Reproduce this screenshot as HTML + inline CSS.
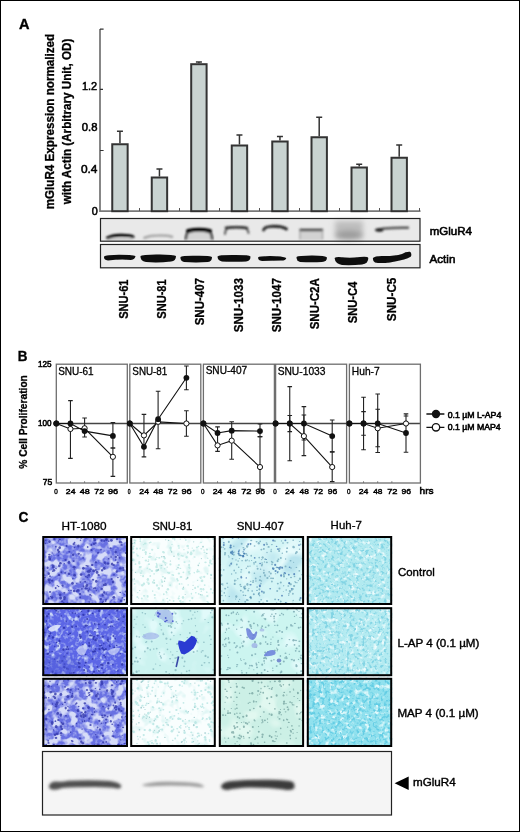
<!DOCTYPE html>
<html><head><meta charset="utf-8"><title>Figure</title>
<style>html,body{margin:0;padding:0;background:#fff;width:520px;height:832px;overflow:hidden}svg{display:block}</style>
</head><body>
<svg width="520" height="832" viewBox="0 0 520 832"><rect x="0.5" y="0.5" width="519" height="831" fill="#fff" stroke="#000" stroke-width="1"/><path d="M100 29 V211.2 H420.5" stroke="#7a7a7a" stroke-width="1.8" fill="none"/>
<path d="M100 29.2 H103.6 M100 89.3 H103 M100 150.5 H103.6" stroke="#333" stroke-width="1.2" fill="none"/>
<path d="M139.5 211 V208 M179.5 211 V208 M219.5 211 V208 M259.5 211 V208 M299.5 211 V208 M339.5 211 V208 M379.5 211 V208 M419.5 211 V208 " stroke="#555" stroke-width="1" fill="none"/>
<rect x="112.25" y="144.25" width="15.4" height="66.95" fill="#c9d3d1" stroke="#333" stroke-width="2"/>
<path d="M119.95 143.25 V131.25 M116.95 131.35 H122.95" stroke="#333" stroke-width="1.5" fill="none"/>
<rect x="151.75" y="177.50" width="15.4" height="33.70" fill="#c9d3d1" stroke="#333" stroke-width="2"/>
<path d="M159.45 176.5 V169.0 M156.45 169.1 H162.45" stroke="#333" stroke-width="1.5" fill="none"/>
<rect x="191.20" y="64.20" width="15.4" height="147.00" fill="#c9d3d1" stroke="#333" stroke-width="2"/>
<path d="M198.90 63.2 V62.0 M195.90 62.1 H201.90" stroke="#333" stroke-width="1.5" fill="none"/>
<rect x="231.75" y="145.50" width="15.4" height="65.70" fill="#c9d3d1" stroke="#333" stroke-width="2"/>
<path d="M239.45 144.5 V135.0 M236.45 135.1 H242.45" stroke="#333" stroke-width="1.5" fill="none"/>
<rect x="272.25" y="141.50" width="15.4" height="69.70" fill="#c9d3d1" stroke="#333" stroke-width="2"/>
<path d="M279.95 140.5 V136.5 M276.95 136.6 H282.95" stroke="#333" stroke-width="1.5" fill="none"/>
<rect x="311.50" y="137.25" width="15.4" height="73.95" fill="#c9d3d1" stroke="#333" stroke-width="2"/>
<path d="M319.20 136.25 V117.25 M316.20 117.35 H322.20" stroke="#333" stroke-width="1.5" fill="none"/>
<rect x="351.50" y="167.50" width="15.4" height="43.70" fill="#c9d3d1" stroke="#333" stroke-width="2"/>
<path d="M359.20 166.5 V164.25 M356.20 164.35 H362.20" stroke="#333" stroke-width="1.5" fill="none"/>
<rect x="391.50" y="157.75" width="15.4" height="53.45" fill="#c9d3d1" stroke="#333" stroke-width="2"/>
<path d="M399.20 156.75 V145.0 M396.20 145.1 H402.20" stroke="#333" stroke-width="1.5" fill="none"/>
<defs><linearGradient id="gb1" x1="0" y1="0" x2="0" y2="1"><stop offset="0" stop-color="#dcdcdc"/><stop offset="1" stop-color="#ececec"/></linearGradient><filter id="bl1" x="-20%" y="-50%" width="140%" height="200%"><feGaussianBlur stdDeviation="1.2"/></filter><filter id="bl2" x="-20%" y="-50%" width="140%" height="200%"><feGaussianBlur stdDeviation="2"/></filter></defs>
<defs><filter id="b08" x="-10%" y="-50%" width="120%" height="200%"><feGaussianBlur stdDeviation="0.8"/></filter><filter id="b06" x="-10%" y="-50%" width="120%" height="200%"><feGaussianBlur stdDeviation="0.55"/></filter><filter id="b13" x="-10%" y="-80%" width="120%" height="260%"><feGaussianBlur stdDeviation="1.6"/></filter><filter id="b15" x="-10%" y="-80%" width="120%" height="260%"><feGaussianBlur stdDeviation="1.5"/></filter><filter id="b25" x="-20%" y="-50%" width="140%" height="200%"><feGaussianBlur stdDeviation="2.5"/></filter></defs>
<rect x="100.5" y="218.5" width="319.5" height="22.7" fill="#e9e9e9"/>
<g filter="url(#b08)" fill="none" stroke-linecap="round">
<rect x="335" y="221" width="28" height="18" fill="#bdbdbd" stroke="none" filter="url(#b25)"/>
<ellipse cx="349" cy="235" rx="13" ry="4" fill="#9a9a9a" stroke="none" filter="url(#b25)"/>
<rect x="300" y="231" width="22" height="9" fill="#d2d2d2" stroke="none"/>
<rect x="187" y="232" width="24" height="8" fill="#d4d4d4" stroke="none"/>
<path d="M107.5 237.8 Q112 235.5 120 235.2 Q130 235 133 236.8" stroke="#000" stroke-width="3"/>
<path d="M108 239.5 Q120 238.5 132 239" stroke="#bbb" stroke-width="1.6"/>
<path d="M144.5 237.8 Q150 235.5 158 235.5 Q168 235.2 172 236.8" stroke="#a8a8a8" stroke-width="2.6"/>
<path d="M186 239 Q186 231.5 192 230.5 Q199 229.8 206 230.5 Q212 231.5 212 239" stroke="#111" stroke-width="2.2"/>
<path d="M188 231 Q199 228.5 210 231" stroke="#000" stroke-width="4"/>
<path d="M225 234 Q225 228 231 227.3 Q237 226.8 243 227.3 Q248 228 248.5 233" stroke="#5a5a5a" stroke-width="2"/>
<path d="M226 227.8 Q237 226.5 247 228" stroke="#2a2a2a" stroke-width="2.6"/>
<path d="M263.5 230 Q264.5 226.5 272 226.3 Q282 226 286.5 229" stroke="#222" stroke-width="2.8"/>
<path d="M300.5 230 H322" stroke="#3a3a3a" stroke-width="2.6"/>
<path d="M300 231 V239 M322.5 231 V239" stroke="#aaa" stroke-width="1.5"/>
<path d="M376 230 Q380 229.5 384 228.5 Q395 227.5 408 227.8" stroke="#555" stroke-width="2.4"/>
<ellipse cx="379.5" cy="230" rx="4" ry="1.8" fill="#222" stroke="none"/>
</g>
<rect x="100.5" y="218.5" width="319.5" height="22.7" fill="none" stroke="#222" stroke-width="1.2"/>
<rect x="100.5" y="244.5" width="319.5" height="23.3" fill="#ebebeb"/>
<g filter="url(#b06)" fill="#0a0a0a">
<path d="M104 256.5 Q106 254.8 119 254.8 Q132 254.8 135.5 256 Q135 259.5 131 260 Q120 259 108 260.6 Q103.5 260 104 256.5Z"/>
<path d="M140.5 256 Q142 254.3 158 254.4 Q174 254.3 176 256 Q176 261 171 261.5 Q158 263 146 262 Q140 261 140.5 256Z"/>
<path d="M180.5 257 Q182 255.5 196 255.7 Q210 255.5 212 257 Q212 261.5 208 262 Q196 262.8 184 262 Q180 261 180.5 257Z"/>
<path d="M217.5 256.5 Q219 255 234 255.1 Q249 255 250.5 256.5 Q250.5 261 246 261.5 Q234 262 222 261.5 Q217.5 260.5 217.5 256.5Z"/>
<path d="M258 257.5 Q259 256 270 256 Q283 256.2 286.3 258 Q286 260.5 281 260.6 Q270 261 262 261 Q258 260.5 258 257.5Z"/>
<path d="M296.5 257 Q298 255.5 312 255.5 Q326 255.5 327 257.5 Q327 261.5 322 262 Q312 262.5 300 262 Q296.5 261 296.5 257Z"/>
<path d="M334.6 258 Q336 256.3 345 257.5 Q352 258 360 257 Q368 256.2 368.3 258 Q368.5 263.5 362 264.5 Q352 265.5 342 265 Q335 263.5 334.6 258Z"/>
<path d="M373 258 Q375 255.5 385 256 Q395 256 402 254 Q406 251.5 410 251.8 Q412 253 411 256.5 Q408 258.5 404 259.5 Q398 261 390 262.5 Q380 263.5 375 262.5 Q372.5 261 373 258Z"/>
</g>
<rect x="100.5" y="244.5" width="319.5" height="23.3" fill="none" stroke="#222" stroke-width="1.2"/>
<path d="M56 423.5 H420.5" stroke="#444" stroke-width="1.3"/>
<rect x="56.3" y="364.2" width="71" height="118.8" fill="none" stroke="#6e6e6e" stroke-width="1.3"/>
<path d="M70.45 483 V481.2 M84.60 483 V481.2 M98.75 483 V481.2 " stroke="#666" stroke-width="0.8"/>
<rect x="129.8" y="364.2" width="71" height="118.8" fill="none" stroke="#6e6e6e" stroke-width="1.3"/>
<path d="M143.95 483 V481.2 M158.10 483 V481.2 M172.25 483 V481.2 " stroke="#666" stroke-width="0.8"/>
<rect x="203.4" y="364.2" width="71" height="118.8" fill="none" stroke="#6e6e6e" stroke-width="1.3"/>
<path d="M217.55 483 V481.2 M231.70 483 V481.2 M245.85 483 V481.2 " stroke="#666" stroke-width="0.8"/>
<rect x="275.6" y="364.2" width="71" height="118.8" fill="none" stroke="#6e6e6e" stroke-width="1.3"/>
<path d="M289.75 483 V481.2 M303.90 483 V481.2 M318.05 483 V481.2 " stroke="#666" stroke-width="0.8"/>
<rect x="349.4" y="364.2" width="71" height="118.8" fill="none" stroke="#6e6e6e" stroke-width="1.3"/>
<path d="M363.55 483 V481.2 M377.70 483 V481.2 M391.85 483 V481.2 " stroke="#666" stroke-width="0.8"/>
<path d="M70.45 400.6 V458.4 M68.15 400.6 H72.75 M68.15 458.4 H72.75" stroke="#222" stroke-width="1.1"/>
<path d="M84.60 418 V437 M82.30 418 H86.90 M82.30 437 H86.90" stroke="#222" stroke-width="1.1"/>
<path d="M112.90 422.5 V448 M110.60 422.5 H115.20 M110.60 448 H115.20" stroke="#222" stroke-width="1.1"/>
<path d="M112.90 448 V476.4 M110.60 448 H115.20 M110.60 476.4 H115.20" stroke="#222" stroke-width="1.1"/>
<polyline points="56.30,423.50 70.45,428.97 84.60,428.26 112.90,456.82" fill="none" stroke="#111" stroke-width="1.1"/>
<polyline points="56.30,423.50 70.45,423.50 84.60,431.12 112.90,435.88" fill="none" stroke="#111" stroke-width="1.1"/>
<circle cx="56.30" cy="423.50" r="2.6" fill="#fff" stroke="#111" stroke-width="1"/>
<circle cx="70.45" cy="428.97" r="2.6" fill="#fff" stroke="#111" stroke-width="1"/>
<circle cx="84.60" cy="428.26" r="2.6" fill="#fff" stroke="#111" stroke-width="1"/>
<circle cx="112.90" cy="456.82" r="2.6" fill="#fff" stroke="#111" stroke-width="1"/>
<circle cx="56.30" cy="423.50" r="2.9" fill="#111"/>
<circle cx="70.45" cy="423.50" r="2.9" fill="#111"/>
<circle cx="84.60" cy="431.12" r="2.9" fill="#111"/>
<circle cx="112.90" cy="435.88" r="2.9" fill="#111"/>
<path d="M143.95 414.4 V456.9 M141.65 414.4 H146.25 M141.65 456.9 H146.25" stroke="#222" stroke-width="1.1"/>
<path d="M158.10 391.25 V448.75 M155.80 391.25 H160.40 M155.80 448.75 H160.40" stroke="#222" stroke-width="1.1"/>
<path d="M186.40 366 V389.7 M184.10 366 H188.70 M184.10 389.7 H188.70" stroke="#222" stroke-width="1.1"/>
<path d="M186.40 410.8 V436.25 M184.10 410.8 H188.70 M184.10 436.25 H188.70" stroke="#222" stroke-width="1.1"/>
<polyline points="129.80,423.50 143.95,435.40 158.10,421.83 186.40,423.50" fill="none" stroke="#111" stroke-width="1.1"/>
<polyline points="129.80,423.50 143.95,446.82 158.10,419.22 186.40,377.80" fill="none" stroke="#111" stroke-width="1.1"/>
<circle cx="129.80" cy="423.50" r="2.6" fill="#fff" stroke="#111" stroke-width="1"/>
<circle cx="143.95" cy="435.40" r="2.6" fill="#fff" stroke="#111" stroke-width="1"/>
<circle cx="158.10" cy="421.83" r="2.6" fill="#fff" stroke="#111" stroke-width="1"/>
<circle cx="186.40" cy="423.50" r="2.6" fill="#fff" stroke="#111" stroke-width="1"/>
<circle cx="129.80" cy="423.50" r="2.9" fill="#111"/>
<circle cx="143.95" cy="446.82" r="2.9" fill="#111"/>
<circle cx="158.10" cy="419.22" r="2.9" fill="#111"/>
<circle cx="186.40" cy="377.80" r="2.9" fill="#111"/>
<path d="M217.55 426.9 V451.4 M215.25 426.9 H219.85 M215.25 451.4 H219.85" stroke="#222" stroke-width="1.1"/>
<path d="M231.70 421.7 V459.2 M229.40 421.7 H234.00 M229.40 459.2 H234.00" stroke="#222" stroke-width="1.1"/>
<path d="M260.00 424 V436.6 M257.70 424 H262.30 M257.70 436.6 H262.30" stroke="#222" stroke-width="1.1"/>
<path d="M260.00 436.6 V489 M257.70 436.6 H262.30 M257.70 489 H262.30" stroke="#222" stroke-width="1.1"/>
<polyline points="203.40,423.50 217.55,445.40 231.70,440.64 260.00,467.05" fill="none" stroke="#111" stroke-width="1.1"/>
<polyline points="203.40,423.50 217.55,433.02 231.70,430.64 260.00,431.12" fill="none" stroke="#111" stroke-width="1.1"/>
<circle cx="203.40" cy="423.50" r="2.6" fill="#fff" stroke="#111" stroke-width="1"/>
<circle cx="217.55" cy="445.40" r="2.6" fill="#fff" stroke="#111" stroke-width="1"/>
<circle cx="231.70" cy="440.64" r="2.6" fill="#fff" stroke="#111" stroke-width="1"/>
<circle cx="260.00" cy="467.05" r="2.6" fill="#fff" stroke="#111" stroke-width="1"/>
<circle cx="203.40" cy="423.50" r="2.9" fill="#111"/>
<circle cx="217.55" cy="433.02" r="2.9" fill="#111"/>
<circle cx="231.70" cy="430.64" r="2.9" fill="#111"/>
<circle cx="260.00" cy="431.12" r="2.9" fill="#111"/>
<path d="M289.75 386.6 V460.8 M287.45 386.6 H292.05 M287.45 460.8 H292.05" stroke="#222" stroke-width="1.1"/>
<path d="M289.75 415.5 V431.6 M287.45 415.5 H292.05 M287.45 431.6 H292.05" stroke="#222" stroke-width="1.1"/>
<path d="M303.90 406.6 V455.6 M301.60 406.6 H306.20 M301.60 455.6 H306.20" stroke="#222" stroke-width="1.1"/>
<path d="M303.90 415 V440 M301.60 415 H306.20 M301.60 440 H306.20" stroke="#222" stroke-width="1.1"/>
<path d="M332.20 420 V451.9 M329.90 420 H334.50 M329.90 451.9 H334.50" stroke="#222" stroke-width="1.1"/>
<path d="M332.20 451.9 V481.6 M329.90 451.9 H334.50 M329.90 481.6 H334.50" stroke="#222" stroke-width="1.1"/>
<polyline points="275.60,423.50 289.75,423.50 303.90,436.11 332.20,467.05" fill="none" stroke="#111" stroke-width="1.1"/>
<polyline points="275.60,423.50 289.75,423.50 303.90,423.50 332.20,436.11" fill="none" stroke="#111" stroke-width="1.1"/>
<circle cx="275.60" cy="423.50" r="2.6" fill="#fff" stroke="#111" stroke-width="1"/>
<circle cx="289.75" cy="423.50" r="2.6" fill="#fff" stroke="#111" stroke-width="1"/>
<circle cx="303.90" cy="436.11" r="2.6" fill="#fff" stroke="#111" stroke-width="1"/>
<circle cx="332.20" cy="467.05" r="2.6" fill="#fff" stroke="#111" stroke-width="1"/>
<circle cx="275.60" cy="423.50" r="2.9" fill="#111"/>
<circle cx="289.75" cy="423.50" r="2.9" fill="#111"/>
<circle cx="303.90" cy="423.50" r="2.9" fill="#111"/>
<circle cx="332.20" cy="436.11" r="2.9" fill="#111"/>
<path d="M363.55 397.2 V449.8 M361.25 397.2 H365.85 M361.25 449.8 H365.85" stroke="#222" stroke-width="1.1"/>
<path d="M363.55 411.6 V435.3 M361.25 411.6 H365.85 M361.25 435.3 H365.85" stroke="#222" stroke-width="1.1"/>
<path d="M377.70 394 V452.5 M375.40 394 H380.00 M375.40 452.5 H380.00" stroke="#222" stroke-width="1.1"/>
<path d="M377.70 409.2 V446.7 M375.40 409.2 H380.00 M375.40 446.7 H380.00" stroke="#222" stroke-width="1.1"/>
<path d="M406.00 413.9 V452.2 M403.70 413.9 H408.30 M403.70 452.2 H408.30" stroke="#222" stroke-width="1.1"/>
<path d="M406.00 416 V416 M403.70 416 H408.30 M403.70 416 H408.30" stroke="#222" stroke-width="1.1"/>
<polyline points="349.40,423.50 363.55,423.50 377.70,428.26 406.00,423.50" fill="none" stroke="#111" stroke-width="1.1"/>
<polyline points="349.40,423.50 363.55,423.50 377.70,423.50 406.00,433.02" fill="none" stroke="#111" stroke-width="1.1"/>
<circle cx="349.40" cy="423.50" r="2.6" fill="#fff" stroke="#111" stroke-width="1"/>
<circle cx="363.55" cy="423.50" r="2.6" fill="#fff" stroke="#111" stroke-width="1"/>
<circle cx="377.70" cy="428.26" r="2.6" fill="#fff" stroke="#111" stroke-width="1"/>
<circle cx="406.00" cy="423.50" r="2.6" fill="#fff" stroke="#111" stroke-width="1"/>
<circle cx="349.40" cy="423.50" r="2.9" fill="#111"/>
<circle cx="363.55" cy="423.50" r="2.9" fill="#111"/>
<circle cx="377.70" cy="423.50" r="2.9" fill="#111"/>
<circle cx="406.00" cy="433.02" r="2.9" fill="#111"/>
<path d="M426.4 414 H444.4 M426.4 427.3 H444.4" stroke="#111" stroke-width="1.3"/>
<circle cx="436" cy="414" r="4.2" fill="#111"/>
<circle cx="436" cy="427.3" r="3.7" fill="#fff" stroke="#111" stroke-width="1.3"/>
<g clip-path="url(#c00)">
<rect x="42.3" y="536" width="85.7" height="69" fill="#6870e2"/>
<rect x="42.3" y="536" width="85.7" height="69" filter="url(#f000)"/>
<rect x="42.3" y="536" width="85.7" height="69" filter="url(#f001)"/>
<g fill="#3237ac" opacity="0.8"><ellipse cx="81.1" cy="574.6" rx="1.3" ry="1.3"/><ellipse cx="85.8" cy="576.5" rx="0.8" ry="0.8"/><ellipse cx="96.3" cy="590.7" rx="0.8" ry="0.7"/><ellipse cx="50.1" cy="591.9" rx="1.2" ry="0.9"/><ellipse cx="126.5" cy="602.6" rx="1.2" ry="1.2"/><ellipse cx="55.8" cy="537.0" rx="1.1" ry="0.8"/><ellipse cx="58.6" cy="552.7" rx="0.7" ry="0.7"/><ellipse cx="80.1" cy="594.1" rx="1.1" ry="1.1"/><ellipse cx="85.1" cy="581.7" rx="1.0" ry="0.9"/><ellipse cx="127.8" cy="604.7" rx="1.3" ry="1.4"/><ellipse cx="69.3" cy="551.8" rx="0.9" ry="0.7"/><ellipse cx="108.0" cy="563.6" rx="1.3" ry="1.2"/><ellipse cx="124.4" cy="594.5" rx="0.7" ry="0.6"/><ellipse cx="120.3" cy="568.4" rx="1.4" ry="1.2"/><ellipse cx="48.6" cy="579.4" rx="1.2" ry="1.0"/><ellipse cx="49.8" cy="558.9" rx="1.4" ry="1.5"/><ellipse cx="52.4" cy="553.0" rx="0.8" ry="0.6"/><ellipse cx="110.6" cy="548.3" rx="1.1" ry="1.0"/><ellipse cx="58.6" cy="586.5" rx="0.8" ry="0.8"/><ellipse cx="52.3" cy="565.0" rx="0.8" ry="0.7"/><ellipse cx="125.5" cy="591.4" rx="0.9" ry="1.0"/><ellipse cx="60.4" cy="563.2" rx="1.3" ry="1.3"/><ellipse cx="50.9" cy="604.3" rx="0.8" ry="0.7"/><ellipse cx="108.5" cy="558.7" rx="0.9" ry="0.7"/><ellipse cx="50.0" cy="576.2" rx="0.9" ry="0.9"/><ellipse cx="74.2" cy="567.3" rx="1.4" ry="1.3"/><ellipse cx="91.5" cy="595.8" rx="0.8" ry="0.6"/><ellipse cx="120.2" cy="592.4" rx="0.9" ry="0.7"/><ellipse cx="105.7" cy="600.9" rx="0.8" ry="1.0"/><ellipse cx="117.9" cy="577.6" rx="1.0" ry="0.7"/><ellipse cx="45.6" cy="602.4" rx="0.9" ry="0.9"/><ellipse cx="64.3" cy="592.8" rx="1.1" ry="0.9"/><ellipse cx="57.3" cy="585.7" rx="0.7" ry="0.6"/><ellipse cx="90.2" cy="594.8" rx="1.1" ry="0.9"/><ellipse cx="120.9" cy="550.1" rx="0.7" ry="0.6"/><ellipse cx="80.5" cy="540.2" rx="0.8" ry="0.7"/><ellipse cx="91.3" cy="545.1" rx="1.0" ry="1.1"/><ellipse cx="126.3" cy="581.3" rx="1.2" ry="1.2"/><ellipse cx="54.3" cy="538.4" rx="0.7" ry="0.8"/><ellipse cx="102.4" cy="602.4" rx="0.7" ry="0.7"/><ellipse cx="83.6" cy="586.4" rx="0.9" ry="1.1"/><ellipse cx="48.8" cy="573.7" rx="1.2" ry="1.4"/><ellipse cx="105.5" cy="584.6" rx="1.3" ry="1.5"/><ellipse cx="72.5" cy="583.3" rx="1.3" ry="1.5"/><ellipse cx="78.1" cy="590.5" rx="1.3" ry="1.3"/><ellipse cx="95.9" cy="562.4" rx="1.1" ry="1.1"/><ellipse cx="49.2" cy="580.1" rx="1.4" ry="1.6"/><ellipse cx="104.7" cy="562.8" rx="1.2" ry="1.2"/><ellipse cx="80.1" cy="593.8" rx="0.8" ry="0.8"/><ellipse cx="44.9" cy="577.5" rx="1.0" ry="0.8"/><ellipse cx="102.1" cy="570.3" rx="1.1" ry="1.3"/><ellipse cx="64.2" cy="536.8" rx="0.9" ry="0.9"/><ellipse cx="59.7" cy="547.7" rx="1.3" ry="1.4"/><ellipse cx="80.2" cy="597.5" rx="0.9" ry="1.0"/><ellipse cx="59.3" cy="565.7" rx="1.3" ry="1.5"/><ellipse cx="117.7" cy="562.5" rx="1.1" ry="1.0"/><ellipse cx="54.0" cy="570.3" rx="1.3" ry="1.4"/><ellipse cx="103.3" cy="601.6" rx="0.9" ry="0.7"/><ellipse cx="80.9" cy="555.0" rx="0.8" ry="0.8"/><ellipse cx="95.9" cy="570.1" rx="0.9" ry="1.0"/><ellipse cx="126.5" cy="567.2" rx="0.8" ry="0.5"/><ellipse cx="117.1" cy="538.9" rx="1.2" ry="1.2"/><ellipse cx="68.8" cy="590.6" rx="0.7" ry="0.5"/><ellipse cx="81.3" cy="537.7" rx="1.3" ry="1.0"/><ellipse cx="54.4" cy="539.2" rx="1.1" ry="1.1"/><ellipse cx="96.3" cy="581.2" rx="1.3" ry="1.5"/><ellipse cx="101.0" cy="549.8" rx="1.0" ry="0.8"/><ellipse cx="43.2" cy="568.6" rx="1.2" ry="0.9"/><ellipse cx="65.6" cy="559.9" rx="1.2" ry="1.1"/><ellipse cx="95.0" cy="588.2" rx="1.0" ry="1.1"/><ellipse cx="120.0" cy="542.0" rx="1.4" ry="1.4"/><ellipse cx="53.4" cy="567.3" rx="1.1" ry="1.3"/><ellipse cx="74.6" cy="575.2" rx="1.3" ry="1.4"/><ellipse cx="123.2" cy="568.0" rx="1.2" ry="0.9"/><ellipse cx="104.2" cy="592.5" rx="1.1" ry="1.2"/><ellipse cx="60.6" cy="598.1" rx="1.4" ry="1.6"/><ellipse cx="88.3" cy="590.6" rx="0.9" ry="1.1"/><ellipse cx="115.6" cy="560.0" rx="0.8" ry="0.7"/><ellipse cx="89.5" cy="589.0" rx="1.0" ry="0.7"/><ellipse cx="111.6" cy="540.4" rx="1.3" ry="1.0"/><ellipse cx="71.0" cy="590.4" rx="0.8" ry="0.6"/><ellipse cx="86.6" cy="585.9" rx="1.3" ry="1.3"/><ellipse cx="123.4" cy="570.0" rx="1.4" ry="1.0"/><ellipse cx="61.3" cy="572.3" rx="0.9" ry="1.0"/><ellipse cx="97.1" cy="572.1" rx="1.3" ry="1.3"/><ellipse cx="69.0" cy="562.3" rx="1.3" ry="1.5"/><ellipse cx="60.1" cy="594.7" rx="1.4" ry="1.3"/><ellipse cx="91.4" cy="549.9" rx="1.1" ry="1.0"/><ellipse cx="94.2" cy="537.9" rx="1.4" ry="1.3"/><ellipse cx="76.6" cy="591.3" rx="1.1" ry="1.0"/><ellipse cx="101.5" cy="540.5" rx="1.1" ry="1.0"/><ellipse cx="124.3" cy="599.7" rx="0.9" ry="0.8"/><ellipse cx="53.2" cy="565.9" rx="1.3" ry="1.5"/><ellipse cx="83.1" cy="557.9" rx="0.8" ry="0.8"/><ellipse cx="121.6" cy="544.9" rx="1.2" ry="0.9"/><ellipse cx="58.9" cy="551.7" rx="1.2" ry="1.0"/><ellipse cx="72.8" cy="578.8" rx="0.8" ry="0.8"/><ellipse cx="52.8" cy="571.2" rx="0.9" ry="0.7"/><ellipse cx="87.8" cy="566.1" rx="1.0" ry="0.9"/><ellipse cx="87.7" cy="547.0" rx="0.8" ry="0.9"/><ellipse cx="97.0" cy="572.5" rx="1.3" ry="1.3"/><ellipse cx="115.7" cy="552.1" rx="1.2" ry="1.3"/><ellipse cx="119.7" cy="557.8" rx="0.9" ry="1.1"/><ellipse cx="61.0" cy="604.9" rx="1.3" ry="1.0"/><ellipse cx="62.8" cy="586.1" rx="0.9" ry="0.7"/><ellipse cx="113.6" cy="565.1" rx="1.3" ry="1.0"/><ellipse cx="76.8" cy="583.3" rx="0.7" ry="0.6"/><ellipse cx="100.8" cy="598.9" rx="1.4" ry="1.0"/><ellipse cx="85.6" cy="588.3" rx="1.1" ry="1.1"/><ellipse cx="58.5" cy="540.9" rx="0.8" ry="0.6"/><ellipse cx="89.6" cy="571.5" rx="1.1" ry="0.8"/><ellipse cx="58.1" cy="550.1" rx="1.3" ry="1.5"/><ellipse cx="121.7" cy="542.6" rx="0.7" ry="0.9"/><ellipse cx="81.9" cy="588.8" rx="0.9" ry="0.9"/><ellipse cx="86.5" cy="565.7" rx="1.1" ry="0.8"/><ellipse cx="102.4" cy="594.3" rx="0.8" ry="0.8"/><ellipse cx="105.7" cy="564.0" rx="0.8" ry="0.7"/><ellipse cx="86.2" cy="537.1" rx="1.3" ry="1.5"/><ellipse cx="102.7" cy="595.4" rx="1.1" ry="1.0"/><ellipse cx="93.7" cy="570.8" rx="1.4" ry="1.5"/><ellipse cx="64.4" cy="598.9" rx="1.2" ry="1.3"/><ellipse cx="112.1" cy="564.0" rx="1.3" ry="1.5"/><ellipse cx="101.8" cy="588.9" rx="1.2" ry="1.1"/><ellipse cx="104.2" cy="540.9" rx="0.9" ry="0.9"/><ellipse cx="43.2" cy="560.5" rx="1.1" ry="1.2"/><ellipse cx="62.2" cy="601.2" rx="1.2" ry="1.0"/><ellipse cx="98.8" cy="575.3" rx="1.1" ry="1.0"/><ellipse cx="128.0" cy="580.3" rx="1.2" ry="1.3"/><ellipse cx="126.3" cy="537.6" rx="1.1" ry="1.2"/><ellipse cx="64.3" cy="563.7" rx="0.7" ry="0.6"/><ellipse cx="74.5" cy="542.8" rx="0.9" ry="1.0"/><ellipse cx="89.4" cy="571.0" rx="1.4" ry="1.4"/><ellipse cx="127.6" cy="580.0" rx="1.3" ry="0.9"/><ellipse cx="93.5" cy="588.4" rx="0.7" ry="0.9"/><ellipse cx="56.0" cy="568.6" rx="0.8" ry="0.8"/><ellipse cx="94.7" cy="540.0" rx="1.4" ry="1.2"/><ellipse cx="87.4" cy="577.3" rx="1.0" ry="0.8"/><ellipse cx="98.4" cy="574.7" rx="0.9" ry="1.0"/><ellipse cx="67.7" cy="537.0" rx="0.9" ry="0.6"/><ellipse cx="55.7" cy="588.1" rx="1.0" ry="1.1"/><ellipse cx="106.4" cy="539.5" rx="1.4" ry="1.6"/><ellipse cx="48.6" cy="598.5" rx="1.0" ry="0.9"/><ellipse cx="125.7" cy="552.8" rx="1.1" ry="1.2"/><ellipse cx="104.2" cy="568.3" rx="1.4" ry="1.5"/><ellipse cx="94.0" cy="543.9" rx="1.1" ry="1.1"/><ellipse cx="59.8" cy="539.6" rx="1.1" ry="0.8"/><ellipse cx="80.3" cy="582.1" rx="1.0" ry="0.8"/><ellipse cx="92.2" cy="564.9" rx="1.2" ry="1.2"/><ellipse cx="127.8" cy="601.7" rx="1.2" ry="1.0"/><ellipse cx="52.1" cy="597.6" rx="1.2" ry="1.3"/><ellipse cx="73.1" cy="554.7" rx="1.2" ry="1.2"/><ellipse cx="93.0" cy="579.7" rx="1.2" ry="1.0"/><ellipse cx="63.6" cy="603.6" rx="1.3" ry="1.5"/><ellipse cx="45.7" cy="540.2" rx="0.9" ry="0.8"/><ellipse cx="95.7" cy="543.1" rx="1.1" ry="0.8"/><ellipse cx="49.7" cy="582.7" rx="1.1" ry="1.1"/><ellipse cx="74.3" cy="569.0" rx="0.8" ry="0.7"/><ellipse cx="106.1" cy="593.9" rx="0.8" ry="0.6"/><ellipse cx="111.6" cy="579.0" rx="1.2" ry="1.0"/><ellipse cx="78.7" cy="553.8" rx="1.3" ry="1.1"/><ellipse cx="98.3" cy="604.3" rx="0.9" ry="0.9"/><ellipse cx="106.2" cy="599.5" rx="1.0" ry="0.9"/><ellipse cx="50.6" cy="596.4" rx="0.8" ry="0.6"/><ellipse cx="90.7" cy="569.5" rx="1.2" ry="1.0"/><ellipse cx="108.8" cy="541.2" rx="0.8" ry="0.9"/><ellipse cx="49.3" cy="557.0" rx="1.2" ry="1.3"/><ellipse cx="66.5" cy="545.9" rx="1.0" ry="1.0"/><ellipse cx="73.7" cy="544.1" rx="1.2" ry="1.2"/><ellipse cx="121.0" cy="600.9" rx="1.3" ry="1.2"/><ellipse cx="111.1" cy="557.0" rx="0.9" ry="0.8"/><ellipse cx="122.4" cy="597.7" rx="0.9" ry="0.8"/><ellipse cx="73.6" cy="561.1" rx="1.0" ry="0.9"/><ellipse cx="59.0" cy="574.9" rx="1.3" ry="1.2"/><ellipse cx="114.0" cy="574.8" rx="0.8" ry="0.9"/><ellipse cx="117.8" cy="555.4" rx="0.7" ry="0.7"/><ellipse cx="88.9" cy="575.2" rx="1.4" ry="1.4"/><ellipse cx="111.2" cy="540.4" rx="1.1" ry="1.2"/><ellipse cx="49.5" cy="541.6" rx="1.2" ry="1.4"/><ellipse cx="49.6" cy="579.8" rx="0.8" ry="0.9"/><ellipse cx="97.9" cy="552.9" rx="0.9" ry="0.9"/><ellipse cx="87.0" cy="588.8" rx="1.0" ry="0.8"/><ellipse cx="125.3" cy="582.4" rx="1.0" ry="1.0"/><ellipse cx="104.1" cy="584.9" rx="1.3" ry="1.2"/><ellipse cx="113.1" cy="582.0" rx="1.3" ry="1.4"/><ellipse cx="113.8" cy="597.3" rx="1.4" ry="1.4"/><ellipse cx="87.2" cy="585.0" rx="1.3" ry="1.1"/><ellipse cx="78.3" cy="546.1" rx="1.2" ry="1.5"/><ellipse cx="74.5" cy="547.6" rx="0.8" ry="0.8"/><ellipse cx="67.3" cy="602.9" rx="0.7" ry="0.6"/><ellipse cx="52.1" cy="580.7" rx="1.2" ry="1.0"/><ellipse cx="47.6" cy="567.7" rx="1.1" ry="1.3"/><ellipse cx="45.4" cy="543.5" rx="0.8" ry="0.7"/><ellipse cx="62.5" cy="585.5" rx="1.1" ry="0.9"/><ellipse cx="58.2" cy="555.4" rx="0.8" ry="0.9"/><ellipse cx="69.0" cy="573.8" rx="1.3" ry="1.2"/><ellipse cx="64.6" cy="597.2" rx="1.3" ry="1.2"/><ellipse cx="89.2" cy="602.0" rx="1.0" ry="0.8"/><ellipse cx="46.6" cy="601.4" rx="1.3" ry="1.1"/><ellipse cx="87.5" cy="571.6" rx="0.9" ry="1.1"/><ellipse cx="98.7" cy="552.4" rx="0.7" ry="0.7"/><ellipse cx="74.1" cy="591.0" rx="1.2" ry="1.2"/><ellipse cx="55.8" cy="546.8" rx="0.9" ry="0.8"/><ellipse cx="116.8" cy="571.6" rx="1.1" ry="1.4"/><ellipse cx="65.1" cy="572.9" rx="0.8" ry="0.9"/><ellipse cx="42.4" cy="592.7" rx="1.3" ry="1.4"/><ellipse cx="49.4" cy="554.6" rx="1.2" ry="0.9"/><ellipse cx="83.4" cy="568.3" rx="1.4" ry="1.4"/><ellipse cx="115.8" cy="556.9" rx="1.3" ry="1.1"/><ellipse cx="120.9" cy="542.3" rx="1.3" ry="1.0"/><ellipse cx="88.9" cy="572.3" rx="0.8" ry="0.9"/></g>
</g>
<rect x="43.3" y="537" width="83.7" height="67" fill="none" stroke="#000" stroke-width="2"/>
<g clip-path="url(#c01)">
<rect x="130.2" y="536" width="85.60000000000002" height="69" fill="#f9fefe"/>
<rect x="130.2" y="536" width="85.60000000000002" height="69" filter="url(#f010)"/>
<g fill="#b9e6e2" opacity="0.8"><ellipse cx="156.9" cy="557.4" rx="0.7" ry="0.6"/><ellipse cx="170.2" cy="585.3" rx="0.9" ry="1.0"/><ellipse cx="139.3" cy="563.2" rx="1.0" ry="1.2"/><ellipse cx="201.2" cy="581.1" rx="0.7" ry="0.6"/><ellipse cx="191.0" cy="552.4" rx="1.0" ry="1.0"/><ellipse cx="131.1" cy="604.4" rx="1.2" ry="0.9"/><ellipse cx="182.9" cy="556.0" rx="0.9" ry="0.9"/><ellipse cx="155.7" cy="559.3" rx="0.9" ry="1.0"/><ellipse cx="152.2" cy="549.8" rx="1.1" ry="1.0"/><ellipse cx="211.1" cy="574.8" rx="1.1" ry="1.0"/><ellipse cx="201.0" cy="542.4" rx="0.8" ry="0.6"/><ellipse cx="188.2" cy="584.9" rx="0.8" ry="0.7"/><ellipse cx="201.8" cy="576.9" rx="0.8" ry="0.6"/><ellipse cx="143.6" cy="544.6" rx="0.9" ry="0.7"/><ellipse cx="209.0" cy="565.5" rx="1.0" ry="1.0"/><ellipse cx="195.8" cy="592.7" rx="0.9" ry="0.8"/><ellipse cx="165.5" cy="537.1" rx="0.9" ry="1.0"/><ellipse cx="214.3" cy="590.5" rx="1.1" ry="1.1"/><ellipse cx="131.8" cy="558.8" rx="0.9" ry="0.9"/><ellipse cx="139.3" cy="562.1" rx="1.0" ry="1.1"/><ellipse cx="200.8" cy="578.2" rx="0.8" ry="0.9"/><ellipse cx="207.5" cy="573.8" rx="0.9" ry="0.9"/><ellipse cx="142.3" cy="585.2" rx="1.3" ry="1.2"/><ellipse cx="191.4" cy="593.7" rx="0.8" ry="1.0"/><ellipse cx="183.9" cy="549.7" rx="0.7" ry="0.6"/><ellipse cx="179.5" cy="584.1" rx="0.9" ry="1.0"/><ellipse cx="161.1" cy="567.9" rx="0.8" ry="0.9"/><ellipse cx="141.8" cy="598.4" rx="1.0" ry="1.0"/><ellipse cx="178.2" cy="554.2" rx="1.2" ry="1.5"/><ellipse cx="200.2" cy="577.5" rx="0.8" ry="0.9"/><ellipse cx="154.9" cy="597.9" rx="0.8" ry="0.8"/><ellipse cx="201.3" cy="548.8" rx="1.0" ry="0.8"/><ellipse cx="132.9" cy="548.4" rx="1.3" ry="1.5"/><ellipse cx="186.6" cy="557.2" rx="1.1" ry="1.2"/><ellipse cx="162.9" cy="576.8" rx="1.2" ry="0.8"/><ellipse cx="147.3" cy="568.3" rx="0.8" ry="0.7"/><ellipse cx="179.0" cy="548.0" rx="1.0" ry="0.8"/><ellipse cx="178.8" cy="558.9" rx="1.1" ry="0.8"/><ellipse cx="187.6" cy="546.0" rx="1.3" ry="1.3"/><ellipse cx="170.4" cy="564.4" rx="1.1" ry="1.1"/><ellipse cx="195.1" cy="587.9" rx="1.0" ry="1.2"/><ellipse cx="202.0" cy="595.0" rx="0.9" ry="0.9"/><ellipse cx="178.6" cy="598.5" rx="1.0" ry="1.0"/><ellipse cx="167.2" cy="598.4" rx="0.9" ry="0.6"/><ellipse cx="192.3" cy="598.1" rx="1.1" ry="1.1"/><ellipse cx="194.6" cy="557.0" rx="1.1" ry="0.8"/><ellipse cx="140.9" cy="566.8" rx="1.0" ry="0.9"/><ellipse cx="134.6" cy="583.9" rx="1.0" ry="0.8"/><ellipse cx="156.4" cy="563.3" rx="0.8" ry="0.6"/><ellipse cx="208.2" cy="602.7" rx="1.1" ry="1.2"/><ellipse cx="166.3" cy="591.6" rx="0.8" ry="0.9"/><ellipse cx="178.7" cy="598.3" rx="0.8" ry="0.8"/><ellipse cx="140.8" cy="573.1" rx="1.3" ry="0.9"/><ellipse cx="151.1" cy="556.6" rx="0.9" ry="0.7"/><ellipse cx="206.8" cy="592.3" rx="0.9" ry="0.8"/><ellipse cx="180.3" cy="539.2" rx="0.7" ry="0.8"/><ellipse cx="156.6" cy="570.4" rx="1.3" ry="1.5"/><ellipse cx="170.7" cy="550.2" rx="0.9" ry="1.0"/><ellipse cx="207.0" cy="549.5" rx="1.2" ry="1.1"/><ellipse cx="170.6" cy="547.9" rx="1.2" ry="1.5"/><ellipse cx="147.5" cy="579.6" rx="0.8" ry="0.9"/><ellipse cx="134.5" cy="543.3" rx="1.1" ry="1.0"/><ellipse cx="207.3" cy="596.0" rx="1.1" ry="0.9"/><ellipse cx="189.8" cy="600.7" rx="1.0" ry="0.7"/><ellipse cx="149.3" cy="557.2" rx="1.1" ry="0.9"/><ellipse cx="145.7" cy="552.2" rx="1.1" ry="1.2"/><ellipse cx="162.1" cy="581.7" rx="1.2" ry="1.2"/><ellipse cx="149.8" cy="556.8" rx="1.3" ry="1.3"/><ellipse cx="153.9" cy="580.2" rx="0.8" ry="0.9"/><ellipse cx="167.9" cy="572.5" rx="1.0" ry="0.7"/><ellipse cx="181.5" cy="555.6" rx="0.9" ry="0.9"/><ellipse cx="137.7" cy="555.7" rx="1.2" ry="0.9"/><ellipse cx="154.1" cy="573.8" rx="0.8" ry="0.9"/><ellipse cx="214.8" cy="538.3" rx="1.0" ry="1.1"/><ellipse cx="163.1" cy="600.1" rx="1.0" ry="0.8"/><ellipse cx="177.8" cy="580.5" rx="0.9" ry="0.9"/><ellipse cx="197.2" cy="571.7" rx="1.0" ry="1.1"/><ellipse cx="188.8" cy="571.9" rx="1.3" ry="1.0"/><ellipse cx="196.9" cy="547.4" rx="1.1" ry="0.9"/><ellipse cx="167.9" cy="589.3" rx="1.2" ry="1.3"/><ellipse cx="150.4" cy="569.7" rx="0.8" ry="0.8"/><ellipse cx="172.9" cy="538.4" rx="1.1" ry="1.1"/><ellipse cx="179.2" cy="596.2" rx="0.8" ry="0.6"/><ellipse cx="131.7" cy="570.2" rx="1.0" ry="0.9"/><ellipse cx="152.7" cy="591.1" rx="0.7" ry="0.9"/><ellipse cx="178.9" cy="573.5" rx="1.2" ry="1.0"/><ellipse cx="142.7" cy="557.5" rx="0.7" ry="0.6"/><ellipse cx="183.4" cy="572.3" rx="0.9" ry="0.9"/><ellipse cx="137.8" cy="592.6" rx="0.8" ry="0.7"/><ellipse cx="143.9" cy="583.7" rx="1.2" ry="1.3"/><ellipse cx="135.4" cy="564.3" rx="0.9" ry="0.7"/><ellipse cx="213.3" cy="538.9" rx="1.0" ry="1.1"/><ellipse cx="214.6" cy="546.0" rx="1.0" ry="1.0"/><ellipse cx="133.6" cy="552.6" rx="1.2" ry="1.0"/><ellipse cx="163.8" cy="556.6" rx="1.0" ry="0.7"/><ellipse cx="133.1" cy="604.7" rx="1.2" ry="1.2"/><ellipse cx="149.9" cy="553.5" rx="1.0" ry="0.8"/><ellipse cx="169.7" cy="600.3" rx="0.9" ry="0.8"/><ellipse cx="214.2" cy="578.2" rx="0.7" ry="0.7"/><ellipse cx="185.8" cy="540.0" rx="0.9" ry="0.9"/><ellipse cx="204.2" cy="576.8" rx="1.2" ry="1.1"/><ellipse cx="163.8" cy="594.2" rx="0.9" ry="1.0"/><ellipse cx="148.6" cy="560.0" rx="0.8" ry="0.8"/><ellipse cx="144.2" cy="550.1" rx="0.8" ry="0.8"/><ellipse cx="156.6" cy="566.9" rx="1.3" ry="1.3"/><ellipse cx="204.0" cy="550.1" rx="0.9" ry="0.7"/><ellipse cx="189.4" cy="561.0" rx="0.9" ry="0.6"/><ellipse cx="145.8" cy="554.1" rx="0.9" ry="1.1"/><ellipse cx="191.4" cy="554.5" rx="0.9" ry="0.7"/><ellipse cx="210.4" cy="560.8" rx="1.2" ry="1.2"/><ellipse cx="207.8" cy="537.4" rx="0.9" ry="0.8"/><ellipse cx="137.3" cy="596.9" rx="0.9" ry="1.0"/><ellipse cx="174.7" cy="539.8" rx="0.9" ry="0.8"/><ellipse cx="133.7" cy="546.4" rx="1.1" ry="0.8"/><ellipse cx="156.9" cy="565.3" rx="1.0" ry="0.8"/><ellipse cx="190.7" cy="554.0" rx="1.1" ry="1.2"/><ellipse cx="142.8" cy="550.1" rx="0.9" ry="0.9"/><ellipse cx="164.9" cy="562.7" rx="1.2" ry="1.0"/><ellipse cx="155.2" cy="559.8" rx="0.8" ry="0.6"/><ellipse cx="132.3" cy="579.5" rx="1.0" ry="1.1"/><ellipse cx="213.7" cy="556.6" rx="1.1" ry="1.3"/><ellipse cx="148.7" cy="583.6" rx="1.1" ry="1.3"/><ellipse cx="204.5" cy="552.2" rx="1.1" ry="0.8"/><ellipse cx="166.8" cy="563.1" rx="0.7" ry="0.7"/><ellipse cx="158.3" cy="570.3" rx="0.9" ry="0.7"/><ellipse cx="164.6" cy="568.8" rx="0.8" ry="0.8"/><ellipse cx="150.7" cy="542.4" rx="0.9" ry="0.8"/><ellipse cx="143.1" cy="576.2" rx="1.1" ry="1.1"/><ellipse cx="190.1" cy="537.6" rx="0.9" ry="0.8"/><ellipse cx="135.6" cy="563.9" rx="0.7" ry="0.7"/><ellipse cx="180.4" cy="568.4" rx="0.9" ry="0.7"/><ellipse cx="132.2" cy="559.9" rx="1.2" ry="1.2"/><ellipse cx="152.6" cy="582.1" rx="0.8" ry="0.8"/><ellipse cx="182.9" cy="601.9" rx="0.9" ry="0.9"/><ellipse cx="210.9" cy="589.2" rx="1.1" ry="1.1"/><ellipse cx="165.4" cy="564.7" rx="0.9" ry="1.0"/><ellipse cx="205.5" cy="562.3" rx="1.2" ry="0.9"/><ellipse cx="141.8" cy="571.0" rx="0.9" ry="0.8"/><ellipse cx="213.8" cy="546.3" rx="0.8" ry="0.7"/><ellipse cx="188.4" cy="552.2" rx="0.7" ry="0.7"/><ellipse cx="163.9" cy="552.5" rx="1.0" ry="1.0"/><ellipse cx="177.1" cy="579.1" rx="1.0" ry="1.2"/><ellipse cx="213.1" cy="559.0" rx="0.9" ry="1.0"/><ellipse cx="157.0" cy="585.4" rx="1.1" ry="1.2"/><ellipse cx="212.7" cy="592.9" rx="0.8" ry="0.8"/><ellipse cx="172.2" cy="574.9" rx="0.9" ry="0.8"/><ellipse cx="194.3" cy="572.8" rx="0.8" ry="0.7"/><ellipse cx="158.0" cy="548.3" rx="1.0" ry="0.8"/><ellipse cx="135.6" cy="540.7" rx="0.8" ry="0.8"/><ellipse cx="139.9" cy="567.2" rx="1.2" ry="1.1"/><ellipse cx="144.1" cy="595.8" rx="1.2" ry="0.9"/><ellipse cx="151.9" cy="571.0" rx="1.2" ry="1.1"/><ellipse cx="191.5" cy="553.4" rx="1.1" ry="1.0"/><ellipse cx="158.8" cy="588.4" rx="1.2" ry="1.3"/><ellipse cx="178.8" cy="565.0" rx="1.1" ry="1.1"/><ellipse cx="201.3" cy="591.3" rx="0.8" ry="0.7"/><ellipse cx="187.5" cy="551.9" rx="0.8" ry="0.6"/><ellipse cx="180.3" cy="600.9" rx="1.3" ry="1.0"/><ellipse cx="189.1" cy="564.9" rx="1.1" ry="1.0"/><ellipse cx="210.1" cy="604.2" rx="0.7" ry="0.8"/><ellipse cx="140.3" cy="538.9" rx="0.9" ry="0.9"/><ellipse cx="215.3" cy="544.3" rx="0.9" ry="0.6"/><ellipse cx="176.6" cy="569.3" rx="0.9" ry="0.8"/><ellipse cx="198.7" cy="593.9" rx="0.9" ry="0.8"/><ellipse cx="183.1" cy="588.8" rx="1.3" ry="1.2"/><ellipse cx="189.6" cy="573.7" rx="1.2" ry="0.9"/><ellipse cx="145.2" cy="543.4" rx="1.3" ry="1.0"/><ellipse cx="172.0" cy="544.3" rx="0.9" ry="0.6"/><ellipse cx="178.6" cy="545.9" rx="1.1" ry="0.9"/><ellipse cx="149.7" cy="569.3" rx="0.9" ry="0.8"/><ellipse cx="134.6" cy="540.4" rx="1.2" ry="1.1"/><ellipse cx="136.9" cy="548.6" rx="1.0" ry="1.2"/><ellipse cx="147.5" cy="595.8" rx="1.0" ry="0.9"/><ellipse cx="199.3" cy="563.3" rx="0.7" ry="0.7"/><ellipse cx="186.4" cy="579.0" rx="0.9" ry="1.0"/><ellipse cx="204.2" cy="604.6" rx="1.0" ry="1.1"/><ellipse cx="192.3" cy="548.1" rx="0.7" ry="0.6"/><ellipse cx="140.4" cy="541.2" rx="0.9" ry="1.0"/><ellipse cx="156.7" cy="571.5" rx="0.7" ry="0.6"/><ellipse cx="212.3" cy="536.8" rx="1.0" ry="1.1"/><ellipse cx="198.0" cy="586.7" rx="0.9" ry="1.0"/><ellipse cx="201.0" cy="589.0" rx="1.3" ry="1.0"/><ellipse cx="211.6" cy="563.8" rx="1.1" ry="0.9"/><ellipse cx="208.1" cy="537.6" rx="1.0" ry="0.9"/><ellipse cx="163.4" cy="561.5" rx="1.1" ry="1.2"/><ellipse cx="161.4" cy="580.0" rx="0.9" ry="0.8"/><ellipse cx="207.7" cy="558.2" rx="0.8" ry="0.7"/><ellipse cx="193.7" cy="550.6" rx="1.1" ry="1.1"/><ellipse cx="188.4" cy="548.2" rx="0.8" ry="0.6"/><ellipse cx="160.2" cy="565.7" rx="0.7" ry="0.7"/><ellipse cx="164.7" cy="558.2" rx="1.0" ry="1.2"/><ellipse cx="147.7" cy="596.8" rx="0.9" ry="1.0"/><ellipse cx="139.5" cy="604.1" rx="1.0" ry="1.1"/><ellipse cx="149.0" cy="564.2" rx="1.1" ry="0.9"/><ellipse cx="153.6" cy="582.7" rx="1.3" ry="1.1"/><ellipse cx="145.9" cy="560.6" rx="1.3" ry="1.0"/><ellipse cx="184.5" cy="562.1" rx="1.1" ry="0.9"/><ellipse cx="183.0" cy="597.2" rx="1.2" ry="1.2"/><ellipse cx="173.4" cy="575.2" rx="0.8" ry="0.9"/><ellipse cx="189.3" cy="567.3" rx="1.1" ry="1.0"/><ellipse cx="163.1" cy="551.9" rx="1.1" ry="1.0"/><ellipse cx="174.3" cy="538.2" rx="1.1" ry="1.0"/><ellipse cx="181.0" cy="577.0" rx="1.3" ry="1.0"/><ellipse cx="170.3" cy="604.5" rx="1.1" ry="1.0"/><ellipse cx="193.3" cy="604.3" rx="0.9" ry="1.1"/><ellipse cx="141.0" cy="604.3" rx="1.0" ry="0.8"/><ellipse cx="202.1" cy="580.8" rx="1.3" ry="1.4"/><ellipse cx="198.5" cy="571.3" rx="1.3" ry="0.9"/><ellipse cx="204.7" cy="585.1" rx="0.9" ry="0.9"/><ellipse cx="169.1" cy="573.0" rx="1.2" ry="1.0"/><ellipse cx="154.1" cy="580.4" rx="0.7" ry="0.7"/><ellipse cx="197.6" cy="569.9" rx="0.8" ry="0.9"/><ellipse cx="203.4" cy="589.2" rx="1.0" ry="1.2"/><ellipse cx="198.4" cy="546.5" rx="0.9" ry="0.7"/><ellipse cx="133.4" cy="559.9" rx="1.2" ry="1.4"/><ellipse cx="140.2" cy="548.5" rx="0.9" ry="1.0"/><ellipse cx="183.0" cy="598.2" rx="0.7" ry="0.9"/><ellipse cx="147.9" cy="579.4" rx="1.2" ry="1.3"/><ellipse cx="147.1" cy="582.1" rx="1.0" ry="0.7"/><ellipse cx="159.3" cy="557.8" rx="1.1" ry="0.9"/><ellipse cx="181.8" cy="583.9" rx="0.8" ry="0.6"/><ellipse cx="189.6" cy="568.2" rx="0.8" ry="0.6"/><ellipse cx="210.8" cy="578.1" rx="0.9" ry="0.7"/><ellipse cx="215.4" cy="583.7" rx="1.1" ry="1.0"/><ellipse cx="156.8" cy="564.2" rx="0.8" ry="0.8"/><ellipse cx="166.6" cy="592.6" rx="0.9" ry="0.9"/><ellipse cx="173.6" cy="601.0" rx="0.9" ry="1.0"/><ellipse cx="150.3" cy="576.0" rx="0.9" ry="1.0"/><ellipse cx="154.7" cy="595.0" rx="1.1" ry="1.0"/><ellipse cx="210.1" cy="562.7" rx="1.1" ry="1.1"/></g>
<g fill="#96c8c8" opacity="0.8"><ellipse cx="168.6" cy="540.4" rx="0.7" ry="0.6"/><ellipse cx="167.9" cy="601.9" rx="0.6" ry="0.6"/><ellipse cx="187.7" cy="552.9" rx="0.7" ry="0.5"/><ellipse cx="206.8" cy="553.4" rx="0.7" ry="0.6"/><ellipse cx="200.4" cy="594.7" rx="0.7" ry="0.7"/><ellipse cx="138.7" cy="597.9" rx="0.5" ry="0.5"/><ellipse cx="162.3" cy="585.9" rx="0.8" ry="0.7"/><ellipse cx="207.1" cy="601.5" rx="0.5" ry="0.5"/><ellipse cx="170.4" cy="561.0" rx="0.7" ry="0.6"/><ellipse cx="187.6" cy="577.8" rx="0.9" ry="1.1"/><ellipse cx="215.2" cy="563.3" rx="0.8" ry="0.9"/><ellipse cx="190.2" cy="604.8" rx="0.5" ry="0.5"/><ellipse cx="164.6" cy="581.3" rx="0.6" ry="0.7"/><ellipse cx="148.1" cy="561.5" rx="0.6" ry="0.5"/><ellipse cx="193.7" cy="541.8" rx="0.6" ry="0.6"/><ellipse cx="183.5" cy="587.2" rx="0.6" ry="0.7"/><ellipse cx="192.8" cy="589.5" rx="0.5" ry="0.5"/><ellipse cx="131.6" cy="595.3" rx="0.9" ry="1.0"/><ellipse cx="132.3" cy="560.2" rx="0.7" ry="0.7"/><ellipse cx="139.7" cy="590.5" rx="0.6" ry="0.6"/><ellipse cx="140.9" cy="575.2" rx="0.6" ry="0.4"/><ellipse cx="174.0" cy="556.3" rx="0.8" ry="0.7"/><ellipse cx="165.6" cy="539.7" rx="0.6" ry="0.5"/><ellipse cx="178.0" cy="567.7" rx="0.8" ry="0.6"/><ellipse cx="203.0" cy="546.7" rx="0.9" ry="0.9"/><ellipse cx="165.0" cy="578.2" rx="0.8" ry="1.0"/><ellipse cx="165.6" cy="536.7" rx="0.6" ry="0.6"/><ellipse cx="193.1" cy="585.2" rx="0.6" ry="0.5"/><ellipse cx="132.6" cy="543.6" rx="0.6" ry="0.7"/><ellipse cx="185.2" cy="594.5" rx="0.5" ry="0.5"/><ellipse cx="136.9" cy="554.0" rx="0.5" ry="0.6"/><ellipse cx="158.3" cy="569.7" rx="0.8" ry="0.9"/><ellipse cx="211.2" cy="575.2" rx="0.7" ry="0.8"/><ellipse cx="164.0" cy="556.7" rx="0.8" ry="0.7"/><ellipse cx="161.7" cy="565.6" rx="0.7" ry="0.6"/><ellipse cx="167.1" cy="567.1" rx="0.5" ry="0.6"/><ellipse cx="135.5" cy="572.4" rx="0.7" ry="0.6"/><ellipse cx="149.3" cy="542.8" rx="0.6" ry="0.6"/><ellipse cx="171.6" cy="551.9" rx="0.8" ry="0.8"/><ellipse cx="131.0" cy="564.1" rx="0.9" ry="0.6"/><ellipse cx="181.0" cy="602.3" rx="0.6" ry="0.6"/><ellipse cx="161.8" cy="556.8" rx="0.7" ry="0.7"/><ellipse cx="157.2" cy="570.3" rx="0.7" ry="0.8"/><ellipse cx="134.7" cy="542.4" rx="0.6" ry="0.5"/><ellipse cx="198.3" cy="565.4" rx="0.8" ry="0.8"/><ellipse cx="154.7" cy="582.9" rx="0.5" ry="0.6"/><ellipse cx="201.4" cy="558.6" rx="0.6" ry="0.7"/><ellipse cx="197.7" cy="580.3" rx="0.5" ry="0.6"/><ellipse cx="134.3" cy="579.1" rx="0.7" ry="0.8"/><ellipse cx="184.9" cy="537.5" rx="0.9" ry="0.9"/></g>
</g>
<rect x="131.2" y="537" width="83.60000000000002" height="67" fill="none" stroke="#000" stroke-width="2"/>
<g clip-path="url(#c02)">
<rect x="218.8" y="536" width="85.30000000000001" height="69" fill="#d4f5f6"/>
<rect x="218.8" y="536" width="85.30000000000001" height="69" filter="url(#f020)"/>
<rect x="218.8" y="536" width="85.30000000000001" height="69" filter="url(#f021)"/>
<g fill="#6ea5b9" opacity="0.75"><ellipse cx="268.3" cy="536.4" rx="1.0" ry="0.9"/><ellipse cx="276.8" cy="603.9" rx="1.1" ry="0.8"/><ellipse cx="285.5" cy="566.4" rx="1.0" ry="0.9"/><ellipse cx="257.0" cy="566.1" rx="0.7" ry="0.6"/><ellipse cx="281.5" cy="540.9" rx="0.7" ry="0.7"/><ellipse cx="275.6" cy="573.8" rx="0.7" ry="0.5"/><ellipse cx="245.2" cy="601.8" rx="0.9" ry="1.0"/><ellipse cx="236.8" cy="564.6" rx="0.9" ry="1.0"/><ellipse cx="229.3" cy="596.3" rx="0.8" ry="0.6"/><ellipse cx="255.6" cy="562.0" rx="0.9" ry="1.1"/><ellipse cx="260.9" cy="583.6" rx="0.8" ry="0.9"/><ellipse cx="227.8" cy="587.2" rx="0.7" ry="0.7"/><ellipse cx="236.0" cy="559.9" rx="0.7" ry="0.6"/><ellipse cx="269.2" cy="571.9" rx="0.8" ry="0.8"/><ellipse cx="290.6" cy="560.7" rx="0.9" ry="0.8"/><ellipse cx="302.4" cy="558.6" rx="0.9" ry="0.8"/><ellipse cx="241.1" cy="586.4" rx="0.9" ry="0.7"/><ellipse cx="224.3" cy="592.9" rx="0.8" ry="0.8"/><ellipse cx="255.7" cy="578.6" rx="0.9" ry="1.0"/><ellipse cx="296.4" cy="567.4" rx="0.8" ry="0.7"/><ellipse cx="283.0" cy="543.1" rx="0.8" ry="0.8"/><ellipse cx="221.8" cy="584.2" rx="0.9" ry="0.9"/><ellipse cx="247.2" cy="546.5" rx="1.1" ry="1.2"/><ellipse cx="287.5" cy="542.7" rx="1.0" ry="0.8"/><ellipse cx="235.8" cy="572.9" rx="0.9" ry="0.7"/><ellipse cx="284.0" cy="576.2" rx="1.0" ry="1.2"/><ellipse cx="277.6" cy="561.1" rx="1.1" ry="1.1"/><ellipse cx="243.6" cy="595.2" rx="1.0" ry="0.8"/><ellipse cx="240.1" cy="537.4" rx="0.9" ry="0.7"/><ellipse cx="243.8" cy="553.4" rx="0.7" ry="0.6"/><ellipse cx="242.1" cy="555.7" rx="0.7" ry="0.7"/><ellipse cx="293.3" cy="547.0" rx="1.0" ry="1.2"/><ellipse cx="270.8" cy="573.5" rx="1.0" ry="0.9"/><ellipse cx="275.1" cy="599.4" rx="1.0" ry="0.8"/><ellipse cx="223.4" cy="600.6" rx="0.8" ry="0.9"/><ellipse cx="238.7" cy="567.2" rx="0.8" ry="0.8"/><ellipse cx="299.3" cy="570.9" rx="0.9" ry="0.8"/><ellipse cx="238.6" cy="601.5" rx="0.7" ry="0.8"/><ellipse cx="274.9" cy="541.0" rx="1.1" ry="0.8"/><ellipse cx="267.0" cy="544.3" rx="1.1" ry="0.9"/><ellipse cx="293.2" cy="540.2" rx="0.9" ry="0.7"/><ellipse cx="221.3" cy="575.4" rx="1.1" ry="1.1"/><ellipse cx="291.8" cy="590.2" rx="0.9" ry="0.6"/><ellipse cx="263.8" cy="548.7" rx="0.9" ry="0.8"/><ellipse cx="261.4" cy="549.6" rx="1.0" ry="0.9"/><ellipse cx="260.2" cy="541.4" rx="0.8" ry="0.8"/><ellipse cx="301.8" cy="574.7" rx="0.7" ry="0.6"/><ellipse cx="247.4" cy="584.4" rx="1.1" ry="1.3"/><ellipse cx="299.8" cy="599.8" rx="1.0" ry="1.2"/><ellipse cx="220.5" cy="569.8" rx="0.9" ry="0.9"/><ellipse cx="271.1" cy="578.3" rx="1.1" ry="0.8"/><ellipse cx="263.1" cy="602.2" rx="0.6" ry="0.5"/><ellipse cx="292.9" cy="602.0" rx="0.6" ry="0.4"/><ellipse cx="289.6" cy="583.5" rx="0.9" ry="0.9"/><ellipse cx="283.4" cy="591.7" rx="0.6" ry="0.4"/><ellipse cx="286.5" cy="603.3" rx="1.0" ry="0.9"/><ellipse cx="247.4" cy="559.9" rx="0.6" ry="0.7"/><ellipse cx="241.2" cy="576.4" rx="0.9" ry="0.7"/><ellipse cx="276.4" cy="567.4" rx="0.7" ry="0.8"/><ellipse cx="233.8" cy="546.3" rx="0.7" ry="0.7"/><ellipse cx="285.6" cy="559.0" rx="0.7" ry="0.7"/><ellipse cx="241.0" cy="572.1" rx="0.7" ry="0.8"/><ellipse cx="234.5" cy="552.0" rx="0.8" ry="0.6"/><ellipse cx="280.8" cy="582.5" rx="1.0" ry="1.0"/><ellipse cx="225.5" cy="588.7" rx="0.7" ry="0.6"/><ellipse cx="254.1" cy="604.3" rx="0.8" ry="0.7"/><ellipse cx="296.5" cy="604.3" rx="0.8" ry="0.6"/><ellipse cx="286.2" cy="590.0" rx="0.8" ry="0.8"/><ellipse cx="251.2" cy="555.8" rx="0.9" ry="1.0"/><ellipse cx="259.4" cy="592.5" rx="0.6" ry="0.6"/><ellipse cx="251.2" cy="540.5" rx="1.1" ry="0.8"/><ellipse cx="236.3" cy="596.6" rx="1.1" ry="1.3"/><ellipse cx="248.0" cy="600.2" rx="0.7" ry="0.7"/><ellipse cx="299.5" cy="549.3" rx="0.7" ry="0.7"/><ellipse cx="294.1" cy="586.1" rx="1.1" ry="1.0"/><ellipse cx="250.6" cy="544.3" rx="0.7" ry="0.9"/><ellipse cx="224.9" cy="548.8" rx="0.8" ry="0.6"/><ellipse cx="245.0" cy="548.6" rx="0.7" ry="0.6"/><ellipse cx="264.9" cy="575.2" rx="1.0" ry="0.9"/><ellipse cx="299.6" cy="541.6" rx="0.7" ry="0.5"/><ellipse cx="245.2" cy="588.5" rx="1.1" ry="1.0"/><ellipse cx="232.5" cy="558.8" rx="0.9" ry="0.7"/><ellipse cx="286.4" cy="603.1" rx="0.8" ry="0.8"/><ellipse cx="291.0" cy="568.1" rx="0.7" ry="0.8"/><ellipse cx="302.2" cy="537.7" rx="1.0" ry="0.9"/><ellipse cx="223.2" cy="547.2" rx="0.7" ry="0.7"/><ellipse cx="236.8" cy="537.4" rx="0.7" ry="0.8"/><ellipse cx="261.4" cy="581.0" rx="0.8" ry="0.7"/><ellipse cx="220.1" cy="557.0" rx="0.6" ry="0.5"/><ellipse cx="271.6" cy="561.5" rx="0.8" ry="0.8"/><ellipse cx="245.8" cy="560.6" rx="1.0" ry="1.0"/><ellipse cx="254.4" cy="573.3" rx="0.8" ry="0.7"/><ellipse cx="296.7" cy="552.1" rx="1.1" ry="1.2"/><ellipse cx="294.0" cy="547.2" rx="0.9" ry="1.0"/><ellipse cx="243.4" cy="547.8" rx="1.0" ry="0.8"/><ellipse cx="268.6" cy="546.9" rx="1.1" ry="0.9"/><ellipse cx="227.1" cy="583.4" rx="0.8" ry="0.8"/><ellipse cx="261.2" cy="599.7" rx="0.9" ry="0.8"/><ellipse cx="218.9" cy="570.3" rx="0.7" ry="0.7"/><ellipse cx="272.7" cy="567.9" rx="0.6" ry="0.6"/><ellipse cx="259.9" cy="580.2" rx="1.1" ry="0.9"/><ellipse cx="256.6" cy="541.8" rx="1.0" ry="0.8"/><ellipse cx="289.5" cy="591.1" rx="0.7" ry="0.8"/><ellipse cx="261.8" cy="565.4" rx="0.9" ry="1.0"/><ellipse cx="260.6" cy="569.3" rx="0.7" ry="0.8"/><ellipse cx="261.7" cy="559.6" rx="0.7" ry="0.6"/><ellipse cx="290.0" cy="591.4" rx="1.1" ry="1.3"/><ellipse cx="277.2" cy="591.0" rx="1.0" ry="1.1"/><ellipse cx="287.1" cy="548.2" rx="1.0" ry="0.9"/><ellipse cx="239.6" cy="599.4" rx="0.6" ry="0.6"/><ellipse cx="248.1" cy="590.6" rx="0.9" ry="1.0"/><ellipse cx="298.3" cy="580.5" rx="0.6" ry="0.7"/><ellipse cx="228.1" cy="603.8" rx="1.0" ry="0.9"/><ellipse cx="234.7" cy="583.9" rx="1.0" ry="1.2"/><ellipse cx="271.9" cy="544.6" rx="1.0" ry="0.7"/><ellipse cx="292.8" cy="589.0" rx="1.0" ry="1.1"/><ellipse cx="267.3" cy="601.1" rx="0.9" ry="0.9"/><ellipse cx="251.6" cy="560.4" rx="0.6" ry="0.5"/><ellipse cx="286.7" cy="551.8" rx="0.9" ry="1.0"/><ellipse cx="278.0" cy="571.6" rx="0.8" ry="0.6"/><ellipse cx="234.8" cy="580.7" rx="0.9" ry="1.1"/><ellipse cx="247.0" cy="600.0" rx="1.1" ry="0.9"/><ellipse cx="300.0" cy="578.7" rx="1.1" ry="1.2"/><ellipse cx="247.2" cy="555.3" rx="0.9" ry="0.8"/><ellipse cx="221.8" cy="595.5" rx="0.9" ry="0.8"/><ellipse cx="282.3" cy="553.2" rx="0.7" ry="0.7"/><ellipse cx="239.4" cy="558.6" rx="0.6" ry="0.5"/><ellipse cx="249.1" cy="572.4" rx="1.1" ry="1.1"/><ellipse cx="254.1" cy="564.1" rx="0.7" ry="0.7"/><ellipse cx="300.6" cy="544.4" rx="0.8" ry="0.9"/><ellipse cx="283.8" cy="574.3" rx="0.9" ry="1.1"/><ellipse cx="295.8" cy="553.3" rx="0.9" ry="1.0"/><ellipse cx="263.8" cy="549.1" rx="1.0" ry="0.7"/><ellipse cx="231.6" cy="574.0" rx="0.7" ry="0.8"/><ellipse cx="280.8" cy="558.0" rx="1.0" ry="1.0"/><ellipse cx="279.0" cy="567.5" rx="0.8" ry="0.6"/><ellipse cx="259.3" cy="601.9" rx="1.0" ry="0.8"/><ellipse cx="224.9" cy="554.6" rx="0.9" ry="0.9"/><ellipse cx="229.7" cy="565.4" rx="0.9" ry="1.0"/><ellipse cx="253.2" cy="580.8" rx="0.9" ry="0.9"/><ellipse cx="222.8" cy="585.0" rx="0.7" ry="0.5"/><ellipse cx="259.2" cy="537.2" rx="0.6" ry="0.6"/><ellipse cx="258.8" cy="543.3" rx="1.1" ry="1.2"/><ellipse cx="260.3" cy="576.6" rx="0.8" ry="0.9"/><ellipse cx="229.0" cy="557.0" rx="0.7" ry="0.8"/><ellipse cx="262.2" cy="564.3" rx="0.8" ry="0.9"/><ellipse cx="240.8" cy="590.6" rx="1.0" ry="0.9"/><ellipse cx="250.0" cy="566.1" rx="0.8" ry="0.7"/><ellipse cx="272.0" cy="564.4" rx="0.8" ry="0.8"/><ellipse cx="257.6" cy="568.7" rx="1.0" ry="1.0"/><ellipse cx="250.9" cy="598.0" rx="1.1" ry="1.2"/><ellipse cx="253.0" cy="582.3" rx="1.0" ry="0.8"/><ellipse cx="280.6" cy="601.5" rx="0.9" ry="1.0"/><ellipse cx="255.9" cy="581.1" rx="0.7" ry="0.8"/><ellipse cx="264.8" cy="603.6" rx="0.8" ry="0.8"/><ellipse cx="220.2" cy="564.7" rx="1.0" ry="0.8"/><ellipse cx="271.1" cy="551.2" rx="0.8" ry="1.0"/><ellipse cx="235.6" cy="599.0" rx="0.6" ry="0.6"/><ellipse cx="288.9" cy="593.8" rx="0.8" ry="0.8"/><ellipse cx="279.5" cy="588.6" rx="1.0" ry="1.0"/><ellipse cx="240.3" cy="584.7" rx="0.9" ry="0.9"/><ellipse cx="303.0" cy="545.4" rx="1.0" ry="0.9"/><ellipse cx="280.8" cy="601.6" rx="0.7" ry="0.7"/><ellipse cx="263.9" cy="570.2" rx="0.7" ry="0.7"/><ellipse cx="295.0" cy="581.8" rx="0.7" ry="0.8"/><ellipse cx="254.6" cy="546.0" rx="0.9" ry="0.8"/><ellipse cx="264.0" cy="604.4" rx="0.9" ry="1.0"/><ellipse cx="248.9" cy="588.4" rx="0.6" ry="0.5"/><ellipse cx="277.8" cy="583.6" rx="1.0" ry="0.9"/><ellipse cx="242.1" cy="560.7" rx="0.9" ry="0.6"/><ellipse cx="250.7" cy="581.3" rx="0.7" ry="0.6"/><ellipse cx="293.2" cy="600.4" rx="0.7" ry="0.6"/><ellipse cx="228.8" cy="541.9" rx="1.0" ry="1.1"/><ellipse cx="241.4" cy="569.7" rx="0.9" ry="0.7"/><ellipse cx="288.7" cy="595.3" rx="0.7" ry="0.7"/><ellipse cx="278.4" cy="559.3" rx="1.0" ry="0.8"/><ellipse cx="259.2" cy="557.6" rx="0.8" ry="0.9"/><ellipse cx="267.4" cy="578.0" rx="1.1" ry="0.9"/><ellipse cx="237.8" cy="578.8" rx="0.7" ry="0.8"/><ellipse cx="247.9" cy="566.4" rx="0.8" ry="0.9"/><ellipse cx="296.9" cy="582.7" rx="0.7" ry="0.6"/><ellipse cx="279.1" cy="550.9" rx="1.0" ry="1.2"/><ellipse cx="238.1" cy="561.1" rx="0.7" ry="0.8"/><ellipse cx="222.8" cy="584.0" rx="0.6" ry="0.7"/><ellipse cx="265.1" cy="576.2" rx="0.6" ry="0.5"/><ellipse cx="248.9" cy="603.9" rx="0.9" ry="1.0"/><ellipse cx="224.1" cy="543.0" rx="0.6" ry="0.6"/><ellipse cx="233.8" cy="554.8" rx="0.9" ry="1.0"/><ellipse cx="246.3" cy="568.3" rx="0.7" ry="0.7"/><ellipse cx="249.2" cy="560.8" rx="0.7" ry="0.6"/><ellipse cx="241.1" cy="537.1" rx="0.8" ry="0.8"/><ellipse cx="241.7" cy="543.8" rx="1.0" ry="1.0"/><ellipse cx="262.5" cy="557.5" rx="1.0" ry="1.1"/><ellipse cx="271.9" cy="581.5" rx="0.9" ry="0.9"/><ellipse cx="254.0" cy="562.9" rx="0.9" ry="0.8"/><ellipse cx="263.9" cy="572.8" rx="1.0" ry="1.1"/><ellipse cx="237.9" cy="537.5" rx="0.8" ry="0.5"/><ellipse cx="286.7" cy="578.8" rx="0.7" ry="0.6"/><ellipse cx="292.9" cy="593.7" rx="0.9" ry="1.0"/><ellipse cx="282.3" cy="567.4" rx="0.8" ry="0.8"/><ellipse cx="293.9" cy="604.4" rx="1.1" ry="1.2"/><ellipse cx="225.1" cy="553.0" rx="1.1" ry="1.1"/><ellipse cx="262.7" cy="557.4" rx="1.0" ry="1.0"/><ellipse cx="303.3" cy="541.2" rx="1.1" ry="0.8"/><ellipse cx="231.4" cy="562.9" rx="0.9" ry="0.7"/><ellipse cx="266.8" cy="600.8" rx="0.8" ry="0.9"/><ellipse cx="269.3" cy="576.2" rx="0.7" ry="0.6"/><ellipse cx="295.6" cy="582.5" rx="0.7" ry="0.7"/><ellipse cx="265.2" cy="559.2" rx="0.9" ry="0.9"/><ellipse cx="220.3" cy="551.2" rx="0.9" ry="0.7"/><ellipse cx="225.0" cy="588.6" rx="0.8" ry="0.9"/><ellipse cx="266.5" cy="543.0" rx="0.9" ry="0.8"/><ellipse cx="288.3" cy="586.0" rx="1.0" ry="0.7"/><ellipse cx="221.7" cy="591.1" rx="0.7" ry="0.5"/><ellipse cx="221.4" cy="547.3" rx="0.8" ry="1.0"/><ellipse cx="246.2" cy="553.9" rx="1.0" ry="0.8"/><ellipse cx="273.0" cy="578.4" rx="1.1" ry="0.8"/><ellipse cx="266.8" cy="562.4" rx="1.0" ry="0.8"/><ellipse cx="279.8" cy="548.8" rx="0.8" ry="1.0"/><ellipse cx="239.3" cy="555.2" rx="1.1" ry="1.1"/><ellipse cx="224.4" cy="548.9" rx="0.7" ry="0.6"/><ellipse cx="290.8" cy="584.3" rx="1.1" ry="1.1"/><ellipse cx="272.4" cy="562.4" rx="1.0" ry="0.9"/><ellipse cx="223.8" cy="569.9" rx="0.8" ry="0.8"/><ellipse cx="223.0" cy="537.9" rx="1.1" ry="1.0"/><ellipse cx="247.0" cy="546.2" rx="0.9" ry="1.0"/><ellipse cx="234.2" cy="570.5" rx="0.8" ry="0.9"/><ellipse cx="267.0" cy="552.5" rx="0.7" ry="0.7"/><ellipse cx="225.5" cy="595.7" rx="0.6" ry="0.5"/><ellipse cx="258.7" cy="594.2" rx="0.9" ry="1.0"/><ellipse cx="283.7" cy="585.8" rx="0.6" ry="0.7"/><ellipse cx="231.4" cy="547.2" rx="0.6" ry="0.4"/><ellipse cx="293.6" cy="562.3" rx="0.6" ry="0.5"/><ellipse cx="291.0" cy="577.5" rx="1.1" ry="0.8"/><ellipse cx="228.4" cy="555.8" rx="0.7" ry="0.5"/><ellipse cx="235.9" cy="580.2" rx="0.7" ry="0.5"/><ellipse cx="264.5" cy="561.9" rx="0.7" ry="0.7"/><ellipse cx="262.1" cy="562.8" rx="0.8" ry="0.6"/><ellipse cx="271.3" cy="549.3" rx="0.8" ry="0.5"/><ellipse cx="294.5" cy="576.5" rx="0.8" ry="0.8"/></g>
<g fill="#4678b4" opacity="0.8"><ellipse cx="299.0" cy="545.1" rx="0.9" ry="0.9"/><ellipse cx="250.5" cy="584.8" rx="1.2" ry="0.8"/><ellipse cx="243.1" cy="556.2" rx="1.1" ry="1.2"/><ellipse cx="278.5" cy="599.8" rx="0.8" ry="0.7"/><ellipse cx="291.6" cy="588.8" rx="0.8" ry="0.9"/><ellipse cx="282.0" cy="595.7" rx="0.9" ry="0.9"/><ellipse cx="300.6" cy="598.0" rx="1.0" ry="1.1"/><ellipse cx="304.0" cy="593.9" rx="1.0" ry="1.2"/><ellipse cx="231.1" cy="563.9" rx="1.0" ry="0.8"/><ellipse cx="285.4" cy="540.3" rx="1.0" ry="0.9"/><ellipse cx="246.3" cy="577.9" rx="0.8" ry="0.7"/><ellipse cx="291.9" cy="604.1" rx="0.8" ry="0.7"/><ellipse cx="278.0" cy="549.1" rx="1.1" ry="0.9"/><ellipse cx="266.3" cy="559.4" rx="0.7" ry="0.5"/><ellipse cx="219.0" cy="558.6" rx="0.8" ry="1.0"/><ellipse cx="273.2" cy="540.5" rx="1.1" ry="0.9"/><ellipse cx="259.9" cy="585.9" rx="1.1" ry="1.3"/><ellipse cx="254.7" cy="557.9" rx="0.9" ry="0.8"/><ellipse cx="282.1" cy="567.9" rx="1.0" ry="0.8"/><ellipse cx="285.6" cy="602.7" rx="0.8" ry="0.8"/><ellipse cx="232.6" cy="538.4" rx="0.9" ry="0.7"/><ellipse cx="281.1" cy="575.5" rx="1.0" ry="1.2"/><ellipse cx="223.8" cy="542.8" rx="0.7" ry="0.7"/><ellipse cx="289.1" cy="583.2" rx="1.0" ry="1.1"/><ellipse cx="250.5" cy="543.8" rx="1.0" ry="0.7"/><ellipse cx="238.4" cy="538.1" rx="0.8" ry="0.6"/><ellipse cx="264.1" cy="544.8" rx="1.0" ry="1.1"/><ellipse cx="248.2" cy="544.3" rx="1.0" ry="1.1"/><ellipse cx="294.2" cy="574.2" rx="1.0" ry="1.1"/><ellipse cx="276.6" cy="603.3" rx="0.8" ry="0.9"/><ellipse cx="272.8" cy="568.3" rx="0.7" ry="0.7"/><ellipse cx="241.3" cy="577.5" rx="1.0" ry="0.9"/><ellipse cx="223.8" cy="545.1" rx="1.0" ry="1.0"/><ellipse cx="303.3" cy="590.7" rx="0.8" ry="0.8"/><ellipse cx="261.9" cy="591.5" rx="0.9" ry="1.0"/><ellipse cx="260.1" cy="563.5" rx="0.9" ry="0.8"/><ellipse cx="304.1" cy="539.2" rx="0.9" ry="0.7"/><ellipse cx="276.6" cy="546.4" rx="0.8" ry="0.7"/><ellipse cx="270.2" cy="588.7" rx="0.9" ry="0.8"/><ellipse cx="250.2" cy="597.3" rx="0.8" ry="0.6"/></g>
<g fill="#3c78af" opacity="0.85"><ellipse cx="243.2" cy="551.8" rx="0.8" ry="0.6"/><ellipse cx="243.2" cy="555.5" rx="0.7" ry="0.8"/><ellipse cx="232.4" cy="551.2" rx="1.0" ry="0.7"/><ellipse cx="244.0" cy="549.7" rx="0.8" ry="0.8"/><ellipse cx="230.7" cy="545.5" rx="1.0" ry="1.0"/><ellipse cx="243.4" cy="556.1" rx="0.8" ry="0.6"/><ellipse cx="238.7" cy="551.6" rx="0.9" ry="1.0"/><ellipse cx="232.3" cy="554.0" rx="0.7" ry="0.9"/><ellipse cx="244.2" cy="553.7" rx="0.9" ry="0.9"/><ellipse cx="243.5" cy="556.1" rx="0.7" ry="0.7"/><ellipse cx="231.2" cy="552.6" rx="1.2" ry="1.3"/><ellipse cx="233.0" cy="552.7" rx="0.9" ry="0.7"/><ellipse cx="240.9" cy="555.6" rx="0.9" ry="0.8"/><ellipse cx="240.1" cy="555.2" rx="0.9" ry="0.7"/><ellipse cx="230.5" cy="547.4" rx="1.1" ry="1.1"/><ellipse cx="239.3" cy="550.1" rx="0.9" ry="0.7"/><ellipse cx="244.6" cy="553.5" rx="0.8" ry="0.8"/><ellipse cx="238.6" cy="553.6" rx="1.1" ry="1.1"/></g>
<g fill="#467db4" opacity="0.8"><ellipse cx="288.8" cy="574.7" rx="0.9" ry="0.9"/><ellipse cx="279.7" cy="568.5" rx="0.9" ry="0.9"/><ellipse cx="279.3" cy="567.9" rx="1.1" ry="1.2"/><ellipse cx="285.2" cy="573.3" rx="0.9" ry="0.9"/><ellipse cx="277.5" cy="567.5" rx="0.8" ry="0.8"/><ellipse cx="289.6" cy="567.3" rx="0.9" ry="0.7"/><ellipse cx="275.6" cy="571.0" rx="1.1" ry="0.9"/><ellipse cx="277.6" cy="572.4" rx="0.8" ry="0.9"/><ellipse cx="279.4" cy="569.2" rx="0.8" ry="0.7"/><ellipse cx="280.6" cy="567.1" rx="1.1" ry="0.8"/><ellipse cx="284.5" cy="572.8" rx="0.9" ry="0.7"/><ellipse cx="275.2" cy="564.9" rx="1.1" ry="1.1"/><ellipse cx="273.3" cy="569.0" rx="1.0" ry="0.9"/><ellipse cx="273.6" cy="568.6" rx="0.9" ry="1.0"/></g>
<g fill="#5a96b4" opacity="0.7"><ellipse cx="250.6" cy="597.0" rx="1.0" ry="1.0"/><ellipse cx="245.6" cy="595.5" rx="0.7" ry="0.7"/><ellipse cx="245.0" cy="586.2" rx="0.9" ry="0.7"/><ellipse cx="263.8" cy="592.5" rx="1.1" ry="1.2"/><ellipse cx="258.9" cy="593.4" rx="0.9" ry="1.0"/><ellipse cx="257.1" cy="587.1" rx="0.9" ry="0.8"/><ellipse cx="253.8" cy="594.3" rx="1.0" ry="1.0"/><ellipse cx="259.6" cy="595.7" rx="0.7" ry="0.6"/><ellipse cx="244.0" cy="587.1" rx="1.1" ry="0.9"/><ellipse cx="252.2" cy="591.0" rx="0.9" ry="0.8"/><ellipse cx="259.4" cy="589.3" rx="1.0" ry="1.1"/><ellipse cx="243.0" cy="592.1" rx="0.7" ry="0.8"/><ellipse cx="244.5" cy="588.5" rx="1.0" ry="1.0"/><ellipse cx="257.0" cy="590.4" rx="0.9" ry="0.7"/></g>
</g>
<rect x="219.8" y="537" width="83.30000000000001" height="67" fill="none" stroke="#000" stroke-width="2"/>
<g clip-path="url(#c03)">
<rect x="306.8" y="536" width="85.39999999999998" height="69" fill="#b2eaf0"/>
<rect x="306.8" y="536" width="85.39999999999998" height="69" filter="url(#f030)"/>
<rect x="306.8" y="536" width="85.39999999999998" height="69" filter="url(#f031)"/>
<g fill="#78c8dc" opacity="0.5"><ellipse cx="346.3" cy="553.8" rx="0.8" ry="0.6"/><ellipse cx="318.5" cy="549.6" rx="0.7" ry="0.7"/><ellipse cx="307.1" cy="604.1" rx="0.8" ry="0.7"/><ellipse cx="320.4" cy="593.0" rx="0.9" ry="0.7"/><ellipse cx="371.4" cy="592.4" rx="0.9" ry="0.7"/><ellipse cx="317.1" cy="547.4" rx="0.6" ry="0.7"/><ellipse cx="384.5" cy="568.7" rx="0.6" ry="0.5"/><ellipse cx="327.4" cy="580.7" rx="0.8" ry="0.9"/><ellipse cx="344.1" cy="567.5" rx="0.7" ry="0.6"/><ellipse cx="345.7" cy="583.3" rx="0.8" ry="0.7"/><ellipse cx="355.2" cy="546.0" rx="0.5" ry="0.5"/><ellipse cx="337.5" cy="538.2" rx="0.5" ry="0.5"/><ellipse cx="387.3" cy="593.8" rx="0.5" ry="0.4"/><ellipse cx="338.3" cy="557.5" rx="0.6" ry="0.6"/><ellipse cx="378.5" cy="562.3" rx="0.6" ry="0.4"/><ellipse cx="308.1" cy="588.8" rx="0.6" ry="0.6"/><ellipse cx="374.3" cy="541.8" rx="0.6" ry="0.5"/><ellipse cx="372.5" cy="586.8" rx="0.6" ry="0.6"/><ellipse cx="337.1" cy="568.5" rx="0.8" ry="0.7"/><ellipse cx="376.0" cy="599.5" rx="0.7" ry="0.9"/><ellipse cx="386.9" cy="547.8" rx="0.9" ry="0.7"/><ellipse cx="375.5" cy="544.4" rx="0.6" ry="0.6"/><ellipse cx="378.5" cy="583.0" rx="0.6" ry="0.7"/><ellipse cx="380.7" cy="571.2" rx="0.5" ry="0.4"/><ellipse cx="331.8" cy="564.9" rx="0.9" ry="0.9"/><ellipse cx="376.8" cy="540.9" rx="0.6" ry="0.6"/><ellipse cx="335.9" cy="551.7" rx="0.5" ry="0.4"/><ellipse cx="342.0" cy="573.7" rx="0.7" ry="0.6"/><ellipse cx="331.6" cy="537.2" rx="0.8" ry="0.7"/><ellipse cx="348.8" cy="562.1" rx="0.6" ry="0.4"/><ellipse cx="332.1" cy="556.6" rx="0.5" ry="0.4"/><ellipse cx="347.8" cy="537.3" rx="0.9" ry="0.7"/><ellipse cx="344.7" cy="572.3" rx="0.5" ry="0.4"/><ellipse cx="373.9" cy="574.4" rx="0.7" ry="0.6"/><ellipse cx="371.0" cy="570.7" rx="0.8" ry="0.9"/><ellipse cx="383.1" cy="586.1" rx="0.8" ry="0.7"/><ellipse cx="352.4" cy="576.0" rx="0.7" ry="0.8"/><ellipse cx="380.1" cy="539.6" rx="0.8" ry="0.8"/><ellipse cx="357.9" cy="598.7" rx="0.5" ry="0.5"/><ellipse cx="338.9" cy="601.4" rx="0.6" ry="0.6"/><ellipse cx="319.1" cy="588.0" rx="0.7" ry="0.7"/><ellipse cx="333.0" cy="597.0" rx="0.5" ry="0.4"/><ellipse cx="369.4" cy="596.6" rx="0.8" ry="0.7"/><ellipse cx="313.7" cy="584.9" rx="0.8" ry="0.6"/><ellipse cx="386.6" cy="572.4" rx="0.5" ry="0.5"/><ellipse cx="335.7" cy="543.2" rx="0.9" ry="1.0"/><ellipse cx="317.4" cy="566.7" rx="0.6" ry="0.6"/><ellipse cx="316.2" cy="559.0" rx="0.7" ry="0.6"/><ellipse cx="344.0" cy="577.1" rx="0.9" ry="1.0"/><ellipse cx="384.3" cy="593.2" rx="0.6" ry="0.5"/><ellipse cx="346.1" cy="580.4" rx="0.7" ry="0.6"/><ellipse cx="391.5" cy="557.6" rx="0.5" ry="0.4"/><ellipse cx="324.7" cy="586.4" rx="0.8" ry="0.6"/><ellipse cx="327.0" cy="552.7" rx="0.8" ry="0.9"/><ellipse cx="329.3" cy="543.1" rx="0.9" ry="1.1"/><ellipse cx="368.0" cy="568.6" rx="0.8" ry="0.9"/><ellipse cx="350.3" cy="554.7" rx="0.7" ry="0.7"/><ellipse cx="334.5" cy="580.1" rx="0.6" ry="0.7"/><ellipse cx="324.9" cy="551.6" rx="0.9" ry="1.0"/><ellipse cx="385.8" cy="594.0" rx="0.8" ry="0.9"/><ellipse cx="355.2" cy="541.1" rx="0.8" ry="0.9"/><ellipse cx="378.3" cy="539.0" rx="0.5" ry="0.6"/><ellipse cx="348.5" cy="597.7" rx="0.9" ry="0.8"/><ellipse cx="364.5" cy="581.9" rx="0.8" ry="0.7"/><ellipse cx="361.4" cy="540.7" rx="0.9" ry="0.9"/><ellipse cx="375.3" cy="567.9" rx="0.6" ry="0.5"/><ellipse cx="364.9" cy="573.8" rx="0.5" ry="0.4"/><ellipse cx="340.8" cy="552.9" rx="0.6" ry="0.5"/><ellipse cx="342.3" cy="584.0" rx="0.9" ry="0.9"/><ellipse cx="308.6" cy="595.9" rx="0.7" ry="0.8"/></g>
</g>
<rect x="307.8" y="537" width="83.39999999999998" height="67" fill="none" stroke="#000" stroke-width="2"/>
<g clip-path="url(#c10)">
<rect x="42.3" y="607.2" width="85.7" height="69.0" fill="#5c66e6"/>
<rect x="42.3" y="607.2" width="85.7" height="69.0" filter="url(#f100)"/>
<rect x="42.3" y="607.2" width="85.7" height="69.0" filter="url(#f101)"/>
<g fill="#2a30a5" opacity="0.8"><ellipse cx="94.9" cy="631.6" rx="0.9" ry="0.6"/><ellipse cx="99.2" cy="610.9" rx="1.0" ry="1.2"/><ellipse cx="99.5" cy="649.0" rx="1.1" ry="1.3"/><ellipse cx="111.9" cy="675.5" rx="0.9" ry="0.7"/><ellipse cx="94.9" cy="651.3" rx="1.1" ry="1.1"/><ellipse cx="73.4" cy="607.5" rx="1.1" ry="1.1"/><ellipse cx="126.7" cy="648.1" rx="1.1" ry="1.2"/><ellipse cx="127.2" cy="639.1" rx="1.1" ry="1.0"/><ellipse cx="43.3" cy="629.7" rx="0.9" ry="1.0"/><ellipse cx="76.1" cy="626.2" rx="1.0" ry="0.8"/><ellipse cx="68.5" cy="634.5" rx="0.8" ry="0.8"/><ellipse cx="78.5" cy="662.5" rx="0.9" ry="1.0"/><ellipse cx="59.1" cy="643.8" rx="0.8" ry="0.6"/><ellipse cx="68.1" cy="669.0" rx="0.8" ry="0.8"/><ellipse cx="87.2" cy="625.6" rx="1.0" ry="0.7"/><ellipse cx="72.2" cy="626.8" rx="1.1" ry="1.2"/><ellipse cx="102.4" cy="648.2" rx="1.1" ry="1.2"/><ellipse cx="47.0" cy="616.2" rx="1.1" ry="1.2"/><ellipse cx="127.1" cy="660.7" rx="0.8" ry="0.8"/><ellipse cx="95.8" cy="648.9" rx="0.8" ry="0.9"/><ellipse cx="86.0" cy="625.7" rx="1.2" ry="1.1"/><ellipse cx="48.3" cy="653.4" rx="0.8" ry="0.7"/><ellipse cx="68.2" cy="649.1" rx="0.9" ry="0.9"/><ellipse cx="119.9" cy="675.6" rx="1.1" ry="1.3"/><ellipse cx="64.0" cy="664.1" rx="0.7" ry="0.7"/><ellipse cx="48.8" cy="614.0" rx="1.2" ry="0.9"/><ellipse cx="103.8" cy="643.6" rx="0.7" ry="0.8"/><ellipse cx="47.5" cy="668.4" rx="1.1" ry="1.1"/><ellipse cx="80.5" cy="609.1" rx="1.0" ry="0.8"/><ellipse cx="87.4" cy="671.1" rx="1.0" ry="0.8"/><ellipse cx="104.1" cy="655.6" rx="0.9" ry="0.9"/><ellipse cx="91.9" cy="635.7" rx="1.0" ry="0.8"/><ellipse cx="66.9" cy="668.5" rx="0.9" ry="0.9"/><ellipse cx="73.7" cy="620.3" rx="0.7" ry="0.8"/><ellipse cx="106.7" cy="674.9" rx="1.0" ry="0.7"/><ellipse cx="56.3" cy="610.6" rx="1.0" ry="1.0"/><ellipse cx="124.2" cy="627.6" rx="0.8" ry="0.7"/><ellipse cx="54.9" cy="609.2" rx="0.9" ry="0.9"/><ellipse cx="73.8" cy="672.8" rx="0.9" ry="1.0"/><ellipse cx="87.9" cy="614.3" rx="0.7" ry="0.7"/><ellipse cx="117.2" cy="610.7" rx="1.1" ry="0.9"/><ellipse cx="101.2" cy="664.7" rx="1.1" ry="0.9"/><ellipse cx="55.7" cy="673.9" rx="1.2" ry="1.3"/><ellipse cx="88.7" cy="610.7" rx="0.9" ry="1.0"/><ellipse cx="48.0" cy="627.6" rx="0.7" ry="0.8"/><ellipse cx="72.6" cy="612.9" rx="0.9" ry="0.7"/><ellipse cx="79.4" cy="649.7" rx="1.0" ry="0.8"/><ellipse cx="88.1" cy="611.1" rx="0.9" ry="1.0"/><ellipse cx="64.8" cy="664.0" rx="0.8" ry="0.7"/><ellipse cx="110.2" cy="607.4" rx="1.0" ry="0.9"/><ellipse cx="103.6" cy="672.6" rx="1.0" ry="0.9"/><ellipse cx="59.4" cy="640.4" rx="0.8" ry="0.8"/><ellipse cx="50.0" cy="655.1" rx="0.9" ry="0.7"/><ellipse cx="52.6" cy="671.7" rx="1.1" ry="1.3"/><ellipse cx="75.7" cy="675.1" rx="0.8" ry="0.8"/><ellipse cx="123.0" cy="621.6" rx="0.7" ry="0.5"/><ellipse cx="49.5" cy="662.6" rx="1.0" ry="0.9"/><ellipse cx="52.1" cy="651.5" rx="0.8" ry="0.6"/><ellipse cx="93.2" cy="651.6" rx="1.1" ry="1.2"/><ellipse cx="54.1" cy="628.2" rx="0.8" ry="0.7"/><ellipse cx="44.7" cy="667.1" rx="1.0" ry="1.1"/><ellipse cx="84.2" cy="670.1" rx="1.1" ry="1.2"/><ellipse cx="111.4" cy="622.1" rx="0.9" ry="0.6"/><ellipse cx="107.8" cy="639.9" rx="1.2" ry="1.0"/><ellipse cx="79.2" cy="667.0" rx="1.2" ry="1.3"/><ellipse cx="117.9" cy="670.9" rx="0.8" ry="0.8"/><ellipse cx="47.7" cy="653.9" rx="1.2" ry="1.1"/><ellipse cx="54.8" cy="646.5" rx="0.7" ry="0.7"/><ellipse cx="49.2" cy="636.0" rx="1.1" ry="1.2"/><ellipse cx="115.4" cy="638.8" rx="0.9" ry="0.7"/><ellipse cx="109.9" cy="646.5" rx="0.9" ry="0.7"/><ellipse cx="81.6" cy="611.5" rx="0.8" ry="0.6"/><ellipse cx="78.7" cy="616.7" rx="1.1" ry="1.1"/><ellipse cx="116.6" cy="645.4" rx="0.8" ry="0.7"/><ellipse cx="114.3" cy="647.6" rx="1.0" ry="1.0"/><ellipse cx="46.4" cy="621.0" rx="0.9" ry="1.0"/><ellipse cx="123.2" cy="648.0" rx="0.8" ry="0.6"/><ellipse cx="90.2" cy="635.4" rx="1.2" ry="0.9"/><ellipse cx="59.9" cy="608.3" rx="0.7" ry="0.8"/><ellipse cx="117.0" cy="617.8" rx="0.7" ry="0.7"/><ellipse cx="63.4" cy="649.6" rx="1.2" ry="1.2"/><ellipse cx="66.3" cy="649.1" rx="0.8" ry="0.9"/><ellipse cx="64.4" cy="667.2" rx="1.0" ry="1.2"/><ellipse cx="71.9" cy="673.0" rx="1.0" ry="0.8"/><ellipse cx="97.7" cy="628.6" rx="0.8" ry="0.5"/><ellipse cx="94.6" cy="623.9" rx="0.8" ry="0.8"/><ellipse cx="54.5" cy="659.3" rx="0.8" ry="0.7"/><ellipse cx="122.2" cy="664.4" rx="1.1" ry="1.3"/><ellipse cx="94.0" cy="671.7" rx="1.0" ry="1.0"/><ellipse cx="70.1" cy="633.4" rx="1.0" ry="0.8"/><ellipse cx="97.3" cy="666.8" rx="1.1" ry="0.9"/><ellipse cx="44.7" cy="632.5" rx="0.9" ry="1.0"/><ellipse cx="89.2" cy="642.9" rx="1.0" ry="1.0"/><ellipse cx="100.4" cy="645.7" rx="1.0" ry="0.8"/><ellipse cx="52.9" cy="637.5" rx="1.1" ry="1.3"/><ellipse cx="67.4" cy="646.9" rx="1.0" ry="0.9"/><ellipse cx="57.6" cy="661.7" rx="0.7" ry="0.6"/><ellipse cx="66.2" cy="621.2" rx="0.8" ry="0.6"/><ellipse cx="87.2" cy="619.1" rx="1.0" ry="1.0"/><ellipse cx="95.8" cy="640.3" rx="1.0" ry="0.9"/><ellipse cx="82.1" cy="654.7" rx="0.8" ry="0.9"/><ellipse cx="92.5" cy="674.5" rx="1.0" ry="1.0"/><ellipse cx="108.1" cy="627.1" rx="0.9" ry="0.8"/><ellipse cx="105.3" cy="656.8" rx="0.8" ry="0.9"/><ellipse cx="126.5" cy="641.4" rx="1.2" ry="1.2"/><ellipse cx="75.3" cy="613.2" rx="0.7" ry="0.7"/><ellipse cx="103.9" cy="649.7" rx="1.1" ry="1.0"/><ellipse cx="105.9" cy="648.9" rx="1.0" ry="1.0"/><ellipse cx="99.5" cy="645.8" rx="0.7" ry="0.8"/><ellipse cx="102.6" cy="636.7" rx="1.2" ry="1.1"/><ellipse cx="56.6" cy="642.5" rx="0.9" ry="0.7"/><ellipse cx="118.4" cy="619.4" rx="1.1" ry="0.8"/><ellipse cx="86.6" cy="676.0" rx="0.7" ry="0.8"/><ellipse cx="42.8" cy="674.6" rx="1.2" ry="1.1"/><ellipse cx="96.9" cy="638.9" rx="0.8" ry="0.7"/><ellipse cx="80.1" cy="667.2" rx="0.8" ry="0.7"/><ellipse cx="82.7" cy="645.3" rx="1.1" ry="1.1"/><ellipse cx="70.0" cy="673.1" rx="1.0" ry="0.8"/><ellipse cx="89.2" cy="667.0" rx="0.7" ry="0.7"/><ellipse cx="84.1" cy="627.1" rx="0.8" ry="0.6"/><ellipse cx="79.8" cy="636.3" rx="1.0" ry="0.8"/><ellipse cx="95.4" cy="639.9" rx="1.1" ry="1.2"/><ellipse cx="62.6" cy="674.6" rx="1.0" ry="0.8"/><ellipse cx="64.1" cy="656.4" rx="0.9" ry="1.0"/><ellipse cx="64.2" cy="666.6" rx="0.8" ry="0.9"/><ellipse cx="79.9" cy="634.9" rx="1.0" ry="1.0"/><ellipse cx="89.3" cy="645.9" rx="1.2" ry="1.3"/><ellipse cx="50.2" cy="675.4" rx="0.7" ry="0.5"/><ellipse cx="112.4" cy="626.2" rx="0.7" ry="0.6"/><ellipse cx="84.7" cy="665.4" rx="0.7" ry="0.6"/><ellipse cx="43.4" cy="610.9" rx="0.9" ry="0.8"/><ellipse cx="125.3" cy="651.9" rx="1.1" ry="1.1"/><ellipse cx="120.3" cy="653.7" rx="0.8" ry="0.7"/><ellipse cx="83.4" cy="614.8" rx="1.2" ry="1.1"/><ellipse cx="59.5" cy="641.1" rx="1.1" ry="0.9"/><ellipse cx="92.7" cy="613.5" rx="0.8" ry="0.7"/><ellipse cx="85.6" cy="654.6" rx="0.8" ry="0.8"/><ellipse cx="92.5" cy="659.0" rx="1.2" ry="1.0"/><ellipse cx="127.7" cy="638.6" rx="1.0" ry="0.8"/><ellipse cx="49.6" cy="651.7" rx="0.8" ry="0.5"/><ellipse cx="49.5" cy="644.6" rx="0.8" ry="0.7"/><ellipse cx="108.0" cy="638.0" rx="0.8" ry="0.8"/><ellipse cx="127.6" cy="650.1" rx="0.9" ry="0.9"/><ellipse cx="102.5" cy="665.0" rx="1.1" ry="0.9"/><ellipse cx="109.2" cy="614.4" rx="0.8" ry="0.7"/><ellipse cx="58.1" cy="645.9" rx="0.8" ry="1.0"/><ellipse cx="79.4" cy="663.5" rx="1.2" ry="1.1"/><ellipse cx="108.2" cy="641.2" rx="0.9" ry="0.7"/><ellipse cx="98.7" cy="670.8" rx="1.0" ry="0.9"/><ellipse cx="87.3" cy="631.8" rx="0.9" ry="1.0"/><ellipse cx="42.9" cy="640.4" rx="1.0" ry="0.7"/><ellipse cx="105.0" cy="624.7" rx="0.9" ry="0.7"/><ellipse cx="93.5" cy="636.9" rx="1.0" ry="1.0"/><ellipse cx="109.5" cy="645.2" rx="0.8" ry="0.7"/><ellipse cx="64.0" cy="627.8" rx="1.2" ry="1.1"/><ellipse cx="105.6" cy="618.0" rx="1.0" ry="0.8"/><ellipse cx="61.3" cy="616.0" rx="0.7" ry="0.8"/><ellipse cx="125.0" cy="632.6" rx="0.7" ry="0.8"/><ellipse cx="99.1" cy="610.3" rx="1.1" ry="0.8"/><ellipse cx="62.3" cy="660.9" rx="1.1" ry="0.9"/><ellipse cx="85.9" cy="662.4" rx="1.0" ry="1.0"/><ellipse cx="58.1" cy="611.9" rx="0.8" ry="0.8"/><ellipse cx="93.4" cy="639.0" rx="1.0" ry="1.0"/><ellipse cx="97.6" cy="635.6" rx="1.1" ry="1.1"/><ellipse cx="117.7" cy="675.2" rx="1.1" ry="1.2"/><ellipse cx="101.4" cy="645.3" rx="0.8" ry="0.6"/><ellipse cx="98.9" cy="624.3" rx="1.0" ry="1.0"/><ellipse cx="94.3" cy="636.8" rx="0.8" ry="0.7"/><ellipse cx="102.0" cy="668.3" rx="0.9" ry="0.7"/><ellipse cx="80.7" cy="636.8" rx="1.0" ry="1.1"/><ellipse cx="108.1" cy="663.0" rx="1.1" ry="1.3"/><ellipse cx="80.7" cy="638.0" rx="1.0" ry="0.9"/><ellipse cx="113.4" cy="636.0" rx="1.0" ry="0.9"/><ellipse cx="73.5" cy="607.9" rx="0.8" ry="0.8"/><ellipse cx="123.8" cy="616.7" rx="1.2" ry="1.4"/><ellipse cx="110.1" cy="626.5" rx="0.7" ry="0.8"/><ellipse cx="48.2" cy="627.8" rx="1.2" ry="1.2"/><ellipse cx="112.9" cy="664.7" rx="0.8" ry="0.8"/><ellipse cx="50.4" cy="633.3" rx="0.9" ry="1.1"/><ellipse cx="67.1" cy="653.2" rx="0.8" ry="0.6"/></g>
<g filter="url(#sb)">
<ellipse cx="60" cy="665" rx="18" ry="10" fill="#4e5ad8" opacity="0.45"/>
<path d="M48 629 Q54 624 61 625 Q59 629 54 631 Q50 633 48 629Z" fill="#dfe6fb" opacity="0.9"/>
<path d="M76 650 Q81 644 87 645 Q88 650 84 655 Q79 657 76 650Z" fill="#c8d2f6" opacity="0.75"/>
<path d="M108 651 Q113 647 120 648 Q119 653 114 655 Q109 655 108 651Z" fill="#c8d2f6" opacity="0.75"/>
</g>
</g>
<rect x="43.3" y="608.2" width="83.7" height="67.0" fill="none" stroke="#000" stroke-width="2"/>
<g clip-path="url(#c11)">
<rect x="130.2" y="607.2" width="85.60000000000002" height="69.0" fill="#ccf3f0"/>
<rect x="130.2" y="607.2" width="85.60000000000002" height="69.0" filter="url(#f110)"/>
<g fill="#87b9c0" opacity="0.8"><ellipse cx="135.2" cy="647.3" rx="0.9" ry="0.9"/><ellipse cx="166.1" cy="671.8" rx="1.0" ry="0.9"/><ellipse cx="205.0" cy="619.6" rx="0.7" ry="0.7"/><ellipse cx="181.5" cy="673.1" rx="0.9" ry="0.7"/><ellipse cx="211.0" cy="639.4" rx="0.7" ry="0.8"/><ellipse cx="184.0" cy="666.2" rx="0.9" ry="0.7"/><ellipse cx="170.5" cy="639.4" rx="0.8" ry="0.8"/><ellipse cx="143.0" cy="624.7" rx="0.7" ry="0.5"/><ellipse cx="175.2" cy="658.1" rx="0.8" ry="0.9"/><ellipse cx="182.3" cy="652.6" rx="0.7" ry="0.9"/><ellipse cx="160.0" cy="665.5" rx="0.7" ry="0.8"/><ellipse cx="188.7" cy="619.5" rx="1.0" ry="0.8"/><ellipse cx="163.2" cy="633.3" rx="0.8" ry="0.7"/><ellipse cx="143.9" cy="634.8" rx="0.6" ry="0.7"/><ellipse cx="160.5" cy="656.3" rx="0.8" ry="1.0"/><ellipse cx="205.5" cy="655.9" rx="1.0" ry="1.2"/><ellipse cx="209.8" cy="635.7" rx="0.9" ry="0.7"/><ellipse cx="161.4" cy="629.8" rx="0.9" ry="0.6"/><ellipse cx="194.8" cy="612.3" rx="0.8" ry="0.8"/><ellipse cx="202.3" cy="650.8" rx="0.7" ry="0.7"/><ellipse cx="150.3" cy="649.8" rx="0.8" ry="1.0"/><ellipse cx="168.6" cy="626.0" rx="0.8" ry="0.9"/><ellipse cx="160.0" cy="624.0" rx="0.9" ry="0.9"/><ellipse cx="210.7" cy="612.7" rx="0.8" ry="0.8"/><ellipse cx="172.6" cy="654.9" rx="0.9" ry="0.7"/><ellipse cx="134.5" cy="619.4" rx="0.8" ry="0.6"/><ellipse cx="154.8" cy="615.1" rx="0.6" ry="0.6"/><ellipse cx="195.1" cy="618.2" rx="0.6" ry="0.7"/><ellipse cx="137.0" cy="616.9" rx="0.8" ry="0.7"/><ellipse cx="197.4" cy="642.1" rx="0.9" ry="0.8"/><ellipse cx="132.6" cy="663.8" rx="0.8" ry="0.9"/><ellipse cx="139.3" cy="637.0" rx="0.9" ry="0.7"/><ellipse cx="136.6" cy="671.7" rx="1.1" ry="1.3"/><ellipse cx="176.8" cy="657.8" rx="0.9" ry="0.8"/><ellipse cx="144.9" cy="651.5" rx="0.8" ry="0.9"/><ellipse cx="133.8" cy="627.5" rx="0.7" ry="0.7"/><ellipse cx="171.2" cy="626.9" rx="1.0" ry="1.0"/><ellipse cx="155.1" cy="634.3" rx="0.6" ry="0.4"/><ellipse cx="133.3" cy="673.6" rx="1.0" ry="1.0"/><ellipse cx="210.7" cy="644.4" rx="0.9" ry="0.7"/><ellipse cx="167.5" cy="649.4" rx="0.8" ry="0.8"/><ellipse cx="159.6" cy="652.4" rx="0.7" ry="0.7"/><ellipse cx="166.8" cy="643.5" rx="0.6" ry="0.5"/><ellipse cx="191.5" cy="618.7" rx="0.8" ry="1.0"/><ellipse cx="182.4" cy="657.8" rx="1.0" ry="1.2"/><ellipse cx="163.4" cy="634.5" rx="1.0" ry="0.7"/><ellipse cx="170.3" cy="625.9" rx="0.9" ry="0.9"/><ellipse cx="203.9" cy="642.2" rx="0.9" ry="0.7"/><ellipse cx="186.7" cy="671.3" rx="0.9" ry="0.9"/><ellipse cx="173.9" cy="635.6" rx="0.7" ry="0.6"/><ellipse cx="198.2" cy="642.8" rx="0.6" ry="0.6"/><ellipse cx="201.3" cy="652.1" rx="0.7" ry="0.8"/><ellipse cx="145.8" cy="642.3" rx="0.8" ry="0.6"/><ellipse cx="153.0" cy="620.1" rx="0.7" ry="0.5"/><ellipse cx="185.5" cy="653.2" rx="0.7" ry="0.9"/><ellipse cx="166.4" cy="638.7" rx="1.1" ry="1.1"/><ellipse cx="170.1" cy="658.7" rx="1.0" ry="0.8"/><ellipse cx="136.2" cy="657.7" rx="1.0" ry="1.0"/><ellipse cx="140.2" cy="658.6" rx="0.7" ry="0.8"/><ellipse cx="183.4" cy="651.1" rx="0.6" ry="0.6"/><ellipse cx="192.9" cy="614.9" rx="0.6" ry="0.6"/><ellipse cx="203.2" cy="650.7" rx="0.7" ry="0.5"/><ellipse cx="201.8" cy="665.3" rx="1.0" ry="0.8"/><ellipse cx="194.5" cy="607.9" rx="0.7" ry="0.6"/><ellipse cx="212.1" cy="609.7" rx="0.7" ry="0.7"/><ellipse cx="195.5" cy="625.7" rx="0.6" ry="0.7"/><ellipse cx="213.3" cy="669.9" rx="0.9" ry="0.7"/><ellipse cx="193.6" cy="652.0" rx="1.0" ry="1.1"/><ellipse cx="173.2" cy="674.6" rx="0.8" ry="0.8"/><ellipse cx="184.7" cy="661.6" rx="0.9" ry="1.0"/><ellipse cx="153.4" cy="669.1" rx="1.0" ry="0.9"/><ellipse cx="132.6" cy="648.7" rx="0.9" ry="1.1"/><ellipse cx="178.0" cy="657.2" rx="1.0" ry="0.8"/><ellipse cx="187.3" cy="637.5" rx="0.7" ry="0.6"/><ellipse cx="161.2" cy="657.9" rx="0.9" ry="0.8"/><ellipse cx="134.9" cy="661.5" rx="1.0" ry="1.1"/><ellipse cx="197.5" cy="611.6" rx="0.7" ry="0.7"/><ellipse cx="155.6" cy="664.0" rx="0.7" ry="0.5"/><ellipse cx="168.8" cy="610.7" rx="0.6" ry="0.6"/><ellipse cx="181.9" cy="644.6" rx="0.6" ry="0.6"/><ellipse cx="175.0" cy="628.2" rx="0.7" ry="0.6"/><ellipse cx="171.6" cy="632.5" rx="0.9" ry="0.9"/><ellipse cx="153.8" cy="649.1" rx="0.7" ry="0.8"/><ellipse cx="147.7" cy="648.2" rx="1.0" ry="1.1"/><ellipse cx="175.6" cy="670.1" rx="1.1" ry="1.2"/><ellipse cx="160.9" cy="625.6" rx="0.9" ry="0.7"/><ellipse cx="145.3" cy="613.7" rx="0.9" ry="0.8"/><ellipse cx="209.1" cy="662.8" rx="0.9" ry="0.8"/><ellipse cx="157.6" cy="610.8" rx="0.7" ry="0.7"/><ellipse cx="155.7" cy="607.8" rx="1.1" ry="1.0"/><ellipse cx="196.5" cy="638.5" rx="1.1" ry="0.8"/><ellipse cx="170.7" cy="651.9" rx="0.6" ry="0.7"/><ellipse cx="159.2" cy="654.0" rx="0.6" ry="0.5"/><ellipse cx="137.6" cy="661.6" rx="1.1" ry="1.2"/><ellipse cx="175.6" cy="613.5" rx="1.0" ry="0.9"/><ellipse cx="197.2" cy="651.0" rx="0.9" ry="0.7"/><ellipse cx="142.4" cy="612.8" rx="0.8" ry="0.7"/><ellipse cx="211.9" cy="610.6" rx="1.0" ry="0.7"/><ellipse cx="139.0" cy="670.9" rx="0.7" ry="0.7"/><ellipse cx="180.3" cy="634.7" rx="0.8" ry="0.6"/><ellipse cx="189.8" cy="632.9" rx="0.9" ry="1.0"/><ellipse cx="136.7" cy="636.4" rx="0.8" ry="0.9"/><ellipse cx="183.4" cy="620.8" rx="0.8" ry="0.6"/><ellipse cx="174.2" cy="612.0" rx="0.7" ry="0.6"/><ellipse cx="176.3" cy="621.9" rx="0.9" ry="0.8"/><ellipse cx="190.4" cy="610.8" rx="1.0" ry="0.9"/><ellipse cx="145.0" cy="627.3" rx="0.9" ry="0.7"/><ellipse cx="208.3" cy="622.5" rx="0.8" ry="0.6"/><ellipse cx="169.3" cy="673.5" rx="0.7" ry="0.5"/><ellipse cx="177.0" cy="651.4" rx="0.7" ry="0.5"/><ellipse cx="181.9" cy="623.7" rx="0.6" ry="0.6"/><ellipse cx="204.5" cy="662.8" rx="1.0" ry="0.8"/><ellipse cx="156.7" cy="648.6" rx="0.9" ry="0.9"/><ellipse cx="177.5" cy="623.3" rx="0.7" ry="0.5"/><ellipse cx="135.1" cy="647.3" rx="0.6" ry="0.7"/><ellipse cx="212.3" cy="617.3" rx="1.1" ry="1.1"/><ellipse cx="130.7" cy="633.6" rx="0.8" ry="0.7"/><ellipse cx="136.0" cy="624.0" rx="0.6" ry="0.6"/><ellipse cx="171.4" cy="623.2" rx="1.1" ry="1.2"/><ellipse cx="173.0" cy="662.5" rx="0.8" ry="0.8"/><ellipse cx="196.8" cy="631.5" rx="1.0" ry="0.8"/><ellipse cx="145.0" cy="636.1" rx="0.7" ry="0.7"/><ellipse cx="151.7" cy="641.5" rx="1.0" ry="1.0"/><ellipse cx="208.0" cy="657.3" rx="0.9" ry="1.0"/><ellipse cx="189.3" cy="670.6" rx="0.9" ry="0.9"/><ellipse cx="177.3" cy="644.0" rx="1.1" ry="0.9"/><ellipse cx="146.5" cy="641.8" rx="0.8" ry="0.8"/><ellipse cx="184.6" cy="607.3" rx="0.7" ry="0.7"/><ellipse cx="164.1" cy="654.1" rx="0.8" ry="0.6"/><ellipse cx="189.2" cy="674.4" rx="0.6" ry="0.7"/></g>
<g filter="url(#sb)">
<path d="M155 613 Q158 609 163 610 Q166 608 170 611 Q174 614 173 619 Q174 623 169 623.5 Q164 622 161 619 Q156 618 155 613Z" fill="#98a8e8" opacity="0.6"/>
<path d="M142 636.5 Q146 632 152 632.5 Q158 633 159.5 636 Q157 639.5 150 639.5 Q144 640 142 636.5Z" fill="#98a8e8" opacity="0.6"/>
<path d="M178.6 640.5 L181.1 640.8 L184.8 642 L188.5 638.6 L191.5 635.8 L194.6 636.8 L197.1 640.2 L195.8 644.2 L193.4 648.5 L188.5 652.2 L184.2 654.6 L181.1 653.4 L179.2 648.5 L178 643.5Z" fill="#2c3ad2"/>
<path d="M178.6 656.5 L176.2 667" stroke="#3a4aa8" stroke-width="1.6"/>
</g>
<g fill="#4655cd" opacity="0.9"><ellipse cx="165.7" cy="618.0" rx="0.9" ry="0.9"/><ellipse cx="172.8" cy="621.3" rx="0.9" ry="1.0"/><ellipse cx="166.7" cy="620.5" rx="1.1" ry="0.8"/><ellipse cx="158.0" cy="613.0" rx="1.0" ry="1.2"/><ellipse cx="158.3" cy="616.3" rx="1.1" ry="1.1"/><ellipse cx="165.2" cy="621.6" rx="1.1" ry="0.8"/><ellipse cx="172.4" cy="613.8" rx="0.9" ry="1.0"/><ellipse cx="159.6" cy="614.0" rx="1.1" ry="1.2"/></g>
</g>
<rect x="131.2" y="608.2" width="83.60000000000002" height="67.0" fill="none" stroke="#000" stroke-width="2"/>
<g clip-path="url(#c12)">
<rect x="218.8" y="607.2" width="85.30000000000001" height="69.0" fill="#ccf5f0"/>
<rect x="218.8" y="607.2" width="85.30000000000001" height="69.0" filter="url(#f120)"/>
<g fill="#78a8b0" opacity="0.8"><ellipse cx="302.1" cy="613.7" rx="0.9" ry="1.0"/><ellipse cx="300.4" cy="657.3" rx="0.7" ry="0.6"/><ellipse cx="233.6" cy="625.1" rx="0.9" ry="0.8"/><ellipse cx="231.5" cy="613.2" rx="0.9" ry="1.0"/><ellipse cx="229.3" cy="642.6" rx="1.1" ry="1.0"/><ellipse cx="264.4" cy="663.1" rx="0.6" ry="0.7"/><ellipse cx="284.9" cy="658.0" rx="0.8" ry="0.7"/><ellipse cx="299.0" cy="611.4" rx="0.6" ry="0.7"/><ellipse cx="300.0" cy="617.5" rx="0.7" ry="0.6"/><ellipse cx="286.1" cy="646.1" rx="0.9" ry="0.7"/><ellipse cx="235.8" cy="647.6" rx="1.0" ry="0.7"/><ellipse cx="226.5" cy="628.9" rx="0.8" ry="0.7"/><ellipse cx="233.3" cy="612.3" rx="0.9" ry="1.1"/><ellipse cx="272.9" cy="670.6" rx="0.7" ry="0.7"/><ellipse cx="249.9" cy="665.6" rx="0.9" ry="0.9"/><ellipse cx="296.8" cy="673.1" rx="0.7" ry="0.6"/><ellipse cx="226.1" cy="645.9" rx="0.7" ry="0.7"/><ellipse cx="249.1" cy="607.7" rx="1.0" ry="0.8"/><ellipse cx="241.7" cy="643.1" rx="0.6" ry="0.7"/><ellipse cx="279.9" cy="615.3" rx="0.9" ry="0.7"/><ellipse cx="264.0" cy="613.6" rx="0.7" ry="0.7"/><ellipse cx="265.2" cy="652.3" rx="1.1" ry="0.9"/><ellipse cx="248.7" cy="621.6" rx="1.0" ry="0.9"/><ellipse cx="236.9" cy="620.5" rx="0.8" ry="0.9"/><ellipse cx="256.2" cy="663.3" rx="0.8" ry="0.8"/><ellipse cx="240.6" cy="635.4" rx="1.0" ry="0.7"/><ellipse cx="257.5" cy="624.6" rx="0.7" ry="0.6"/><ellipse cx="235.7" cy="647.0" rx="0.6" ry="0.5"/><ellipse cx="241.3" cy="619.7" rx="1.0" ry="1.1"/><ellipse cx="294.5" cy="616.4" rx="0.7" ry="0.6"/><ellipse cx="262.2" cy="664.7" rx="1.0" ry="1.1"/><ellipse cx="220.3" cy="609.1" rx="0.8" ry="0.7"/><ellipse cx="219.3" cy="631.4" rx="0.7" ry="0.8"/><ellipse cx="236.7" cy="629.2" rx="0.7" ry="0.8"/><ellipse cx="228.4" cy="637.5" rx="0.7" ry="0.6"/><ellipse cx="303.6" cy="656.5" rx="1.0" ry="0.8"/><ellipse cx="302.2" cy="673.8" rx="0.9" ry="0.7"/><ellipse cx="223.0" cy="644.8" rx="0.8" ry="1.0"/><ellipse cx="304.0" cy="663.6" rx="0.7" ry="0.9"/><ellipse cx="271.1" cy="609.8" rx="0.7" ry="0.8"/><ellipse cx="286.7" cy="658.3" rx="0.9" ry="0.7"/><ellipse cx="298.7" cy="627.8" rx="1.0" ry="1.0"/><ellipse cx="260.4" cy="643.5" rx="1.1" ry="1.2"/><ellipse cx="252.4" cy="666.0" rx="0.7" ry="0.6"/><ellipse cx="246.2" cy="610.4" rx="0.8" ry="0.6"/><ellipse cx="301.4" cy="663.6" rx="0.8" ry="0.6"/><ellipse cx="241.2" cy="660.5" rx="0.7" ry="0.6"/><ellipse cx="255.2" cy="647.1" rx="0.7" ry="0.6"/><ellipse cx="266.3" cy="658.6" rx="0.8" ry="1.0"/><ellipse cx="240.6" cy="659.0" rx="0.6" ry="0.7"/><ellipse cx="265.3" cy="619.1" rx="1.0" ry="1.2"/><ellipse cx="229.9" cy="668.1" rx="1.1" ry="0.9"/><ellipse cx="286.2" cy="656.9" rx="0.9" ry="0.8"/><ellipse cx="245.5" cy="663.5" rx="1.0" ry="1.2"/><ellipse cx="224.6" cy="646.5" rx="1.0" ry="0.8"/><ellipse cx="220.6" cy="668.9" rx="1.0" ry="1.0"/><ellipse cx="247.2" cy="637.4" rx="1.0" ry="0.8"/><ellipse cx="280.4" cy="656.0" rx="0.8" ry="1.0"/><ellipse cx="272.7" cy="668.2" rx="0.7" ry="0.6"/><ellipse cx="243.7" cy="641.6" rx="1.0" ry="1.2"/><ellipse cx="296.5" cy="666.0" rx="1.1" ry="1.2"/><ellipse cx="281.7" cy="613.5" rx="0.8" ry="0.8"/><ellipse cx="227.8" cy="669.4" rx="0.8" ry="0.6"/><ellipse cx="225.8" cy="644.2" rx="0.8" ry="0.9"/><ellipse cx="272.9" cy="636.9" rx="0.7" ry="0.5"/><ellipse cx="277.5" cy="649.4" rx="0.8" ry="0.8"/><ellipse cx="253.8" cy="669.7" rx="0.6" ry="0.5"/><ellipse cx="286.5" cy="629.0" rx="0.8" ry="0.7"/><ellipse cx="244.0" cy="659.6" rx="0.6" ry="0.6"/><ellipse cx="279.7" cy="630.9" rx="1.0" ry="0.8"/><ellipse cx="271.9" cy="614.3" rx="0.8" ry="0.7"/><ellipse cx="271.0" cy="639.2" rx="0.6" ry="0.6"/><ellipse cx="292.6" cy="625.9" rx="0.7" ry="0.7"/><ellipse cx="238.6" cy="614.2" rx="0.6" ry="0.6"/><ellipse cx="294.0" cy="660.4" rx="0.9" ry="1.0"/><ellipse cx="291.2" cy="625.7" rx="0.8" ry="0.9"/><ellipse cx="299.2" cy="651.4" rx="0.9" ry="0.8"/><ellipse cx="226.5" cy="629.9" rx="0.7" ry="0.7"/><ellipse cx="274.7" cy="650.7" rx="1.1" ry="0.7"/><ellipse cx="236.4" cy="614.1" rx="0.8" ry="0.9"/><ellipse cx="258.7" cy="662.3" rx="0.7" ry="0.6"/><ellipse cx="286.9" cy="627.4" rx="1.0" ry="1.0"/><ellipse cx="274.7" cy="609.2" rx="0.8" ry="0.9"/><ellipse cx="250.8" cy="626.4" rx="1.1" ry="1.1"/><ellipse cx="278.2" cy="640.6" rx="0.9" ry="0.8"/><ellipse cx="242.2" cy="627.3" rx="0.7" ry="0.7"/><ellipse cx="226.3" cy="615.3" rx="0.9" ry="1.0"/><ellipse cx="285.5" cy="653.3" rx="1.0" ry="0.8"/><ellipse cx="262.3" cy="608.4" rx="0.9" ry="0.6"/><ellipse cx="228.7" cy="615.5" rx="0.8" ry="0.7"/><ellipse cx="237.4" cy="612.5" rx="0.7" ry="0.8"/><ellipse cx="302.8" cy="670.2" rx="0.7" ry="0.5"/><ellipse cx="293.8" cy="608.3" rx="0.7" ry="0.7"/><ellipse cx="301.1" cy="671.1" rx="1.0" ry="0.9"/><ellipse cx="281.4" cy="671.8" rx="1.0" ry="1.2"/><ellipse cx="283.8" cy="661.5" rx="1.0" ry="0.9"/><ellipse cx="267.7" cy="671.3" rx="0.9" ry="0.6"/><ellipse cx="257.0" cy="667.3" rx="1.0" ry="0.9"/><ellipse cx="298.5" cy="659.4" rx="0.7" ry="0.7"/><ellipse cx="293.0" cy="607.7" rx="1.1" ry="1.0"/><ellipse cx="291.1" cy="608.1" rx="0.8" ry="0.6"/><ellipse cx="237.4" cy="652.6" rx="1.0" ry="1.0"/><ellipse cx="296.4" cy="615.1" rx="0.7" ry="0.7"/><ellipse cx="286.4" cy="658.1" rx="1.1" ry="1.2"/><ellipse cx="264.0" cy="658.2" rx="1.0" ry="1.0"/><ellipse cx="276.7" cy="666.1" rx="1.0" ry="0.8"/><ellipse cx="221.4" cy="656.0" rx="1.0" ry="0.8"/><ellipse cx="291.4" cy="659.4" rx="0.7" ry="0.5"/><ellipse cx="274.9" cy="650.2" rx="0.7" ry="0.8"/><ellipse cx="237.2" cy="664.7" rx="1.1" ry="0.8"/><ellipse cx="278.6" cy="645.1" rx="1.1" ry="1.0"/><ellipse cx="253.9" cy="623.3" rx="1.0" ry="0.9"/><ellipse cx="296.5" cy="609.6" rx="1.0" ry="0.7"/><ellipse cx="280.5" cy="672.7" rx="0.8" ry="0.8"/><ellipse cx="254.1" cy="611.7" rx="1.0" ry="1.0"/><ellipse cx="287.2" cy="609.7" rx="0.7" ry="0.6"/><ellipse cx="288.4" cy="608.8" rx="0.6" ry="0.5"/><ellipse cx="251.8" cy="665.6" rx="1.0" ry="0.8"/><ellipse cx="282.1" cy="631.9" rx="1.0" ry="1.0"/><ellipse cx="224.8" cy="639.6" rx="0.8" ry="0.8"/><ellipse cx="266.2" cy="654.9" rx="0.8" ry="0.8"/><ellipse cx="289.4" cy="654.2" rx="0.7" ry="0.5"/><ellipse cx="242.0" cy="672.8" rx="0.8" ry="0.9"/><ellipse cx="301.1" cy="655.4" rx="0.8" ry="0.8"/><ellipse cx="261.6" cy="672.9" rx="0.9" ry="0.9"/><ellipse cx="277.2" cy="650.7" rx="0.7" ry="0.7"/><ellipse cx="255.3" cy="654.1" rx="1.0" ry="0.8"/><ellipse cx="250.3" cy="624.9" rx="1.1" ry="1.0"/><ellipse cx="257.2" cy="673.8" rx="1.0" ry="1.1"/><ellipse cx="261.7" cy="615.9" rx="0.8" ry="0.6"/><ellipse cx="252.9" cy="638.3" rx="0.8" ry="1.0"/><ellipse cx="264.2" cy="618.6" rx="0.7" ry="0.7"/><ellipse cx="262.8" cy="635.5" rx="0.8" ry="0.8"/><ellipse cx="276.6" cy="648.1" rx="0.6" ry="0.6"/><ellipse cx="240.1" cy="647.4" rx="0.8" ry="0.9"/><ellipse cx="301.1" cy="658.4" rx="0.9" ry="0.9"/><ellipse cx="228.5" cy="657.6" rx="0.7" ry="0.6"/><ellipse cx="268.6" cy="625.5" rx="1.0" ry="1.0"/><ellipse cx="301.8" cy="608.7" rx="0.8" ry="0.7"/><ellipse cx="267.8" cy="651.9" rx="0.9" ry="1.0"/><ellipse cx="256.4" cy="632.8" rx="1.0" ry="1.0"/><ellipse cx="241.7" cy="670.8" rx="0.7" ry="0.5"/><ellipse cx="264.7" cy="670.0" rx="1.0" ry="1.1"/><ellipse cx="270.9" cy="642.5" rx="0.7" ry="0.6"/><ellipse cx="256.6" cy="664.7" rx="0.9" ry="1.0"/><ellipse cx="287.0" cy="644.7" rx="0.9" ry="0.8"/><ellipse cx="296.2" cy="664.7" rx="0.7" ry="0.8"/><ellipse cx="276.6" cy="632.1" rx="1.0" ry="0.9"/><ellipse cx="278.0" cy="642.0" rx="0.9" ry="1.1"/><ellipse cx="294.8" cy="640.3" rx="0.8" ry="0.8"/><ellipse cx="275.7" cy="613.8" rx="0.9" ry="0.7"/><ellipse cx="274.1" cy="618.7" rx="0.7" ry="0.6"/><ellipse cx="242.7" cy="646.2" rx="1.0" ry="1.1"/><ellipse cx="273.9" cy="659.7" rx="0.8" ry="0.7"/><ellipse cx="274.4" cy="621.5" rx="1.0" ry="1.1"/><ellipse cx="293.9" cy="611.7" rx="1.1" ry="0.9"/><ellipse cx="229.9" cy="649.8" rx="0.8" ry="0.6"/><ellipse cx="270.7" cy="644.2" rx="0.9" ry="0.8"/><ellipse cx="271.4" cy="660.8" rx="1.0" ry="1.0"/><ellipse cx="289.4" cy="639.6" rx="0.9" ry="0.7"/><ellipse cx="225.8" cy="638.4" rx="0.9" ry="0.8"/><ellipse cx="300.6" cy="627.2" rx="0.8" ry="0.8"/><ellipse cx="301.6" cy="617.8" rx="0.7" ry="0.7"/><ellipse cx="249.7" cy="630.9" rx="0.7" ry="0.8"/><ellipse cx="256.5" cy="647.1" rx="0.7" ry="0.8"/><ellipse cx="227.8" cy="655.3" rx="0.6" ry="0.6"/><ellipse cx="246.5" cy="672.8" rx="0.8" ry="0.9"/><ellipse cx="221.3" cy="623.5" rx="1.1" ry="1.0"/><ellipse cx="222.1" cy="625.1" rx="0.8" ry="0.8"/><ellipse cx="251.4" cy="628.2" rx="0.8" ry="0.8"/><ellipse cx="234.4" cy="642.9" rx="0.9" ry="0.9"/><ellipse cx="281.9" cy="638.5" rx="0.7" ry="0.8"/><ellipse cx="228.9" cy="628.2" rx="0.8" ry="0.7"/><ellipse cx="236.8" cy="666.6" rx="0.8" ry="0.7"/><ellipse cx="270.8" cy="616.2" rx="0.8" ry="0.6"/><ellipse cx="265.1" cy="657.6" rx="1.0" ry="1.2"/><ellipse cx="228.5" cy="638.9" rx="0.9" ry="0.8"/><ellipse cx="299.3" cy="641.3" rx="1.0" ry="0.8"/><ellipse cx="252.0" cy="655.3" rx="1.0" ry="1.0"/><ellipse cx="292.0" cy="659.6" rx="0.8" ry="0.9"/><ellipse cx="262.8" cy="615.0" rx="1.0" ry="1.2"/><ellipse cx="294.9" cy="623.4" rx="1.0" ry="0.7"/><ellipse cx="261.4" cy="628.1" rx="0.9" ry="0.8"/><ellipse cx="265.7" cy="637.1" rx="1.0" ry="1.0"/><ellipse cx="242.5" cy="620.9" rx="0.7" ry="0.6"/><ellipse cx="255.0" cy="642.0" rx="1.0" ry="1.2"/><ellipse cx="241.1" cy="627.6" rx="0.9" ry="0.6"/><ellipse cx="273.0" cy="609.8" rx="0.9" ry="0.9"/><ellipse cx="251.5" cy="675.6" rx="0.8" ry="0.5"/><ellipse cx="227.9" cy="623.8" rx="1.0" ry="1.0"/><ellipse cx="249.0" cy="668.1" rx="0.7" ry="0.6"/><ellipse cx="267.5" cy="644.0" rx="1.0" ry="0.9"/><ellipse cx="295.7" cy="650.8" rx="0.9" ry="0.9"/><ellipse cx="236.9" cy="646.1" rx="1.1" ry="0.8"/><ellipse cx="247.0" cy="628.5" rx="0.7" ry="0.8"/><ellipse cx="274.1" cy="616.5" rx="1.0" ry="1.1"/><ellipse cx="224.4" cy="608.5" rx="0.9" ry="1.0"/><ellipse cx="265.7" cy="642.1" rx="0.8" ry="0.8"/><ellipse cx="296.6" cy="648.4" rx="1.0" ry="0.9"/><ellipse cx="294.2" cy="660.3" rx="0.9" ry="0.7"/><ellipse cx="244.4" cy="674.8" rx="0.9" ry="0.7"/><ellipse cx="263.2" cy="636.7" rx="0.9" ry="0.8"/><ellipse cx="296.0" cy="640.5" rx="1.0" ry="0.8"/><ellipse cx="294.5" cy="644.9" rx="0.9" ry="0.8"/><ellipse cx="299.2" cy="646.0" rx="0.9" ry="0.8"/><ellipse cx="257.8" cy="625.8" rx="0.8" ry="0.7"/><ellipse cx="225.4" cy="632.4" rx="0.6" ry="0.6"/><ellipse cx="226.9" cy="669.7" rx="0.8" ry="0.6"/><ellipse cx="265.7" cy="627.3" rx="1.0" ry="0.8"/><ellipse cx="297.4" cy="610.1" rx="0.6" ry="0.7"/><ellipse cx="277.5" cy="625.4" rx="0.9" ry="0.8"/><ellipse cx="262.2" cy="626.2" rx="0.9" ry="0.9"/><ellipse cx="291.0" cy="624.9" rx="0.9" ry="0.9"/><ellipse cx="293.4" cy="640.3" rx="1.0" ry="1.2"/><ellipse cx="253.6" cy="635.2" rx="1.1" ry="1.1"/><ellipse cx="264.1" cy="660.9" rx="0.9" ry="0.9"/><ellipse cx="274.9" cy="625.3" rx="0.8" ry="0.6"/><ellipse cx="280.3" cy="664.0" rx="1.0" ry="1.1"/><ellipse cx="283.3" cy="614.6" rx="0.8" ry="0.9"/><ellipse cx="228.0" cy="667.8" rx="1.0" ry="0.8"/></g>
<g filter="url(#sb)">
<path d="M246 629 Q249 627 251 631 Q253 636 255 633 Q256 630 257 632 Q257 638 253 640 Q249 640 247 635Z" fill="#6a7edb" opacity="0.85"/>
<ellipse cx="254.5" cy="645.5" rx="3" ry="2.5" fill="#9fb0e6" opacity="0.8"/>
<path d="M264 655 Q267 650 273 650 Q277 651.5 275 654.5 Q270 657 264 656Z" fill="#6a7edb" opacity="0.85"/>
<ellipse cx="279" cy="660.5" rx="2.3" ry="2" fill="#6e82cc" opacity="0.9"/>
<ellipse cx="262" cy="630" rx="2.5" ry="1.5" fill="#a9bce8" opacity="0.8"/>
</g>
</g>
<rect x="219.8" y="608.2" width="83.30000000000001" height="67.0" fill="none" stroke="#000" stroke-width="2"/>
<g clip-path="url(#c13)">
<rect x="306.8" y="607.2" width="85.39999999999998" height="69.0" fill="#b4ebf1"/>
<rect x="306.8" y="607.2" width="85.39999999999998" height="69.0" filter="url(#f130)"/>
<rect x="306.8" y="607.2" width="85.39999999999998" height="69.0" filter="url(#f131)"/>
<g fill="#78c8dc" opacity="0.5"><ellipse cx="324.7" cy="657.7" rx="0.8" ry="0.5"/><ellipse cx="352.0" cy="620.2" rx="0.8" ry="0.8"/><ellipse cx="307.9" cy="634.5" rx="0.5" ry="0.6"/><ellipse cx="382.6" cy="656.7" rx="0.5" ry="0.6"/><ellipse cx="329.3" cy="652.1" rx="0.8" ry="0.8"/><ellipse cx="316.7" cy="624.1" rx="0.8" ry="0.6"/><ellipse cx="338.9" cy="671.5" rx="0.7" ry="0.5"/><ellipse cx="362.3" cy="631.3" rx="0.8" ry="0.7"/><ellipse cx="377.6" cy="664.2" rx="0.6" ry="0.6"/><ellipse cx="344.9" cy="615.7" rx="0.9" ry="0.8"/><ellipse cx="359.0" cy="611.4" rx="0.9" ry="1.0"/><ellipse cx="365.2" cy="616.2" rx="0.8" ry="0.7"/><ellipse cx="347.2" cy="622.3" rx="0.6" ry="0.6"/><ellipse cx="358.4" cy="658.7" rx="0.8" ry="0.7"/><ellipse cx="353.8" cy="628.1" rx="0.8" ry="0.7"/><ellipse cx="373.8" cy="627.3" rx="0.7" ry="0.5"/><ellipse cx="310.1" cy="622.0" rx="0.5" ry="0.5"/><ellipse cx="339.2" cy="668.1" rx="0.5" ry="0.6"/><ellipse cx="314.9" cy="664.5" rx="0.6" ry="0.5"/><ellipse cx="358.9" cy="631.8" rx="0.5" ry="0.4"/><ellipse cx="364.8" cy="656.9" rx="0.9" ry="0.7"/><ellipse cx="372.5" cy="630.8" rx="0.7" ry="0.6"/><ellipse cx="342.0" cy="670.3" rx="0.6" ry="0.5"/><ellipse cx="384.4" cy="638.4" rx="0.8" ry="0.8"/><ellipse cx="336.7" cy="656.9" rx="0.8" ry="0.7"/><ellipse cx="392.0" cy="613.5" rx="0.8" ry="0.9"/><ellipse cx="367.4" cy="639.9" rx="0.8" ry="0.6"/><ellipse cx="364.0" cy="666.9" rx="0.7" ry="0.7"/><ellipse cx="366.2" cy="641.8" rx="0.8" ry="0.8"/><ellipse cx="317.1" cy="643.3" rx="0.8" ry="0.6"/><ellipse cx="346.2" cy="664.8" rx="0.5" ry="0.6"/><ellipse cx="336.8" cy="632.3" rx="0.8" ry="0.8"/><ellipse cx="331.4" cy="617.9" rx="0.7" ry="0.8"/><ellipse cx="391.8" cy="656.7" rx="0.8" ry="0.8"/><ellipse cx="384.9" cy="618.3" rx="0.6" ry="0.6"/><ellipse cx="308.5" cy="643.3" rx="0.7" ry="0.8"/><ellipse cx="360.2" cy="622.7" rx="0.5" ry="0.5"/><ellipse cx="353.9" cy="639.4" rx="0.7" ry="0.5"/><ellipse cx="337.5" cy="664.5" rx="0.6" ry="0.5"/><ellipse cx="322.0" cy="672.0" rx="0.8" ry="0.8"/><ellipse cx="334.9" cy="632.6" rx="0.9" ry="1.0"/><ellipse cx="388.1" cy="666.3" rx="0.8" ry="0.6"/><ellipse cx="387.3" cy="618.7" rx="0.8" ry="0.7"/><ellipse cx="309.9" cy="652.6" rx="0.6" ry="0.7"/><ellipse cx="322.2" cy="653.3" rx="0.7" ry="0.5"/><ellipse cx="330.9" cy="628.5" rx="0.8" ry="0.9"/><ellipse cx="386.7" cy="618.6" rx="0.6" ry="0.5"/><ellipse cx="334.2" cy="621.4" rx="0.8" ry="0.6"/><ellipse cx="352.7" cy="616.4" rx="0.6" ry="0.5"/><ellipse cx="346.3" cy="672.0" rx="0.8" ry="0.7"/><ellipse cx="391.3" cy="624.7" rx="0.6" ry="0.6"/><ellipse cx="372.6" cy="657.2" rx="0.7" ry="0.7"/><ellipse cx="335.2" cy="672.6" rx="0.8" ry="0.9"/><ellipse cx="352.9" cy="670.6" rx="0.7" ry="0.8"/><ellipse cx="344.7" cy="672.8" rx="0.6" ry="0.6"/><ellipse cx="354.7" cy="645.1" rx="0.8" ry="0.9"/><ellipse cx="322.3" cy="655.9" rx="0.7" ry="0.6"/><ellipse cx="316.7" cy="670.0" rx="0.9" ry="1.0"/><ellipse cx="355.6" cy="612.9" rx="0.6" ry="0.5"/><ellipse cx="314.2" cy="633.1" rx="0.6" ry="0.6"/><ellipse cx="312.7" cy="616.3" rx="0.9" ry="0.9"/><ellipse cx="326.7" cy="638.2" rx="0.6" ry="0.6"/><ellipse cx="321.9" cy="658.6" rx="0.9" ry="0.9"/><ellipse cx="388.7" cy="663.4" rx="0.7" ry="0.7"/><ellipse cx="365.8" cy="632.5" rx="0.5" ry="0.5"/><ellipse cx="376.6" cy="653.8" rx="0.5" ry="0.6"/><ellipse cx="310.8" cy="643.0" rx="0.6" ry="0.5"/><ellipse cx="326.5" cy="649.6" rx="0.8" ry="0.9"/><ellipse cx="350.0" cy="611.4" rx="0.5" ry="0.4"/><ellipse cx="317.7" cy="619.3" rx="0.6" ry="0.5"/></g>
</g>
<rect x="307.8" y="608.2" width="83.39999999999998" height="67.0" fill="none" stroke="#000" stroke-width="2"/>
<g clip-path="url(#c20)">
<rect x="42.3" y="677.8" width="85.7" height="69.20000000000005" fill="#6870e2"/>
<rect x="42.3" y="677.8" width="85.7" height="69.20000000000005" filter="url(#f200)"/>
<rect x="42.3" y="677.8" width="85.7" height="69.20000000000005" filter="url(#f201)"/>
<g fill="#3237ac" opacity="0.8"><ellipse cx="115.2" cy="702.7" rx="1.0" ry="1.1"/><ellipse cx="57.8" cy="712.5" rx="0.7" ry="0.7"/><ellipse cx="121.9" cy="717.0" rx="0.9" ry="0.9"/><ellipse cx="85.3" cy="712.2" rx="1.1" ry="1.2"/><ellipse cx="118.6" cy="745.4" rx="1.4" ry="1.5"/><ellipse cx="100.8" cy="733.1" rx="0.8" ry="0.7"/><ellipse cx="114.5" cy="707.9" rx="0.7" ry="0.8"/><ellipse cx="53.8" cy="696.6" rx="1.3" ry="1.1"/><ellipse cx="113.1" cy="696.3" rx="1.3" ry="1.1"/><ellipse cx="90.5" cy="725.1" rx="1.2" ry="1.0"/><ellipse cx="99.8" cy="689.3" rx="0.9" ry="0.9"/><ellipse cx="55.4" cy="706.4" rx="0.8" ry="0.8"/><ellipse cx="57.3" cy="702.8" rx="1.4" ry="1.3"/><ellipse cx="85.2" cy="680.0" rx="0.9" ry="0.7"/><ellipse cx="95.4" cy="688.5" rx="0.8" ry="0.6"/><ellipse cx="105.8" cy="722.9" rx="0.9" ry="0.8"/><ellipse cx="66.0" cy="715.7" rx="1.1" ry="0.8"/><ellipse cx="55.4" cy="721.2" rx="0.9" ry="0.9"/><ellipse cx="57.4" cy="684.6" rx="0.7" ry="0.8"/><ellipse cx="88.3" cy="679.1" rx="0.9" ry="1.0"/><ellipse cx="61.0" cy="735.4" rx="0.7" ry="0.7"/><ellipse cx="91.5" cy="690.8" rx="1.4" ry="1.4"/><ellipse cx="53.5" cy="730.0" rx="0.7" ry="0.7"/><ellipse cx="113.8" cy="722.0" rx="0.7" ry="0.5"/><ellipse cx="113.4" cy="736.4" rx="0.9" ry="1.0"/><ellipse cx="112.0" cy="685.2" rx="1.3" ry="0.9"/><ellipse cx="70.1" cy="692.3" rx="0.8" ry="0.8"/><ellipse cx="46.2" cy="744.6" rx="0.8" ry="0.9"/><ellipse cx="72.4" cy="741.3" rx="1.1" ry="1.0"/><ellipse cx="107.5" cy="716.7" rx="1.0" ry="0.8"/><ellipse cx="110.8" cy="721.3" rx="1.0" ry="1.2"/><ellipse cx="82.1" cy="729.1" rx="0.8" ry="0.7"/><ellipse cx="96.4" cy="695.7" rx="1.4" ry="1.7"/><ellipse cx="97.6" cy="727.6" rx="0.9" ry="1.0"/><ellipse cx="116.1" cy="709.6" rx="1.1" ry="1.1"/><ellipse cx="63.6" cy="681.0" rx="0.8" ry="0.8"/><ellipse cx="96.9" cy="737.0" rx="0.9" ry="0.7"/><ellipse cx="78.3" cy="689.1" rx="0.9" ry="0.8"/><ellipse cx="101.0" cy="685.1" rx="0.8" ry="0.8"/><ellipse cx="87.0" cy="690.0" rx="1.2" ry="1.1"/><ellipse cx="124.8" cy="743.8" rx="1.1" ry="0.8"/><ellipse cx="87.0" cy="696.6" rx="0.9" ry="0.7"/><ellipse cx="101.5" cy="723.2" rx="0.9" ry="0.7"/><ellipse cx="127.4" cy="716.0" rx="1.2" ry="1.0"/><ellipse cx="123.1" cy="727.5" rx="1.1" ry="0.8"/><ellipse cx="79.7" cy="679.5" rx="0.8" ry="0.9"/><ellipse cx="51.8" cy="692.0" rx="0.9" ry="1.1"/><ellipse cx="56.4" cy="706.6" rx="1.1" ry="0.8"/><ellipse cx="90.6" cy="682.6" rx="0.9" ry="0.8"/><ellipse cx="127.8" cy="708.1" rx="0.9" ry="0.8"/><ellipse cx="68.0" cy="689.0" rx="0.9" ry="1.0"/><ellipse cx="72.5" cy="693.7" rx="0.7" ry="0.8"/><ellipse cx="67.9" cy="696.5" rx="1.3" ry="1.5"/><ellipse cx="89.5" cy="682.6" rx="1.3" ry="1.4"/><ellipse cx="43.8" cy="697.7" rx="1.3" ry="1.2"/><ellipse cx="57.4" cy="746.0" rx="0.8" ry="0.7"/><ellipse cx="101.8" cy="746.1" rx="1.2" ry="0.8"/><ellipse cx="44.0" cy="692.6" rx="1.2" ry="1.4"/><ellipse cx="52.2" cy="724.1" rx="1.2" ry="0.8"/><ellipse cx="119.7" cy="699.5" rx="1.0" ry="1.1"/><ellipse cx="88.9" cy="721.1" rx="0.7" ry="0.7"/><ellipse cx="55.1" cy="734.8" rx="1.2" ry="1.3"/><ellipse cx="97.6" cy="745.4" rx="1.3" ry="1.4"/><ellipse cx="73.1" cy="678.7" rx="1.4" ry="1.0"/><ellipse cx="46.0" cy="719.0" rx="1.4" ry="1.3"/><ellipse cx="60.2" cy="679.1" rx="0.8" ry="0.7"/><ellipse cx="72.2" cy="696.4" rx="1.3" ry="1.6"/><ellipse cx="126.2" cy="691.4" rx="1.2" ry="0.9"/><ellipse cx="81.9" cy="712.4" rx="0.9" ry="1.0"/><ellipse cx="61.1" cy="733.3" rx="1.2" ry="1.3"/><ellipse cx="48.8" cy="686.2" rx="1.3" ry="1.5"/><ellipse cx="62.8" cy="723.9" rx="1.2" ry="1.4"/><ellipse cx="54.0" cy="692.0" rx="0.7" ry="0.8"/><ellipse cx="73.0" cy="726.1" rx="0.8" ry="0.8"/><ellipse cx="65.7" cy="708.1" rx="1.1" ry="1.3"/><ellipse cx="58.7" cy="732.0" rx="0.7" ry="0.6"/><ellipse cx="102.0" cy="683.5" rx="1.3" ry="1.5"/><ellipse cx="61.1" cy="726.7" rx="1.2" ry="1.4"/><ellipse cx="84.8" cy="703.3" rx="1.3" ry="1.1"/><ellipse cx="120.6" cy="702.9" rx="1.0" ry="1.1"/><ellipse cx="107.1" cy="690.6" rx="1.2" ry="1.4"/><ellipse cx="76.6" cy="716.4" rx="1.2" ry="1.2"/><ellipse cx="75.8" cy="704.1" rx="0.8" ry="0.8"/><ellipse cx="70.6" cy="732.2" rx="0.7" ry="0.8"/><ellipse cx="56.0" cy="737.9" rx="1.3" ry="1.1"/><ellipse cx="50.8" cy="692.4" rx="0.8" ry="1.0"/><ellipse cx="111.4" cy="679.5" rx="0.7" ry="0.7"/><ellipse cx="81.3" cy="716.0" rx="1.3" ry="1.4"/><ellipse cx="53.9" cy="744.8" rx="1.0" ry="1.0"/><ellipse cx="55.2" cy="694.3" rx="0.8" ry="0.7"/><ellipse cx="88.9" cy="695.6" rx="0.9" ry="0.7"/><ellipse cx="48.2" cy="740.8" rx="1.0" ry="0.9"/><ellipse cx="53.5" cy="745.9" rx="0.7" ry="0.8"/><ellipse cx="46.0" cy="697.8" rx="1.0" ry="1.0"/><ellipse cx="102.7" cy="717.3" rx="1.2" ry="0.9"/><ellipse cx="67.4" cy="696.8" rx="1.0" ry="0.9"/><ellipse cx="51.6" cy="686.7" rx="0.7" ry="0.5"/><ellipse cx="97.8" cy="744.5" rx="1.1" ry="0.9"/><ellipse cx="94.6" cy="712.1" rx="0.9" ry="1.0"/><ellipse cx="64.8" cy="699.0" rx="0.7" ry="0.6"/><ellipse cx="121.4" cy="711.0" rx="1.2" ry="1.1"/><ellipse cx="65.0" cy="702.3" rx="1.1" ry="0.9"/><ellipse cx="86.4" cy="679.5" rx="1.0" ry="0.7"/><ellipse cx="83.3" cy="714.5" rx="1.3" ry="1.5"/><ellipse cx="118.9" cy="708.6" rx="0.9" ry="1.0"/><ellipse cx="52.5" cy="704.1" rx="0.7" ry="0.8"/><ellipse cx="106.2" cy="741.9" rx="0.8" ry="0.9"/><ellipse cx="102.1" cy="715.5" rx="1.0" ry="1.1"/><ellipse cx="82.8" cy="743.3" rx="1.3" ry="1.2"/><ellipse cx="88.5" cy="707.5" rx="1.3" ry="1.5"/><ellipse cx="76.6" cy="703.2" rx="0.9" ry="1.0"/><ellipse cx="99.3" cy="720.8" rx="1.1" ry="1.1"/><ellipse cx="42.8" cy="710.9" rx="1.2" ry="1.3"/><ellipse cx="112.1" cy="693.4" rx="1.3" ry="1.6"/><ellipse cx="95.5" cy="734.6" rx="0.8" ry="0.7"/><ellipse cx="60.9" cy="714.7" rx="1.3" ry="1.2"/><ellipse cx="122.3" cy="735.3" rx="0.7" ry="0.5"/><ellipse cx="127.8" cy="712.4" rx="1.2" ry="1.4"/><ellipse cx="68.3" cy="678.9" rx="1.3" ry="1.5"/><ellipse cx="76.5" cy="723.5" rx="0.7" ry="0.8"/><ellipse cx="94.7" cy="745.5" rx="1.2" ry="1.0"/><ellipse cx="57.7" cy="713.4" rx="1.3" ry="1.3"/><ellipse cx="88.5" cy="693.0" rx="0.8" ry="0.7"/><ellipse cx="68.4" cy="710.5" rx="1.4" ry="1.1"/><ellipse cx="61.9" cy="729.1" rx="1.4" ry="1.1"/><ellipse cx="67.9" cy="706.5" rx="0.7" ry="0.6"/><ellipse cx="89.6" cy="694.8" rx="0.9" ry="1.0"/><ellipse cx="83.6" cy="716.8" rx="1.2" ry="1.2"/><ellipse cx="121.2" cy="744.9" rx="0.8" ry="0.8"/><ellipse cx="44.4" cy="686.1" rx="0.9" ry="0.7"/><ellipse cx="55.4" cy="694.0" rx="1.3" ry="1.4"/><ellipse cx="85.3" cy="715.8" rx="1.2" ry="1.2"/><ellipse cx="48.9" cy="709.6" rx="0.8" ry="0.8"/><ellipse cx="126.1" cy="691.4" rx="0.9" ry="0.9"/><ellipse cx="98.8" cy="698.9" rx="1.0" ry="0.9"/><ellipse cx="122.0" cy="681.2" rx="1.3" ry="1.3"/><ellipse cx="120.8" cy="704.8" rx="1.2" ry="0.8"/><ellipse cx="61.4" cy="722.7" rx="0.9" ry="0.9"/><ellipse cx="126.5" cy="716.6" rx="1.2" ry="1.1"/><ellipse cx="63.9" cy="746.0" rx="1.0" ry="0.7"/><ellipse cx="78.7" cy="706.5" rx="0.8" ry="0.8"/><ellipse cx="48.5" cy="742.9" rx="1.1" ry="0.9"/><ellipse cx="89.3" cy="718.7" rx="1.0" ry="1.1"/><ellipse cx="81.3" cy="741.7" rx="1.2" ry="1.3"/><ellipse cx="56.2" cy="726.5" rx="1.4" ry="1.5"/><ellipse cx="46.1" cy="697.4" rx="0.7" ry="0.7"/><ellipse cx="118.3" cy="725.3" rx="1.2" ry="1.1"/><ellipse cx="104.9" cy="715.6" rx="1.3" ry="1.0"/><ellipse cx="82.6" cy="721.3" rx="0.7" ry="0.7"/><ellipse cx="120.7" cy="683.9" rx="1.2" ry="1.3"/><ellipse cx="118.5" cy="744.7" rx="1.1" ry="1.1"/><ellipse cx="83.0" cy="708.3" rx="1.1" ry="1.0"/><ellipse cx="110.7" cy="715.6" rx="1.0" ry="1.0"/><ellipse cx="103.1" cy="735.7" rx="1.3" ry="1.3"/><ellipse cx="63.2" cy="677.8" rx="0.8" ry="0.6"/><ellipse cx="85.8" cy="683.1" rx="1.0" ry="1.1"/><ellipse cx="80.0" cy="738.2" rx="1.0" ry="0.9"/><ellipse cx="65.0" cy="686.9" rx="1.1" ry="0.8"/><ellipse cx="55.0" cy="697.9" rx="1.2" ry="1.4"/><ellipse cx="60.9" cy="694.5" rx="1.4" ry="1.4"/><ellipse cx="110.6" cy="746.9" rx="1.2" ry="1.0"/><ellipse cx="126.4" cy="739.6" rx="0.7" ry="0.8"/><ellipse cx="97.9" cy="693.9" rx="1.0" ry="0.9"/><ellipse cx="108.7" cy="705.5" rx="0.8" ry="0.9"/><ellipse cx="70.7" cy="689.8" rx="1.2" ry="0.9"/><ellipse cx="94.2" cy="708.6" rx="0.8" ry="0.9"/><ellipse cx="101.7" cy="681.7" rx="1.3" ry="1.4"/><ellipse cx="112.8" cy="731.2" rx="0.8" ry="0.7"/><ellipse cx="57.1" cy="733.9" rx="1.4" ry="1.3"/><ellipse cx="99.4" cy="745.4" rx="1.1" ry="1.0"/><ellipse cx="66.4" cy="746.0" rx="0.8" ry="0.6"/><ellipse cx="115.2" cy="679.7" rx="0.8" ry="0.8"/><ellipse cx="62.6" cy="704.4" rx="0.7" ry="0.7"/><ellipse cx="48.7" cy="697.8" rx="0.8" ry="0.8"/><ellipse cx="60.9" cy="716.2" rx="0.7" ry="0.7"/><ellipse cx="71.6" cy="740.6" rx="0.8" ry="0.7"/><ellipse cx="116.7" cy="682.0" rx="1.0" ry="1.0"/><ellipse cx="67.2" cy="689.4" rx="1.0" ry="0.7"/><ellipse cx="43.1" cy="697.6" rx="1.0" ry="0.8"/><ellipse cx="103.2" cy="706.5" rx="1.1" ry="1.1"/><ellipse cx="103.2" cy="742.3" rx="1.1" ry="1.1"/><ellipse cx="90.0" cy="683.1" rx="1.3" ry="1.2"/><ellipse cx="45.7" cy="729.2" rx="1.1" ry="1.2"/><ellipse cx="78.0" cy="710.4" rx="1.3" ry="1.5"/><ellipse cx="108.3" cy="708.6" rx="1.0" ry="1.1"/><ellipse cx="119.2" cy="709.5" rx="1.2" ry="1.2"/><ellipse cx="89.6" cy="692.6" rx="0.9" ry="0.7"/><ellipse cx="126.6" cy="679.6" rx="0.9" ry="0.7"/><ellipse cx="112.2" cy="724.3" rx="0.9" ry="0.7"/><ellipse cx="100.0" cy="729.5" rx="1.1" ry="1.2"/><ellipse cx="93.6" cy="679.9" rx="1.3" ry="1.4"/><ellipse cx="56.6" cy="704.3" rx="1.4" ry="1.6"/><ellipse cx="112.3" cy="736.1" rx="0.8" ry="0.9"/><ellipse cx="112.8" cy="691.6" rx="1.3" ry="1.5"/><ellipse cx="120.8" cy="739.9" rx="0.8" ry="0.6"/><ellipse cx="111.4" cy="689.8" rx="0.9" ry="1.0"/><ellipse cx="113.5" cy="705.4" rx="1.0" ry="1.0"/><ellipse cx="127.6" cy="721.3" rx="0.9" ry="0.8"/><ellipse cx="58.3" cy="720.1" rx="1.2" ry="1.0"/><ellipse cx="106.1" cy="719.6" rx="1.1" ry="1.1"/><ellipse cx="77.5" cy="678.8" rx="1.1" ry="1.1"/><ellipse cx="118.4" cy="745.1" rx="1.2" ry="0.9"/><ellipse cx="115.9" cy="706.5" rx="1.4" ry="1.6"/><ellipse cx="50.0" cy="681.4" rx="0.7" ry="0.8"/><ellipse cx="84.5" cy="721.0" rx="0.9" ry="0.9"/><ellipse cx="50.4" cy="692.1" rx="1.2" ry="1.0"/><ellipse cx="52.1" cy="722.7" rx="1.4" ry="1.6"/><ellipse cx="117.9" cy="727.2" rx="0.7" ry="0.5"/><ellipse cx="92.2" cy="714.6" rx="1.3" ry="0.9"/><ellipse cx="95.9" cy="682.8" rx="1.2" ry="0.9"/></g>
</g>
<rect x="43.3" y="678.8" width="83.7" height="67.20000000000005" fill="none" stroke="#000" stroke-width="2"/>
<g clip-path="url(#c21)">
<rect x="130.2" y="677.8" width="85.60000000000002" height="69.20000000000005" fill="#f9fefe"/>
<rect x="130.2" y="677.8" width="85.60000000000002" height="69.20000000000005" filter="url(#f210)"/>
<g fill="#b4e4e2" opacity="0.8"><ellipse cx="171.9" cy="731.2" rx="1.3" ry="1.4"/><ellipse cx="197.2" cy="698.4" rx="1.1" ry="1.1"/><ellipse cx="172.5" cy="719.0" rx="1.0" ry="0.9"/><ellipse cx="195.5" cy="722.6" rx="1.3" ry="1.5"/><ellipse cx="198.7" cy="685.4" rx="1.0" ry="1.0"/><ellipse cx="197.8" cy="740.8" rx="0.8" ry="0.6"/><ellipse cx="204.7" cy="745.3" rx="0.9" ry="0.9"/><ellipse cx="163.2" cy="704.4" rx="1.1" ry="1.1"/><ellipse cx="207.3" cy="703.1" rx="1.0" ry="0.9"/><ellipse cx="214.6" cy="713.6" rx="1.3" ry="1.5"/><ellipse cx="132.7" cy="731.2" rx="0.8" ry="0.7"/><ellipse cx="184.1" cy="683.2" rx="1.0" ry="1.1"/><ellipse cx="160.0" cy="715.1" rx="0.9" ry="0.7"/><ellipse cx="152.0" cy="742.9" rx="1.1" ry="1.1"/><ellipse cx="199.1" cy="735.7" rx="1.2" ry="1.0"/><ellipse cx="176.4" cy="700.1" rx="0.7" ry="0.9"/><ellipse cx="137.1" cy="703.6" rx="1.2" ry="1.0"/><ellipse cx="208.2" cy="679.3" rx="0.8" ry="0.7"/><ellipse cx="184.6" cy="732.7" rx="1.2" ry="1.4"/><ellipse cx="146.1" cy="746.4" rx="0.7" ry="0.7"/><ellipse cx="160.1" cy="679.5" rx="0.8" ry="1.0"/><ellipse cx="213.2" cy="701.6" rx="1.3" ry="1.4"/><ellipse cx="133.0" cy="719.5" rx="0.8" ry="0.7"/><ellipse cx="191.6" cy="692.2" rx="0.9" ry="0.6"/><ellipse cx="157.7" cy="698.8" rx="0.8" ry="0.6"/><ellipse cx="165.0" cy="683.5" rx="1.3" ry="1.0"/><ellipse cx="161.6" cy="682.2" rx="1.2" ry="0.9"/><ellipse cx="136.7" cy="703.5" rx="1.2" ry="1.4"/><ellipse cx="170.1" cy="718.0" rx="0.7" ry="0.9"/><ellipse cx="194.8" cy="694.8" rx="1.2" ry="0.9"/><ellipse cx="171.5" cy="697.6" rx="1.0" ry="0.9"/><ellipse cx="176.7" cy="695.5" rx="0.7" ry="0.5"/><ellipse cx="197.7" cy="708.8" rx="1.0" ry="1.0"/><ellipse cx="152.1" cy="690.8" rx="0.9" ry="1.0"/><ellipse cx="192.9" cy="709.6" rx="1.1" ry="0.9"/><ellipse cx="211.4" cy="722.1" rx="1.2" ry="1.0"/><ellipse cx="179.7" cy="727.0" rx="1.0" ry="1.1"/><ellipse cx="153.5" cy="732.1" rx="0.9" ry="0.9"/><ellipse cx="142.5" cy="705.7" rx="1.2" ry="0.9"/><ellipse cx="146.3" cy="715.3" rx="1.1" ry="1.1"/><ellipse cx="189.0" cy="727.6" rx="1.1" ry="0.8"/><ellipse cx="176.8" cy="697.2" rx="0.7" ry="0.7"/><ellipse cx="213.6" cy="710.1" rx="1.2" ry="1.2"/><ellipse cx="133.4" cy="715.8" rx="1.3" ry="1.3"/><ellipse cx="155.7" cy="740.4" rx="1.1" ry="1.3"/><ellipse cx="202.8" cy="718.2" rx="1.0" ry="0.9"/><ellipse cx="157.5" cy="736.8" rx="0.8" ry="0.9"/><ellipse cx="159.2" cy="708.2" rx="1.1" ry="0.9"/><ellipse cx="182.2" cy="681.6" rx="1.2" ry="0.9"/><ellipse cx="205.0" cy="737.2" rx="1.2" ry="1.3"/><ellipse cx="146.2" cy="717.1" rx="0.7" ry="0.8"/><ellipse cx="197.6" cy="692.4" rx="1.0" ry="0.7"/><ellipse cx="187.3" cy="726.1" rx="0.7" ry="0.7"/><ellipse cx="205.4" cy="690.1" rx="1.2" ry="1.0"/><ellipse cx="131.6" cy="683.6" rx="1.2" ry="0.9"/><ellipse cx="203.8" cy="707.9" rx="0.7" ry="0.8"/><ellipse cx="158.3" cy="686.9" rx="0.7" ry="0.6"/><ellipse cx="169.7" cy="712.1" rx="1.0" ry="0.8"/><ellipse cx="130.4" cy="739.2" rx="1.0" ry="1.0"/><ellipse cx="206.8" cy="718.9" rx="1.1" ry="0.9"/><ellipse cx="148.3" cy="713.3" rx="1.3" ry="1.5"/><ellipse cx="150.0" cy="721.7" rx="0.9" ry="0.8"/><ellipse cx="154.3" cy="746.7" rx="0.9" ry="0.9"/><ellipse cx="137.6" cy="736.5" rx="0.8" ry="0.8"/><ellipse cx="150.7" cy="694.1" rx="0.7" ry="0.6"/><ellipse cx="212.0" cy="702.8" rx="0.9" ry="1.0"/><ellipse cx="149.9" cy="730.2" rx="1.3" ry="1.4"/><ellipse cx="133.7" cy="731.9" rx="1.2" ry="1.3"/><ellipse cx="179.7" cy="685.2" rx="1.1" ry="1.1"/><ellipse cx="171.8" cy="730.9" rx="0.8" ry="0.7"/><ellipse cx="184.3" cy="739.9" rx="1.3" ry="1.5"/><ellipse cx="152.7" cy="707.0" rx="1.0" ry="0.9"/><ellipse cx="137.0" cy="703.1" rx="1.3" ry="1.1"/><ellipse cx="205.5" cy="739.5" rx="1.0" ry="1.2"/><ellipse cx="213.8" cy="678.5" rx="1.1" ry="1.2"/><ellipse cx="156.8" cy="702.9" rx="0.8" ry="0.9"/><ellipse cx="178.4" cy="718.8" rx="1.1" ry="1.2"/><ellipse cx="174.4" cy="715.9" rx="1.0" ry="0.8"/><ellipse cx="213.2" cy="722.5" rx="1.0" ry="0.7"/><ellipse cx="184.9" cy="680.8" rx="1.0" ry="0.8"/><ellipse cx="163.7" cy="693.1" rx="0.8" ry="0.8"/><ellipse cx="140.5" cy="695.2" rx="1.1" ry="0.8"/><ellipse cx="202.6" cy="706.3" rx="0.8" ry="0.9"/><ellipse cx="162.4" cy="703.2" rx="0.7" ry="0.6"/><ellipse cx="210.4" cy="712.0" rx="1.0" ry="1.0"/><ellipse cx="137.9" cy="688.3" rx="1.2" ry="1.2"/><ellipse cx="157.5" cy="737.5" rx="0.9" ry="0.8"/><ellipse cx="197.4" cy="736.8" rx="0.9" ry="1.0"/><ellipse cx="148.2" cy="696.2" rx="1.0" ry="1.0"/><ellipse cx="176.4" cy="710.1" rx="1.2" ry="1.0"/><ellipse cx="167.4" cy="724.6" rx="1.2" ry="1.0"/><ellipse cx="160.6" cy="710.3" rx="0.9" ry="0.8"/><ellipse cx="210.7" cy="694.0" rx="1.2" ry="1.4"/><ellipse cx="172.1" cy="702.1" rx="0.8" ry="0.8"/><ellipse cx="202.5" cy="704.2" rx="0.9" ry="1.0"/><ellipse cx="143.7" cy="716.8" rx="1.2" ry="1.1"/><ellipse cx="155.3" cy="719.2" rx="0.9" ry="0.9"/><ellipse cx="198.3" cy="733.3" rx="1.2" ry="0.9"/><ellipse cx="153.3" cy="724.0" rx="1.1" ry="1.2"/><ellipse cx="167.9" cy="682.0" rx="0.7" ry="0.5"/><ellipse cx="176.3" cy="700.2" rx="0.7" ry="0.8"/><ellipse cx="135.8" cy="701.9" rx="1.2" ry="1.2"/><ellipse cx="148.9" cy="744.4" rx="1.0" ry="1.1"/><ellipse cx="166.3" cy="722.6" rx="1.3" ry="0.9"/><ellipse cx="178.8" cy="718.7" rx="1.3" ry="1.3"/><ellipse cx="152.6" cy="687.4" rx="1.0" ry="0.8"/><ellipse cx="160.2" cy="744.1" rx="0.8" ry="0.6"/><ellipse cx="187.5" cy="712.7" rx="1.2" ry="1.1"/><ellipse cx="195.1" cy="706.5" rx="1.3" ry="1.5"/><ellipse cx="146.8" cy="703.5" rx="1.0" ry="0.9"/><ellipse cx="180.8" cy="725.6" rx="0.8" ry="0.8"/><ellipse cx="200.7" cy="706.2" rx="0.9" ry="0.7"/><ellipse cx="182.2" cy="686.1" rx="0.8" ry="0.7"/><ellipse cx="189.2" cy="729.2" rx="1.0" ry="0.8"/><ellipse cx="160.5" cy="682.0" rx="1.3" ry="1.2"/><ellipse cx="201.9" cy="694.8" rx="0.9" ry="0.7"/><ellipse cx="163.4" cy="725.2" rx="1.0" ry="0.9"/><ellipse cx="141.2" cy="696.6" rx="1.2" ry="0.9"/><ellipse cx="215.1" cy="735.8" rx="0.8" ry="0.6"/><ellipse cx="200.8" cy="680.8" rx="1.1" ry="1.0"/><ellipse cx="165.5" cy="718.1" rx="0.7" ry="0.8"/><ellipse cx="202.2" cy="680.4" rx="0.9" ry="1.0"/><ellipse cx="147.0" cy="687.8" rx="1.2" ry="1.4"/><ellipse cx="214.8" cy="691.2" rx="0.8" ry="0.5"/><ellipse cx="140.3" cy="700.5" rx="1.3" ry="1.4"/><ellipse cx="145.7" cy="705.3" rx="1.0" ry="0.8"/><ellipse cx="135.1" cy="691.0" rx="0.9" ry="0.6"/><ellipse cx="213.6" cy="745.2" rx="1.0" ry="0.9"/><ellipse cx="177.6" cy="735.5" rx="0.9" ry="1.1"/><ellipse cx="212.1" cy="697.0" rx="1.0" ry="1.2"/><ellipse cx="156.2" cy="746.4" rx="1.0" ry="1.0"/><ellipse cx="138.4" cy="705.2" rx="1.1" ry="0.9"/><ellipse cx="213.3" cy="705.3" rx="1.0" ry="1.1"/><ellipse cx="157.0" cy="726.4" rx="1.1" ry="1.2"/><ellipse cx="157.4" cy="701.3" rx="1.0" ry="1.0"/><ellipse cx="170.7" cy="717.0" rx="1.2" ry="0.9"/><ellipse cx="148.4" cy="686.5" rx="1.0" ry="0.8"/><ellipse cx="209.8" cy="692.1" rx="1.0" ry="1.0"/><ellipse cx="154.4" cy="683.3" rx="0.8" ry="0.9"/><ellipse cx="160.1" cy="743.2" rx="0.8" ry="0.7"/><ellipse cx="172.5" cy="700.9" rx="0.9" ry="0.7"/><ellipse cx="173.5" cy="729.6" rx="0.9" ry="1.1"/><ellipse cx="183.5" cy="702.9" rx="0.9" ry="0.8"/><ellipse cx="138.3" cy="710.5" rx="1.0" ry="1.1"/><ellipse cx="136.9" cy="679.9" rx="1.2" ry="1.1"/><ellipse cx="192.2" cy="738.5" rx="0.9" ry="0.7"/><ellipse cx="197.0" cy="698.7" rx="1.0" ry="0.7"/><ellipse cx="180.1" cy="708.3" rx="0.8" ry="0.7"/><ellipse cx="209.5" cy="740.0" rx="0.9" ry="0.8"/><ellipse cx="159.2" cy="701.7" rx="0.9" ry="1.1"/><ellipse cx="131.6" cy="702.9" rx="1.0" ry="1.0"/><ellipse cx="158.7" cy="727.7" rx="1.0" ry="0.7"/><ellipse cx="208.2" cy="692.1" rx="1.1" ry="1.3"/><ellipse cx="144.7" cy="730.1" rx="1.2" ry="1.0"/><ellipse cx="208.7" cy="687.4" rx="1.0" ry="1.2"/><ellipse cx="175.2" cy="738.4" rx="0.9" ry="1.0"/><ellipse cx="171.8" cy="726.9" rx="1.1" ry="1.2"/><ellipse cx="195.2" cy="692.6" rx="1.1" ry="1.2"/><ellipse cx="194.1" cy="690.1" rx="1.0" ry="0.7"/><ellipse cx="213.3" cy="722.7" rx="0.8" ry="0.8"/><ellipse cx="157.0" cy="716.4" rx="1.2" ry="1.3"/><ellipse cx="214.3" cy="723.4" rx="1.0" ry="1.0"/><ellipse cx="143.2" cy="680.1" rx="1.2" ry="1.5"/><ellipse cx="201.2" cy="690.9" rx="1.1" ry="0.9"/><ellipse cx="157.8" cy="732.5" rx="1.3" ry="0.9"/><ellipse cx="196.9" cy="727.0" rx="1.1" ry="0.9"/><ellipse cx="160.2" cy="729.3" rx="0.8" ry="0.6"/><ellipse cx="171.2" cy="689.6" rx="0.9" ry="0.7"/><ellipse cx="148.3" cy="684.9" rx="0.9" ry="0.8"/><ellipse cx="142.2" cy="690.1" rx="0.9" ry="0.7"/><ellipse cx="155.6" cy="680.9" rx="1.1" ry="0.9"/><ellipse cx="170.4" cy="687.2" rx="1.1" ry="1.3"/><ellipse cx="190.5" cy="683.7" rx="0.8" ry="0.6"/><ellipse cx="206.0" cy="683.6" rx="1.2" ry="1.3"/><ellipse cx="201.6" cy="707.3" rx="1.0" ry="0.8"/><ellipse cx="186.1" cy="711.3" rx="1.1" ry="1.0"/><ellipse cx="202.3" cy="719.3" rx="0.9" ry="0.8"/><ellipse cx="150.1" cy="741.2" rx="0.7" ry="0.7"/><ellipse cx="167.0" cy="719.8" rx="0.8" ry="0.8"/><ellipse cx="141.6" cy="697.0" rx="0.9" ry="0.7"/><ellipse cx="215.7" cy="682.0" rx="1.2" ry="1.3"/><ellipse cx="209.8" cy="718.8" rx="1.0" ry="0.9"/><ellipse cx="177.2" cy="700.6" rx="0.8" ry="0.8"/><ellipse cx="198.1" cy="745.4" rx="1.2" ry="1.2"/><ellipse cx="147.7" cy="716.5" rx="0.8" ry="0.9"/><ellipse cx="194.9" cy="703.8" rx="0.9" ry="1.0"/><ellipse cx="167.5" cy="683.2" rx="1.1" ry="1.0"/><ellipse cx="140.2" cy="737.0" rx="0.8" ry="0.7"/><ellipse cx="175.5" cy="695.0" rx="0.9" ry="0.8"/><ellipse cx="209.8" cy="718.7" rx="1.0" ry="1.1"/><ellipse cx="209.6" cy="741.2" rx="0.7" ry="0.8"/><ellipse cx="196.6" cy="727.1" rx="1.1" ry="1.2"/><ellipse cx="147.9" cy="742.2" rx="1.2" ry="1.0"/><ellipse cx="175.8" cy="690.8" rx="0.8" ry="0.9"/><ellipse cx="142.2" cy="678.4" rx="1.1" ry="1.1"/><ellipse cx="207.9" cy="679.7" rx="0.9" ry="0.7"/><ellipse cx="208.5" cy="733.5" rx="0.8" ry="0.7"/><ellipse cx="189.2" cy="720.7" rx="1.0" ry="1.0"/><ellipse cx="148.2" cy="682.1" rx="0.8" ry="0.8"/><ellipse cx="142.5" cy="739.0" rx="0.9" ry="0.6"/><ellipse cx="185.5" cy="723.8" rx="1.1" ry="1.1"/><ellipse cx="208.6" cy="724.6" rx="1.3" ry="1.4"/><ellipse cx="153.6" cy="707.6" rx="0.8" ry="0.8"/><ellipse cx="163.4" cy="709.7" rx="0.9" ry="0.7"/><ellipse cx="180.7" cy="728.0" rx="0.9" ry="0.7"/><ellipse cx="182.8" cy="720.9" rx="1.0" ry="1.1"/><ellipse cx="210.8" cy="730.6" rx="1.1" ry="1.2"/><ellipse cx="178.4" cy="713.6" rx="0.8" ry="0.7"/><ellipse cx="161.3" cy="696.2" rx="0.9" ry="0.7"/><ellipse cx="139.1" cy="716.3" rx="1.0" ry="1.1"/><ellipse cx="192.3" cy="742.1" rx="1.2" ry="0.9"/><ellipse cx="186.5" cy="741.9" rx="0.7" ry="0.6"/><ellipse cx="132.0" cy="690.2" rx="1.3" ry="1.4"/><ellipse cx="142.4" cy="678.1" rx="0.8" ry="0.9"/><ellipse cx="157.8" cy="717.2" rx="0.9" ry="0.8"/><ellipse cx="184.6" cy="742.9" rx="0.7" ry="0.7"/><ellipse cx="191.3" cy="732.3" rx="1.1" ry="0.9"/><ellipse cx="132.5" cy="693.6" rx="1.0" ry="1.2"/><ellipse cx="180.6" cy="719.1" rx="0.9" ry="1.0"/><ellipse cx="213.2" cy="710.6" rx="1.1" ry="1.0"/><ellipse cx="151.9" cy="740.6" rx="0.7" ry="0.7"/><ellipse cx="209.3" cy="717.4" rx="0.9" ry="0.8"/><ellipse cx="162.1" cy="729.6" rx="1.1" ry="1.1"/><ellipse cx="211.5" cy="703.3" rx="0.9" ry="0.9"/><ellipse cx="209.8" cy="726.7" rx="1.2" ry="1.4"/><ellipse cx="132.1" cy="721.9" rx="0.8" ry="0.9"/><ellipse cx="197.6" cy="733.5" rx="0.8" ry="0.7"/><ellipse cx="143.7" cy="735.1" rx="1.1" ry="1.1"/><ellipse cx="177.2" cy="728.8" rx="1.0" ry="0.8"/><ellipse cx="211.9" cy="731.3" rx="1.0" ry="1.0"/></g>
<g fill="#91c3c6" opacity="0.8"><ellipse cx="147.9" cy="694.0" rx="0.5" ry="0.5"/><ellipse cx="199.8" cy="695.9" rx="0.6" ry="0.5"/><ellipse cx="154.5" cy="730.2" rx="0.6" ry="0.5"/><ellipse cx="164.9" cy="737.3" rx="0.8" ry="0.6"/><ellipse cx="142.2" cy="681.4" rx="0.8" ry="0.8"/><ellipse cx="144.4" cy="697.3" rx="0.8" ry="0.6"/><ellipse cx="192.8" cy="735.1" rx="0.8" ry="0.7"/><ellipse cx="193.5" cy="741.6" rx="0.7" ry="0.7"/><ellipse cx="181.6" cy="742.1" rx="0.9" ry="0.9"/><ellipse cx="172.0" cy="686.4" rx="0.7" ry="0.6"/><ellipse cx="188.4" cy="711.4" rx="0.6" ry="0.5"/><ellipse cx="194.3" cy="717.3" rx="0.8" ry="0.6"/><ellipse cx="168.4" cy="685.9" rx="0.6" ry="0.5"/><ellipse cx="153.7" cy="743.8" rx="0.5" ry="0.5"/><ellipse cx="138.1" cy="739.1" rx="0.5" ry="0.6"/><ellipse cx="157.2" cy="702.6" rx="0.5" ry="0.5"/><ellipse cx="136.4" cy="724.0" rx="0.7" ry="0.6"/><ellipse cx="185.8" cy="726.9" rx="0.5" ry="0.6"/><ellipse cx="205.1" cy="733.1" rx="0.9" ry="0.8"/><ellipse cx="141.2" cy="707.7" rx="0.9" ry="0.9"/><ellipse cx="139.5" cy="729.7" rx="0.8" ry="0.8"/><ellipse cx="185.7" cy="738.1" rx="0.7" ry="0.7"/><ellipse cx="179.0" cy="732.2" rx="0.8" ry="0.6"/><ellipse cx="146.3" cy="718.4" rx="0.6" ry="0.5"/><ellipse cx="130.2" cy="708.5" rx="0.9" ry="0.8"/><ellipse cx="148.6" cy="703.6" rx="0.7" ry="0.5"/><ellipse cx="144.8" cy="714.1" rx="0.6" ry="0.7"/><ellipse cx="141.3" cy="682.1" rx="0.9" ry="0.9"/><ellipse cx="185.3" cy="719.5" rx="0.6" ry="0.4"/><ellipse cx="168.3" cy="725.1" rx="0.7" ry="0.7"/><ellipse cx="137.0" cy="743.4" rx="0.6" ry="0.5"/><ellipse cx="199.1" cy="743.3" rx="0.6" ry="0.6"/><ellipse cx="202.1" cy="711.6" rx="0.5" ry="0.4"/><ellipse cx="159.1" cy="678.0" rx="0.5" ry="0.6"/><ellipse cx="201.6" cy="735.1" rx="0.6" ry="0.5"/><ellipse cx="210.5" cy="681.4" rx="0.7" ry="0.6"/><ellipse cx="193.8" cy="725.2" rx="0.9" ry="1.1"/><ellipse cx="182.2" cy="741.3" rx="0.7" ry="0.6"/><ellipse cx="173.7" cy="696.4" rx="0.9" ry="1.0"/><ellipse cx="138.9" cy="722.7" rx="0.8" ry="0.8"/><ellipse cx="142.7" cy="718.1" rx="0.5" ry="0.5"/><ellipse cx="161.1" cy="702.4" rx="0.7" ry="0.6"/><ellipse cx="139.7" cy="714.3" rx="0.5" ry="0.6"/><ellipse cx="133.3" cy="711.3" rx="0.5" ry="0.5"/><ellipse cx="210.9" cy="729.4" rx="0.7" ry="0.6"/><ellipse cx="194.9" cy="683.1" rx="0.6" ry="0.6"/><ellipse cx="145.0" cy="709.5" rx="0.6" ry="0.5"/><ellipse cx="180.6" cy="708.0" rx="0.6" ry="0.5"/><ellipse cx="149.5" cy="717.2" rx="0.6" ry="0.7"/><ellipse cx="181.4" cy="678.0" rx="0.6" ry="0.7"/><ellipse cx="159.1" cy="731.1" rx="0.8" ry="1.0"/><ellipse cx="194.5" cy="707.3" rx="0.7" ry="0.5"/><ellipse cx="155.4" cy="695.9" rx="0.8" ry="0.9"/><ellipse cx="184.2" cy="730.6" rx="0.7" ry="0.7"/><ellipse cx="160.7" cy="678.8" rx="0.7" ry="0.8"/><ellipse cx="172.8" cy="740.3" rx="0.7" ry="0.5"/><ellipse cx="143.8" cy="707.6" rx="0.6" ry="0.5"/><ellipse cx="157.0" cy="743.8" rx="0.8" ry="0.7"/><ellipse cx="150.3" cy="712.2" rx="0.6" ry="0.6"/><ellipse cx="154.2" cy="720.8" rx="0.8" ry="0.7"/></g>
</g>
<rect x="131.2" y="678.8" width="83.60000000000002" height="67.20000000000005" fill="none" stroke="#000" stroke-width="2"/>
<g clip-path="url(#c22)">
<rect x="218.8" y="677.8" width="85.30000000000001" height="69.20000000000005" fill="#ccf0e6"/>
<rect x="218.8" y="677.8" width="85.30000000000001" height="69.20000000000005" filter="url(#f220)"/>
<g fill="#78a5a2" opacity="0.8"><ellipse cx="237.7" cy="717.0" rx="0.9" ry="1.0"/><ellipse cx="288.1" cy="709.7" rx="0.8" ry="0.9"/><ellipse cx="267.9" cy="686.2" rx="0.8" ry="0.6"/><ellipse cx="276.0" cy="731.8" rx="0.9" ry="0.7"/><ellipse cx="253.4" cy="679.0" rx="0.9" ry="1.0"/><ellipse cx="235.9" cy="727.3" rx="0.6" ry="0.5"/><ellipse cx="297.8" cy="692.8" rx="0.9" ry="1.1"/><ellipse cx="284.2" cy="709.3" rx="0.8" ry="0.7"/><ellipse cx="232.0" cy="732.1" rx="0.9" ry="0.9"/><ellipse cx="259.7" cy="694.1" rx="0.7" ry="0.6"/><ellipse cx="280.2" cy="712.4" rx="0.8" ry="0.9"/><ellipse cx="249.9" cy="702.4" rx="0.7" ry="0.6"/><ellipse cx="240.0" cy="713.2" rx="0.8" ry="0.8"/><ellipse cx="290.1" cy="702.1" rx="0.9" ry="0.9"/><ellipse cx="299.6" cy="719.1" rx="1.1" ry="0.9"/><ellipse cx="235.3" cy="692.2" rx="1.0" ry="0.8"/><ellipse cx="243.6" cy="736.5" rx="0.6" ry="0.7"/><ellipse cx="252.3" cy="693.2" rx="1.1" ry="1.2"/><ellipse cx="236.9" cy="686.9" rx="0.9" ry="0.6"/><ellipse cx="299.5" cy="700.5" rx="0.8" ry="0.6"/><ellipse cx="260.5" cy="716.6" rx="0.7" ry="0.7"/><ellipse cx="262.6" cy="734.6" rx="1.1" ry="1.2"/><ellipse cx="256.2" cy="701.8" rx="0.9" ry="0.8"/><ellipse cx="257.6" cy="694.9" rx="0.7" ry="0.5"/><ellipse cx="272.9" cy="740.9" rx="1.1" ry="0.9"/><ellipse cx="236.3" cy="683.8" rx="0.7" ry="0.7"/><ellipse cx="248.3" cy="703.3" rx="0.7" ry="0.7"/><ellipse cx="235.1" cy="743.8" rx="0.6" ry="0.7"/><ellipse cx="253.8" cy="708.5" rx="0.9" ry="0.7"/><ellipse cx="297.0" cy="713.7" rx="0.9" ry="1.0"/><ellipse cx="275.2" cy="735.8" rx="0.7" ry="0.6"/><ellipse cx="236.9" cy="713.2" rx="0.7" ry="0.8"/><ellipse cx="236.7" cy="704.7" rx="0.8" ry="0.7"/><ellipse cx="279.3" cy="711.9" rx="1.0" ry="0.9"/><ellipse cx="290.1" cy="735.5" rx="0.8" ry="0.9"/><ellipse cx="297.9" cy="693.3" rx="0.9" ry="1.0"/><ellipse cx="238.3" cy="737.9" rx="0.8" ry="0.8"/><ellipse cx="251.0" cy="743.1" rx="1.0" ry="0.9"/><ellipse cx="219.9" cy="720.6" rx="0.9" ry="0.7"/><ellipse cx="296.9" cy="706.8" rx="0.9" ry="0.7"/><ellipse cx="281.2" cy="714.8" rx="0.7" ry="0.8"/><ellipse cx="242.5" cy="687.3" rx="1.0" ry="0.9"/><ellipse cx="287.5" cy="707.2" rx="0.9" ry="0.9"/><ellipse cx="293.4" cy="689.1" rx="0.7" ry="0.6"/><ellipse cx="231.9" cy="732.8" rx="0.8" ry="0.7"/><ellipse cx="226.1" cy="696.7" rx="0.8" ry="0.7"/><ellipse cx="236.8" cy="697.3" rx="1.0" ry="0.7"/><ellipse cx="261.9" cy="722.7" rx="0.6" ry="0.7"/><ellipse cx="283.4" cy="694.7" rx="0.6" ry="0.5"/><ellipse cx="293.4" cy="680.7" rx="0.9" ry="0.9"/><ellipse cx="274.9" cy="708.9" rx="0.8" ry="0.8"/><ellipse cx="283.4" cy="684.8" rx="0.7" ry="0.7"/><ellipse cx="254.3" cy="720.1" rx="0.8" ry="0.9"/><ellipse cx="237.1" cy="741.6" rx="0.6" ry="0.7"/><ellipse cx="227.5" cy="697.8" rx="0.8" ry="0.9"/><ellipse cx="230.1" cy="713.0" rx="1.0" ry="0.9"/><ellipse cx="280.4" cy="746.9" rx="1.0" ry="0.8"/><ellipse cx="246.6" cy="715.8" rx="1.0" ry="1.2"/><ellipse cx="291.1" cy="731.8" rx="0.9" ry="1.0"/><ellipse cx="293.1" cy="733.2" rx="0.7" ry="0.6"/><ellipse cx="253.5" cy="744.5" rx="0.8" ry="0.8"/><ellipse cx="243.9" cy="726.8" rx="1.0" ry="1.2"/><ellipse cx="267.5" cy="719.0" rx="0.7" ry="0.8"/><ellipse cx="236.8" cy="686.5" rx="1.0" ry="1.0"/><ellipse cx="258.2" cy="691.0" rx="1.1" ry="1.1"/><ellipse cx="292.5" cy="704.8" rx="0.8" ry="0.8"/><ellipse cx="226.6" cy="679.2" rx="0.9" ry="0.8"/><ellipse cx="290.6" cy="730.6" rx="0.9" ry="0.9"/><ellipse cx="239.4" cy="718.1" rx="0.9" ry="0.8"/><ellipse cx="258.5" cy="682.6" rx="0.9" ry="0.9"/><ellipse cx="237.4" cy="726.9" rx="1.0" ry="0.8"/><ellipse cx="219.4" cy="718.2" rx="1.1" ry="0.8"/><ellipse cx="287.3" cy="719.7" rx="1.0" ry="0.7"/><ellipse cx="252.6" cy="680.8" rx="1.1" ry="1.3"/><ellipse cx="279.5" cy="718.9" rx="1.0" ry="0.8"/><ellipse cx="302.8" cy="704.5" rx="0.8" ry="0.6"/><ellipse cx="225.7" cy="741.9" rx="0.7" ry="0.7"/><ellipse cx="280.7" cy="728.3" rx="0.8" ry="0.9"/><ellipse cx="290.0" cy="691.9" rx="0.8" ry="0.8"/><ellipse cx="277.9" cy="717.1" rx="0.6" ry="0.5"/><ellipse cx="249.3" cy="737.7" rx="0.9" ry="0.8"/><ellipse cx="267.1" cy="698.3" rx="1.1" ry="1.1"/><ellipse cx="293.8" cy="704.9" rx="0.7" ry="0.7"/><ellipse cx="234.2" cy="736.8" rx="1.0" ry="1.1"/><ellipse cx="267.6" cy="722.3" rx="0.6" ry="0.5"/><ellipse cx="229.0" cy="682.2" rx="0.9" ry="0.6"/><ellipse cx="261.0" cy="688.6" rx="0.7" ry="0.8"/><ellipse cx="303.0" cy="721.5" rx="0.9" ry="0.7"/><ellipse cx="255.0" cy="739.4" rx="0.6" ry="0.6"/><ellipse cx="239.5" cy="693.2" rx="0.7" ry="0.7"/><ellipse cx="247.7" cy="746.0" rx="0.8" ry="0.8"/><ellipse cx="249.9" cy="731.1" rx="0.6" ry="0.8"/><ellipse cx="239.9" cy="729.0" rx="0.8" ry="0.5"/><ellipse cx="264.7" cy="686.5" rx="1.0" ry="0.8"/><ellipse cx="223.0" cy="715.1" rx="0.9" ry="0.9"/><ellipse cx="279.7" cy="681.3" rx="1.1" ry="1.2"/><ellipse cx="282.5" cy="678.2" rx="0.7" ry="0.6"/><ellipse cx="294.1" cy="696.5" rx="0.8" ry="0.6"/><ellipse cx="281.2" cy="686.2" rx="0.8" ry="0.9"/><ellipse cx="249.7" cy="693.5" rx="0.9" ry="0.7"/><ellipse cx="280.8" cy="734.1" rx="0.7" ry="0.5"/><ellipse cx="250.6" cy="678.6" rx="1.0" ry="1.2"/><ellipse cx="269.4" cy="714.0" rx="0.9" ry="0.8"/><ellipse cx="264.9" cy="720.3" rx="1.0" ry="0.9"/><ellipse cx="231.3" cy="708.6" rx="0.6" ry="0.5"/><ellipse cx="262.3" cy="737.0" rx="0.9" ry="1.1"/><ellipse cx="285.8" cy="746.0" rx="1.0" ry="0.9"/><ellipse cx="234.1" cy="726.1" rx="1.0" ry="0.9"/><ellipse cx="288.8" cy="722.4" rx="1.0" ry="0.7"/><ellipse cx="290.4" cy="738.6" rx="0.7" ry="0.8"/><ellipse cx="241.3" cy="736.6" rx="1.0" ry="1.1"/><ellipse cx="226.9" cy="691.3" rx="0.9" ry="0.7"/><ellipse cx="251.2" cy="744.2" rx="1.1" ry="0.8"/><ellipse cx="233.1" cy="731.7" rx="0.9" ry="0.6"/><ellipse cx="300.7" cy="690.5" rx="0.6" ry="0.7"/><ellipse cx="289.3" cy="684.8" rx="0.9" ry="1.0"/><ellipse cx="303.8" cy="740.7" rx="1.0" ry="1.2"/><ellipse cx="252.8" cy="727.0" rx="1.0" ry="1.1"/><ellipse cx="269.7" cy="735.9" rx="1.0" ry="1.1"/><ellipse cx="296.1" cy="738.2" rx="0.7" ry="0.6"/><ellipse cx="261.0" cy="678.1" rx="0.7" ry="0.8"/><ellipse cx="302.0" cy="711.8" rx="0.9" ry="0.6"/><ellipse cx="264.6" cy="742.3" rx="0.8" ry="0.8"/><ellipse cx="288.5" cy="709.3" rx="0.8" ry="0.9"/><ellipse cx="233.9" cy="701.2" rx="0.7" ry="0.5"/><ellipse cx="239.6" cy="735.3" rx="1.0" ry="0.9"/><ellipse cx="228.5" cy="713.3" rx="0.7" ry="0.8"/><ellipse cx="291.9" cy="702.8" rx="0.8" ry="0.9"/><ellipse cx="291.9" cy="725.8" rx="0.8" ry="0.9"/><ellipse cx="224.2" cy="746.2" rx="1.0" ry="0.7"/><ellipse cx="233.3" cy="732.9" rx="1.1" ry="0.8"/><ellipse cx="271.6" cy="737.1" rx="0.9" ry="1.1"/><ellipse cx="293.7" cy="690.0" rx="0.6" ry="0.7"/><ellipse cx="239.8" cy="738.4" rx="1.1" ry="1.0"/><ellipse cx="284.2" cy="692.4" rx="0.9" ry="0.7"/><ellipse cx="272.3" cy="687.6" rx="0.8" ry="0.6"/><ellipse cx="302.2" cy="720.4" rx="0.8" ry="0.6"/><ellipse cx="285.6" cy="711.8" rx="0.9" ry="0.6"/><ellipse cx="250.0" cy="710.1" rx="1.0" ry="0.8"/><ellipse cx="223.0" cy="715.0" rx="0.7" ry="0.5"/><ellipse cx="228.0" cy="711.0" rx="0.8" ry="0.7"/><ellipse cx="278.9" cy="681.3" rx="0.7" ry="0.7"/><ellipse cx="239.6" cy="744.7" rx="0.8" ry="0.7"/><ellipse cx="299.9" cy="713.8" rx="0.7" ry="0.7"/><ellipse cx="303.3" cy="735.3" rx="0.8" ry="0.6"/><ellipse cx="297.7" cy="698.5" rx="0.6" ry="0.6"/><ellipse cx="283.9" cy="703.5" rx="1.0" ry="1.2"/><ellipse cx="276.1" cy="738.8" rx="0.9" ry="0.7"/><ellipse cx="276.6" cy="695.5" rx="1.0" ry="1.2"/><ellipse cx="258.5" cy="726.6" rx="0.6" ry="0.6"/><ellipse cx="275.1" cy="741.4" rx="0.6" ry="0.5"/><ellipse cx="283.7" cy="720.2" rx="0.8" ry="1.0"/><ellipse cx="224.8" cy="738.0" rx="0.7" ry="0.5"/><ellipse cx="274.9" cy="681.4" rx="1.0" ry="0.8"/><ellipse cx="286.7" cy="719.3" rx="0.7" ry="0.8"/><ellipse cx="297.1" cy="732.5" rx="0.6" ry="0.6"/><ellipse cx="224.5" cy="708.9" rx="0.7" ry="0.7"/><ellipse cx="292.8" cy="729.4" rx="1.0" ry="0.7"/><ellipse cx="260.2" cy="706.6" rx="1.0" ry="1.1"/><ellipse cx="219.4" cy="737.5" rx="0.8" ry="0.5"/><ellipse cx="271.6" cy="714.8" rx="1.1" ry="1.2"/><ellipse cx="258.8" cy="731.8" rx="1.0" ry="1.0"/><ellipse cx="245.9" cy="723.0" rx="1.0" ry="1.1"/><ellipse cx="271.6" cy="689.1" rx="1.0" ry="1.0"/><ellipse cx="280.5" cy="709.6" rx="0.6" ry="0.5"/><ellipse cx="269.3" cy="688.6" rx="0.8" ry="0.7"/><ellipse cx="231.0" cy="697.3" rx="0.8" ry="1.0"/><ellipse cx="280.1" cy="684.9" rx="0.8" ry="0.9"/><ellipse cx="218.8" cy="726.8" rx="1.0" ry="0.8"/><ellipse cx="220.0" cy="699.2" rx="0.8" ry="0.8"/><ellipse cx="225.3" cy="689.3" rx="1.0" ry="0.7"/><ellipse cx="269.5" cy="703.5" rx="0.8" ry="0.7"/><ellipse cx="247.9" cy="732.8" rx="1.1" ry="1.0"/><ellipse cx="277.2" cy="736.2" rx="0.7" ry="0.6"/><ellipse cx="221.1" cy="730.1" rx="1.0" ry="0.8"/><ellipse cx="254.9" cy="720.8" rx="0.9" ry="0.6"/><ellipse cx="253.7" cy="701.2" rx="0.9" ry="1.0"/><ellipse cx="225.5" cy="715.2" rx="0.8" ry="0.7"/><ellipse cx="235.2" cy="709.0" rx="0.7" ry="0.7"/><ellipse cx="243.9" cy="738.1" rx="0.7" ry="0.6"/><ellipse cx="234.8" cy="728.1" rx="1.0" ry="1.2"/><ellipse cx="262.8" cy="721.9" rx="0.8" ry="0.8"/><ellipse cx="228.4" cy="738.2" rx="0.8" ry="0.8"/><ellipse cx="227.6" cy="713.3" rx="0.7" ry="0.8"/><ellipse cx="225.1" cy="702.3" rx="0.6" ry="0.5"/><ellipse cx="261.6" cy="682.5" rx="0.9" ry="0.9"/><ellipse cx="284.1" cy="701.4" rx="0.9" ry="0.8"/><ellipse cx="277.5" cy="746.1" rx="0.7" ry="0.7"/><ellipse cx="286.8" cy="695.0" rx="0.6" ry="0.6"/><ellipse cx="262.3" cy="720.1" rx="1.0" ry="0.8"/><ellipse cx="287.6" cy="727.1" rx="0.7" ry="0.6"/><ellipse cx="257.4" cy="737.2" rx="1.0" ry="1.0"/><ellipse cx="263.9" cy="712.0" rx="1.0" ry="0.7"/><ellipse cx="279.2" cy="713.5" rx="0.9" ry="1.0"/><ellipse cx="228.0" cy="713.2" rx="1.1" ry="0.9"/><ellipse cx="271.4" cy="697.0" rx="1.0" ry="1.0"/><ellipse cx="230.7" cy="687.4" rx="0.8" ry="0.7"/><ellipse cx="286.8" cy="743.0" rx="0.9" ry="0.7"/><ellipse cx="258.0" cy="743.1" rx="0.6" ry="0.6"/><ellipse cx="241.5" cy="722.5" rx="0.7" ry="0.5"/><ellipse cx="234.7" cy="714.1" rx="0.8" ry="0.9"/><ellipse cx="236.9" cy="722.8" rx="1.1" ry="0.8"/><ellipse cx="260.7" cy="692.2" rx="0.8" ry="0.7"/><ellipse cx="283.5" cy="695.6" rx="1.1" ry="0.9"/><ellipse cx="243.9" cy="722.0" rx="0.7" ry="0.5"/><ellipse cx="247.3" cy="723.7" rx="1.0" ry="1.0"/><ellipse cx="243.2" cy="716.8" rx="1.1" ry="1.0"/><ellipse cx="228.5" cy="680.5" rx="0.8" ry="1.0"/><ellipse cx="299.1" cy="725.9" rx="0.7" ry="0.6"/><ellipse cx="236.9" cy="708.2" rx="1.0" ry="0.7"/><ellipse cx="263.2" cy="692.7" rx="0.9" ry="1.0"/><ellipse cx="284.1" cy="701.8" rx="1.0" ry="0.7"/><ellipse cx="244.0" cy="688.0" rx="0.9" ry="0.9"/><ellipse cx="270.2" cy="681.7" rx="0.7" ry="0.7"/><ellipse cx="274.1" cy="741.5" rx="0.8" ry="0.8"/><ellipse cx="255.4" cy="738.5" rx="0.7" ry="0.7"/><ellipse cx="286.0" cy="703.6" rx="0.8" ry="0.6"/><ellipse cx="300.8" cy="712.5" rx="0.8" ry="0.7"/><ellipse cx="253.8" cy="702.1" rx="0.7" ry="0.6"/><ellipse cx="249.0" cy="722.2" rx="0.6" ry="0.8"/></g>
</g>
<rect x="219.8" y="678.8" width="83.30000000000001" height="67.20000000000005" fill="none" stroke="#000" stroke-width="2"/>
<g clip-path="url(#c23)">
<rect x="306.8" y="677.8" width="85.39999999999998" height="69.20000000000005" fill="#91e1ee"/>
<rect x="306.8" y="677.8" width="85.39999999999998" height="69.20000000000005" filter="url(#f230)"/>
<rect x="306.8" y="677.8" width="85.39999999999998" height="69.20000000000005" filter="url(#f231)"/>
<g fill="#5ac3e1" opacity="0.5"><ellipse cx="378.8" cy="678.5" rx="0.7" ry="0.7"/><ellipse cx="310.3" cy="739.4" rx="0.9" ry="0.7"/><ellipse cx="334.4" cy="744.8" rx="0.6" ry="0.7"/><ellipse cx="375.3" cy="678.1" rx="0.7" ry="0.6"/><ellipse cx="377.2" cy="683.3" rx="0.8" ry="0.5"/><ellipse cx="358.6" cy="710.7" rx="0.9" ry="1.0"/><ellipse cx="377.0" cy="726.2" rx="0.7" ry="0.6"/><ellipse cx="343.0" cy="729.2" rx="0.9" ry="0.9"/><ellipse cx="319.4" cy="716.0" rx="0.7" ry="0.8"/><ellipse cx="334.2" cy="705.2" rx="0.8" ry="0.8"/><ellipse cx="349.0" cy="719.4" rx="0.6" ry="0.4"/><ellipse cx="344.0" cy="714.5" rx="0.8" ry="0.7"/><ellipse cx="335.4" cy="744.1" rx="0.9" ry="0.7"/><ellipse cx="379.8" cy="701.4" rx="0.5" ry="0.6"/><ellipse cx="351.8" cy="742.3" rx="0.7" ry="0.5"/><ellipse cx="340.3" cy="726.0" rx="0.6" ry="0.6"/><ellipse cx="326.3" cy="724.1" rx="0.5" ry="0.5"/><ellipse cx="324.3" cy="704.6" rx="0.9" ry="0.7"/><ellipse cx="313.2" cy="744.9" rx="0.8" ry="0.8"/><ellipse cx="351.7" cy="709.6" rx="0.8" ry="0.8"/><ellipse cx="318.5" cy="702.5" rx="0.7" ry="0.5"/><ellipse cx="316.1" cy="722.4" rx="0.9" ry="1.0"/><ellipse cx="333.9" cy="701.1" rx="0.9" ry="1.0"/><ellipse cx="357.7" cy="683.3" rx="0.6" ry="0.6"/><ellipse cx="338.2" cy="723.6" rx="0.6" ry="0.6"/><ellipse cx="350.7" cy="685.4" rx="0.6" ry="0.5"/><ellipse cx="340.4" cy="715.2" rx="0.9" ry="0.7"/><ellipse cx="323.4" cy="714.5" rx="0.6" ry="0.4"/><ellipse cx="350.0" cy="706.3" rx="0.8" ry="0.7"/><ellipse cx="313.1" cy="708.3" rx="0.5" ry="0.4"/><ellipse cx="380.1" cy="740.6" rx="0.9" ry="0.9"/><ellipse cx="359.2" cy="712.7" rx="0.7" ry="0.6"/><ellipse cx="381.3" cy="709.9" rx="0.9" ry="0.8"/><ellipse cx="328.1" cy="722.0" rx="0.8" ry="0.7"/><ellipse cx="325.6" cy="683.6" rx="0.8" ry="0.6"/><ellipse cx="379.1" cy="709.6" rx="0.8" ry="0.7"/><ellipse cx="384.3" cy="694.5" rx="0.9" ry="0.7"/><ellipse cx="369.7" cy="698.5" rx="0.9" ry="0.9"/><ellipse cx="369.5" cy="715.6" rx="0.8" ry="0.7"/><ellipse cx="339.1" cy="723.7" rx="0.5" ry="0.4"/><ellipse cx="323.6" cy="690.0" rx="0.6" ry="0.4"/><ellipse cx="354.3" cy="706.9" rx="0.8" ry="0.9"/><ellipse cx="357.8" cy="723.3" rx="0.9" ry="1.0"/><ellipse cx="344.6" cy="737.6" rx="0.7" ry="0.6"/><ellipse cx="328.5" cy="729.3" rx="0.6" ry="0.5"/><ellipse cx="344.7" cy="678.9" rx="0.8" ry="0.6"/><ellipse cx="318.2" cy="739.9" rx="0.8" ry="0.6"/><ellipse cx="325.6" cy="706.4" rx="0.5" ry="0.4"/><ellipse cx="336.3" cy="745.7" rx="0.5" ry="0.5"/><ellipse cx="324.9" cy="721.1" rx="0.5" ry="0.5"/><ellipse cx="385.7" cy="682.1" rx="0.9" ry="1.0"/><ellipse cx="333.2" cy="711.3" rx="0.5" ry="0.4"/><ellipse cx="311.7" cy="701.6" rx="0.6" ry="0.4"/><ellipse cx="312.2" cy="690.6" rx="0.5" ry="0.4"/><ellipse cx="378.3" cy="707.2" rx="0.5" ry="0.6"/><ellipse cx="321.5" cy="693.3" rx="0.5" ry="0.6"/><ellipse cx="345.0" cy="717.9" rx="0.7" ry="0.8"/><ellipse cx="383.8" cy="733.2" rx="0.7" ry="0.7"/><ellipse cx="325.3" cy="737.5" rx="0.7" ry="0.5"/><ellipse cx="335.0" cy="743.4" rx="0.6" ry="0.5"/><ellipse cx="391.0" cy="707.4" rx="0.7" ry="0.6"/><ellipse cx="329.0" cy="700.1" rx="0.9" ry="0.8"/><ellipse cx="367.6" cy="720.3" rx="0.6" ry="0.7"/><ellipse cx="385.2" cy="687.4" rx="0.5" ry="0.6"/><ellipse cx="319.7" cy="737.8" rx="0.7" ry="0.7"/><ellipse cx="330.3" cy="716.2" rx="0.6" ry="0.4"/><ellipse cx="352.5" cy="738.2" rx="0.8" ry="0.7"/><ellipse cx="379.3" cy="681.1" rx="0.6" ry="0.5"/><ellipse cx="308.7" cy="684.0" rx="0.8" ry="0.8"/><ellipse cx="362.7" cy="690.5" rx="0.9" ry="1.0"/></g>
</g>
<rect x="307.8" y="678.8" width="83.39999999999998" height="67.20000000000005" fill="none" stroke="#000" stroke-width="2"/>
<defs><filter id="sb" x="-20%" y="-20%" width="140%" height="140%"><feGaussianBlur stdDeviation="0.6"/></filter><clipPath id="c00"><rect x="42.3" y="536" width="85.7" height="69"/></clipPath><filter id="f000" x="0" y="0" width="1" height="1" color-interpolation-filters="sRGB"><feTurbulence type="fractalNoise" baseFrequency="0.25" numOctaves="2" seed="1"/><feColorMatrix type="matrix" values="0 0 0 0 0.596 0 0 0 0 0.627 0 0 0 0 0.933 4 0 0 0 -1.8"/></filter><filter id="f001" x="0" y="0" width="1" height="1" color-interpolation-filters="sRGB"><feTurbulence type="fractalNoise" baseFrequency="0.13" numOctaves="2" seed="2"/><feColorMatrix type="matrix" values="0 0 0 0 0.839 0 0 0 0 0.863 0 0 0 0 0.973 5 0 0 0 -2.2"/></filter><clipPath id="c01"><rect x="130.2" y="536" width="85.60000000000002" height="69"/></clipPath><filter id="f010" x="0" y="0" width="1" height="1" color-interpolation-filters="sRGB"><feTurbulence type="fractalNoise" baseFrequency="0.12" numOctaves="2" seed="3"/><feColorMatrix type="matrix" values="0 0 0 0 0.882 0 0 0 0 0.965 0 0 0 0 0.961 5 0 0 0 -2.6"/></filter><clipPath id="c02"><rect x="218.8" y="536" width="85.30000000000001" height="69"/></clipPath><filter id="f020" x="0" y="0" width="1" height="1" color-interpolation-filters="sRGB"><feTurbulence type="fractalNoise" baseFrequency="0.05" numOctaves="2" seed="4"/><feColorMatrix type="matrix" values="0 0 0 0 0.910 0 0 0 0 0.984 0 0 0 0 0.988 5 0 0 0 -2.5"/></filter><filter id="f021" x="0" y="0" width="1" height="1" color-interpolation-filters="sRGB"><feTurbulence type="fractalNoise" baseFrequency="0.04" numOctaves="2" seed="5"/><feColorMatrix type="matrix" values="0 0 0 0 0.725 0 0 0 0 0.894 0 0 0 0 0.933 5 0 0 0 -2.6"/></filter><clipPath id="c03"><rect x="306.8" y="536" width="85.39999999999998" height="69"/></clipPath><filter id="f030" x="0" y="0" width="1" height="1" color-interpolation-filters="sRGB"><feTurbulence type="fractalNoise" baseFrequency="0.22" numOctaves="2" seed="6"/><feColorMatrix type="matrix" values="0 0 0 0 0.925 0 0 0 0 0.984 0 0 0 0 0.988 4 0 0 0 -2.1"/></filter><filter id="f031" x="0" y="0" width="1" height="1" color-interpolation-filters="sRGB"><feTurbulence type="fractalNoise" baseFrequency="0.32" numOctaves="2" seed="7"/><feColorMatrix type="matrix" values="0 0 0 0 0.510 0 0 0 0 0.831 0 0 0 0 0.894 5 0 0 0 -2.6"/></filter><clipPath id="c10"><rect x="42.3" y="607.2" width="85.7" height="69.0"/></clipPath><filter id="f100" x="0" y="0" width="1" height="1" color-interpolation-filters="sRGB"><feTurbulence type="fractalNoise" baseFrequency="0.28" numOctaves="2" seed="8"/><feColorMatrix type="matrix" values="0 0 0 0 0.549 0 0 0 0 0.596 0 0 0 0 0.933 4 0 0 0 -2.0"/></filter><filter id="f101" x="0" y="0" width="1" height="1" color-interpolation-filters="sRGB"><feTurbulence type="fractalNoise" baseFrequency="0.18" numOctaves="2" seed="9"/><feColorMatrix type="matrix" values="0 0 0 0 0.784 0 0 0 0 0.839 0 0 0 0 0.973 5 0 0 0 -2.8"/></filter><clipPath id="c11"><rect x="130.2" y="607.2" width="85.60000000000002" height="69.0"/></clipPath><filter id="f110" x="0" y="0" width="1" height="1" color-interpolation-filters="sRGB"><feTurbulence type="fractalNoise" baseFrequency="0.06" numOctaves="2" seed="10"/><feColorMatrix type="matrix" values="0 0 0 0 0.882 0 0 0 0 0.980 0 0 0 0 0.980 5 0 0 0 -2.6"/></filter><clipPath id="c12"><rect x="218.8" y="607.2" width="85.30000000000001" height="69.0"/></clipPath><filter id="f120" x="0" y="0" width="1" height="1" color-interpolation-filters="sRGB"><feTurbulence type="fractalNoise" baseFrequency="0.05" numOctaves="2" seed="11"/><feColorMatrix type="matrix" values="0 0 0 0 0.882 0 0 0 0 0.980 0 0 0 0 0.980 5 0 0 0 -2.5"/></filter><clipPath id="c13"><rect x="306.8" y="607.2" width="85.39999999999998" height="69.0"/></clipPath><filter id="f130" x="0" y="0" width="1" height="1" color-interpolation-filters="sRGB"><feTurbulence type="fractalNoise" baseFrequency="0.22" numOctaves="2" seed="12"/><feColorMatrix type="matrix" values="0 0 0 0 0.925 0 0 0 0 0.984 0 0 0 0 0.988 4 0 0 0 -2.1"/></filter><filter id="f131" x="0" y="0" width="1" height="1" color-interpolation-filters="sRGB"><feTurbulence type="fractalNoise" baseFrequency="0.32" numOctaves="2" seed="13"/><feColorMatrix type="matrix" values="0 0 0 0 0.510 0 0 0 0 0.831 0 0 0 0 0.894 5 0 0 0 -2.6"/></filter><clipPath id="c20"><rect x="42.3" y="677.8" width="85.7" height="69.20000000000005"/></clipPath><filter id="f200" x="0" y="0" width="1" height="1" color-interpolation-filters="sRGB"><feTurbulence type="fractalNoise" baseFrequency="0.25" numOctaves="2" seed="14"/><feColorMatrix type="matrix" values="0 0 0 0 0.596 0 0 0 0 0.627 0 0 0 0 0.933 4 0 0 0 -1.8"/></filter><filter id="f201" x="0" y="0" width="1" height="1" color-interpolation-filters="sRGB"><feTurbulence type="fractalNoise" baseFrequency="0.13" numOctaves="2" seed="15"/><feColorMatrix type="matrix" values="0 0 0 0 0.839 0 0 0 0 0.863 0 0 0 0 0.973 5 0 0 0 -2.2"/></filter><clipPath id="c21"><rect x="130.2" y="677.8" width="85.60000000000002" height="69.20000000000005"/></clipPath><filter id="f210" x="0" y="0" width="1" height="1" color-interpolation-filters="sRGB"><feTurbulence type="fractalNoise" baseFrequency="0.12" numOctaves="2" seed="16"/><feColorMatrix type="matrix" values="0 0 0 0 0.882 0 0 0 0 0.965 0 0 0 0 0.961 5 0 0 0 -2.6"/></filter><clipPath id="c22"><rect x="218.8" y="677.8" width="85.30000000000001" height="69.20000000000005"/></clipPath><filter id="f220" x="0" y="0" width="1" height="1" color-interpolation-filters="sRGB"><feTurbulence type="fractalNoise" baseFrequency="0.05" numOctaves="2" seed="17"/><feColorMatrix type="matrix" values="0 0 0 0 0.882 0 0 0 0 0.973 0 0 0 0 0.941 5 0 0 0 -2.5"/></filter><clipPath id="c23"><rect x="306.8" y="677.8" width="85.39999999999998" height="69.20000000000005"/></clipPath><filter id="f230" x="0" y="0" width="1" height="1" color-interpolation-filters="sRGB"><feTurbulence type="fractalNoise" baseFrequency="0.2" numOctaves="2" seed="18"/><feColorMatrix type="matrix" values="0 0 0 0 0.882 0 0 0 0 0.976 0 0 0 0 0.984 4 0 0 0 -2.0"/></filter><filter id="f231" x="0" y="0" width="1" height="1" color-interpolation-filters="sRGB"><feTurbulence type="fractalNoise" baseFrequency="0.32" numOctaves="2" seed="19"/><feColorMatrix type="matrix" values="0 0 0 0 0.392 0 0 0 0 0.804 0 0 0 0 0.894 5 0 0 0 -2.5"/></filter></defs>
<rect x="42.5" y="751.5" width="349" height="63.5" fill="#f5f5f5" stroke="#222" stroke-width="1.2"/>
<g filter="url(#b13)">
<path d="M49 786 Q50 781.5 56 781.5 Q63 782 68 780.8 Q90 779.5 110 781 Q118 782 121 785 Q122 789 117 788.5 Q110 787 95 787 Q75 787 62 788 Q57 790.5 52 789.5 Q48.5 788.5 49 786 Z" fill="#4f4f4f"/>
<path d="M141.5 785 Q150 782 165 781.8 Q185 781.5 198 783.5 Q204 785 204 787 Q199 787.5 190 786 Q170 785 155 786 Q145 787 141.5 785Z" fill="#999"/>
<path d="M221 786 Q223 781.5 232 781 Q250 779.5 270 779.8 Q288 780 293 782 Q295.5 785 294 788.5 Q290 791 284 789.5 Q270 787.5 250 787.5 Q235 788 228 790 Q221 790 221 786Z" fill="#3a3a3a"/>
</g>
<path d="M394.6 783.3 L408.7 776.6 L408.7 790 Z" fill="#000"/>
<text x="18.98" y="28.60" font-family="Liberation Sans, Arial, sans-serif" font-size="14.5" font-weight="bold" textLength="10.52" lengthAdjust="spacingAndGlyphs" stroke="#000" stroke-width="0.35">A</text>
<text x="17.80" y="360.60" font-family="Liberation Sans, Arial, sans-serif" font-size="14.5" font-weight="bold" textLength="9.70" lengthAdjust="spacingAndGlyphs" stroke="#000" stroke-width="0.35">B</text>
<text x="18.48" y="521.60" font-family="Liberation Sans, Arial, sans-serif" font-size="14.5" font-weight="bold" textLength="9.86" lengthAdjust="spacingAndGlyphs" stroke="#000" stroke-width="0.35">C</text>
<text x="81.98" y="89.50" font-family="Liberation Sans, Arial, sans-serif" font-size="11.6" textLength="15.20" lengthAdjust="spacingAndGlyphs" stroke="#000" stroke-width="0.55">1.2</text>
<text x="81.84" y="131.10" font-family="Liberation Sans, Arial, sans-serif" font-size="11.6" textLength="15.66" lengthAdjust="spacingAndGlyphs" stroke="#000" stroke-width="0.55">0.8</text>
<text x="80.98" y="172.50" font-family="Liberation Sans, Arial, sans-serif" font-size="11.6" textLength="16.52" lengthAdjust="spacingAndGlyphs" stroke="#000" stroke-width="0.55">0.4</text>
<text x="91.84" y="214.80" font-family="Liberation Sans, Arial, sans-serif" font-size="11.6" textLength="6.00" lengthAdjust="spacingAndGlyphs" stroke="#000" stroke-width="0.55">0</text>
<text x="429.66" y="234.60" font-family="Liberation Sans, Arial, sans-serif" font-size="10.6" textLength="42.18" lengthAdjust="spacingAndGlyphs" stroke="#000" stroke-width="0.55">mGluR4</text>
<text x="429.50" y="262.70" font-family="Liberation Sans, Arial, sans-serif" font-size="10.7" textLength="25.86" lengthAdjust="spacingAndGlyphs" stroke="#000" stroke-width="0.55">Actin</text>
<text x="58.16" y="374.80" font-family="Liberation Sans, Arial, sans-serif" font-size="10.6" textLength="35.52" lengthAdjust="spacingAndGlyphs" stroke="#000" stroke-width="0.3">SNU-61</text>
<text x="132.32" y="375.10" font-family="Liberation Sans, Arial, sans-serif" font-size="10.6" textLength="35.02" lengthAdjust="spacingAndGlyphs" stroke="#000" stroke-width="0.3">SNU-81</text>
<text x="205.64" y="374.30" font-family="Liberation Sans, Arial, sans-serif" font-size="10.6" textLength="41.54" lengthAdjust="spacingAndGlyphs" stroke="#000" stroke-width="0.3">SNU-407</text>
<text x="277.64" y="374.50" font-family="Liberation Sans, Arial, sans-serif" font-size="10.6" textLength="47.88" lengthAdjust="spacingAndGlyphs" stroke="#000" stroke-width="0.3">SNU-1033</text>
<text x="351.80" y="374.60" font-family="Liberation Sans, Arial, sans-serif" font-size="10.6" textLength="27.88" lengthAdjust="spacingAndGlyphs" stroke="#000" stroke-width="0.3">Huh-7</text>
<text x="37.98" y="367.00" font-family="Liberation Sans, Arial, sans-serif" font-size="9.0" textLength="13.68" lengthAdjust="spacingAndGlyphs" stroke="#000" stroke-width="0.55">125</text>
<text x="37.98" y="425.80" font-family="Liberation Sans, Arial, sans-serif" font-size="9.0" textLength="13.52" lengthAdjust="spacingAndGlyphs" stroke="#000" stroke-width="0.55">100</text>
<text x="42.84" y="484.70" font-family="Liberation Sans, Arial, sans-serif" font-size="8.6" textLength="9.50" lengthAdjust="spacingAndGlyphs" stroke="#000" stroke-width="0.55">75</text>
<text x="419.64" y="493.80" font-family="Liberation Sans, Arial, sans-serif" font-size="9.6" textLength="14.02" lengthAdjust="spacingAndGlyphs" stroke="#000" stroke-width="0.55">hrs</text>
<text x="447.66" y="417.60" font-family="Liberation Sans, Arial, sans-serif" font-size="8.6" textLength="53.66" lengthAdjust="spacingAndGlyphs" stroke="#000" stroke-width="0.55">0.1 µM L-AP4</text>
<text x="447.66" y="429.70" font-family="Liberation Sans, Arial, sans-serif" font-size="8.6" textLength="53.00" lengthAdjust="spacingAndGlyphs" stroke="#000" stroke-width="0.55">0.1 µM MAP4</text>
<text x="61.48" y="529.50" font-family="Liberation Sans, Arial, sans-serif" font-size="10.6" textLength="45.20" lengthAdjust="spacingAndGlyphs" stroke="#000" stroke-width="0.3">HT-1080</text>
<text x="152.16" y="529.50" font-family="Liberation Sans, Arial, sans-serif" font-size="10.6" textLength="40.18" lengthAdjust="spacingAndGlyphs" stroke="#000" stroke-width="0.3">SNU-81</text>
<text x="236.66" y="529.50" font-family="Liberation Sans, Arial, sans-serif" font-size="10.6" textLength="47.18" lengthAdjust="spacingAndGlyphs" stroke="#000" stroke-width="0.3">SNU-407</text>
<text x="330.64" y="528.90" font-family="Liberation Sans, Arial, sans-serif" font-size="10.6" textLength="31.20" lengthAdjust="spacingAndGlyphs" stroke="#000" stroke-width="0.3">Huh-7</text>
<text x="398.00" y="575.70" font-family="Liberation Sans, Arial, sans-serif" font-size="11.2" textLength="36.86" lengthAdjust="spacingAndGlyphs" stroke="#000" stroke-width="0.38">Control</text>
<text x="397.46" y="647.20" font-family="Liberation Sans, Arial, sans-serif" font-size="10.9" textLength="81.90" lengthAdjust="spacingAndGlyphs" stroke="#000" stroke-width="0.38">L-AP 4 (0.1 µM)</text>
<text x="397.46" y="716.60" font-family="Liberation Sans, Arial, sans-serif" font-size="10.9" textLength="81.20" lengthAdjust="spacingAndGlyphs" stroke="#000" stroke-width="0.38">MAP 4 (0.1 µM)</text>
<text x="412.98" y="786.20" font-family="Liberation Sans, Arial, sans-serif" font-size="10.0" textLength="42.68" lengthAdjust="spacingAndGlyphs" stroke="#000" stroke-width="0.38">mGluR4</text>
<text x="54.18" y="493.90" font-family="Liberation Sans, Arial, sans-serif" font-size="7.6" textLength="3.50" lengthAdjust="spacingAndGlyphs" stroke="#000" stroke-width="0.45">0</text>
<text x="65.84" y="493.90" font-family="Liberation Sans, Arial, sans-serif" font-size="7.6" textLength="9.66" lengthAdjust="spacingAndGlyphs" stroke="#000" stroke-width="0.45">24</text>
<text x="79.66" y="493.90" font-family="Liberation Sans, Arial, sans-serif" font-size="7.6" textLength="10.02" lengthAdjust="spacingAndGlyphs" stroke="#000" stroke-width="0.45">48</text>
<text x="94.34" y="493.90" font-family="Liberation Sans, Arial, sans-serif" font-size="7.6" textLength="9.66" lengthAdjust="spacingAndGlyphs" stroke="#000" stroke-width="0.45">72</text>
<text x="107.98" y="493.90" font-family="Liberation Sans, Arial, sans-serif" font-size="7.6" textLength="10.20" lengthAdjust="spacingAndGlyphs" stroke="#000" stroke-width="0.45">96</text>
<text x="127.68" y="493.90" font-family="Liberation Sans, Arial, sans-serif" font-size="7.6" textLength="2.80" lengthAdjust="spacingAndGlyphs" stroke="#000" stroke-width="0.45">0</text>
<text x="139.34" y="493.90" font-family="Liberation Sans, Arial, sans-serif" font-size="7.6" textLength="9.66" lengthAdjust="spacingAndGlyphs" stroke="#000" stroke-width="0.45">24</text>
<text x="153.16" y="493.90" font-family="Liberation Sans, Arial, sans-serif" font-size="7.6" textLength="10.02" lengthAdjust="spacingAndGlyphs" stroke="#000" stroke-width="0.45">48</text>
<text x="167.84" y="493.90" font-family="Liberation Sans, Arial, sans-serif" font-size="7.6" textLength="9.66" lengthAdjust="spacingAndGlyphs" stroke="#000" stroke-width="0.45">72</text>
<text x="181.48" y="493.90" font-family="Liberation Sans, Arial, sans-serif" font-size="7.6" textLength="10.20" lengthAdjust="spacingAndGlyphs" stroke="#000" stroke-width="0.45">96</text>
<text x="201.00" y="493.90" font-family="Liberation Sans, Arial, sans-serif" font-size="7.6" textLength="3.50" lengthAdjust="spacingAndGlyphs" stroke="#000" stroke-width="0.45">0</text>
<text x="212.66" y="493.90" font-family="Liberation Sans, Arial, sans-serif" font-size="7.6" textLength="9.66" lengthAdjust="spacingAndGlyphs" stroke="#000" stroke-width="0.45">24</text>
<text x="227.18" y="493.90" font-family="Liberation Sans, Arial, sans-serif" font-size="7.6" textLength="9.32" lengthAdjust="spacingAndGlyphs" stroke="#000" stroke-width="0.45">48</text>
<text x="241.16" y="493.90" font-family="Liberation Sans, Arial, sans-serif" font-size="7.6" textLength="10.36" lengthAdjust="spacingAndGlyphs" stroke="#000" stroke-width="0.45">72</text>
<text x="255.50" y="493.90" font-family="Liberation Sans, Arial, sans-serif" font-size="7.6" textLength="9.50" lengthAdjust="spacingAndGlyphs" stroke="#000" stroke-width="0.45">96</text>
<text x="273.34" y="493.90" font-family="Liberation Sans, Arial, sans-serif" font-size="7.6" textLength="3.50" lengthAdjust="spacingAndGlyphs" stroke="#000" stroke-width="0.45">0</text>
<text x="285.00" y="493.90" font-family="Liberation Sans, Arial, sans-serif" font-size="7.6" textLength="9.66" lengthAdjust="spacingAndGlyphs" stroke="#000" stroke-width="0.45">24</text>
<text x="299.52" y="493.90" font-family="Liberation Sans, Arial, sans-serif" font-size="7.6" textLength="9.32" lengthAdjust="spacingAndGlyphs" stroke="#000" stroke-width="0.45">48</text>
<text x="313.50" y="493.90" font-family="Liberation Sans, Arial, sans-serif" font-size="7.6" textLength="9.66" lengthAdjust="spacingAndGlyphs" stroke="#000" stroke-width="0.45">72</text>
<text x="327.84" y="493.90" font-family="Liberation Sans, Arial, sans-serif" font-size="7.6" textLength="9.50" lengthAdjust="spacingAndGlyphs" stroke="#000" stroke-width="0.45">96</text>
<text x="347.00" y="493.90" font-family="Liberation Sans, Arial, sans-serif" font-size="7.6" textLength="3.50" lengthAdjust="spacingAndGlyphs" stroke="#000" stroke-width="0.45">0</text>
<text x="358.66" y="493.90" font-family="Liberation Sans, Arial, sans-serif" font-size="7.6" textLength="9.66" lengthAdjust="spacingAndGlyphs" stroke="#000" stroke-width="0.45">24</text>
<text x="373.18" y="493.90" font-family="Liberation Sans, Arial, sans-serif" font-size="7.6" textLength="9.32" lengthAdjust="spacingAndGlyphs" stroke="#000" stroke-width="0.45">48</text>
<text x="387.16" y="493.90" font-family="Liberation Sans, Arial, sans-serif" font-size="7.6" textLength="10.36" lengthAdjust="spacingAndGlyphs" stroke="#000" stroke-width="0.45">72</text>
<text x="401.50" y="493.90" font-family="Liberation Sans, Arial, sans-serif" font-size="7.6" textLength="9.50" lengthAdjust="spacingAndGlyphs" stroke="#000" stroke-width="0.45">96</text>
<text transform="translate(54.40,208.80) rotate(-90)" x="-0.56" y="0" font-family="Liberation Sans, Arial, sans-serif" font-size="12" font-weight="bold" textLength="175.54" lengthAdjust="spacingAndGlyphs" stroke="#000" stroke-width="0.3">mGluR4 Expression normalized</text>
<text transform="translate(70.80,204.20) rotate(-90)" x="-0.14" y="0" font-family="Liberation Sans, Arial, sans-serif" font-size="12" font-weight="bold" textLength="165.70" lengthAdjust="spacingAndGlyphs" stroke="#000" stroke-width="0.3">with Actin (Arbitrary Unit, OD)</text>
<text transform="translate(127.60,318.70) rotate(-90)" x="-0.14" y="0" font-family="Liberation Sans, Arial, sans-serif" font-size="12.6" font-weight="bold" textLength="39.34" lengthAdjust="spacingAndGlyphs" stroke="#000" stroke-width="0.3">SNU-61</text>
<text transform="translate(165.60,318.40) rotate(-90)" x="-0.28" y="0" font-family="Liberation Sans, Arial, sans-serif" font-size="12.6" font-weight="bold" textLength="39.34" lengthAdjust="spacingAndGlyphs" stroke="#000" stroke-width="0.3">SNU-81</text>
<text transform="translate(204.00,324.80) rotate(-90)" x="-0.56" y="0" font-family="Liberation Sans, Arial, sans-serif" font-size="12.6" font-weight="bold" textLength="47.36" lengthAdjust="spacingAndGlyphs" stroke="#000" stroke-width="0.3">SNU-407</text>
<text transform="translate(242.60,331.80) rotate(-90)" x="-0.56" y="0" font-family="Liberation Sans, Arial, sans-serif" font-size="12.6" font-weight="bold" textLength="54.20" lengthAdjust="spacingAndGlyphs" stroke="#000" stroke-width="0.3">SNU-1033</text>
<text transform="translate(281.10,331.80) rotate(-90)" x="-0.56" y="0" font-family="Liberation Sans, Arial, sans-serif" font-size="12.6" font-weight="bold" textLength="54.20" lengthAdjust="spacingAndGlyphs" stroke="#000" stroke-width="0.3">SNU-1047</text>
<text transform="translate(319.20,328.80) rotate(-90)" x="-0.56" y="0" font-family="Liberation Sans, Arial, sans-serif" font-size="12.6" font-weight="bold" textLength="51.20" lengthAdjust="spacingAndGlyphs" stroke="#000" stroke-width="0.3">SNU-C2A</text>
<text transform="translate(357.10,323.20) rotate(-90)" x="-0.14" y="0" font-family="Liberation Sans, Arial, sans-serif" font-size="12.6" font-weight="bold" textLength="41.66" lengthAdjust="spacingAndGlyphs" stroke="#000" stroke-width="0.3">SNU-C4</text>
<text transform="translate(395.50,320.90) rotate(-90)" x="-0.28" y="0" font-family="Liberation Sans, Arial, sans-serif" font-size="12.6" font-weight="bold" textLength="43.52" lengthAdjust="spacingAndGlyphs" stroke="#000" stroke-width="0.3">SNU-C5</text>
<text transform="translate(26.90,468.80) rotate(-90)" x="0.14" y="0" font-family="Liberation Sans, Arial, sans-serif" font-size="10.9" font-weight="bold" textLength="93.52" lengthAdjust="spacingAndGlyphs" stroke="#000" stroke-width="0.3">% Cell Proliferation</text></svg>
</body></html>
